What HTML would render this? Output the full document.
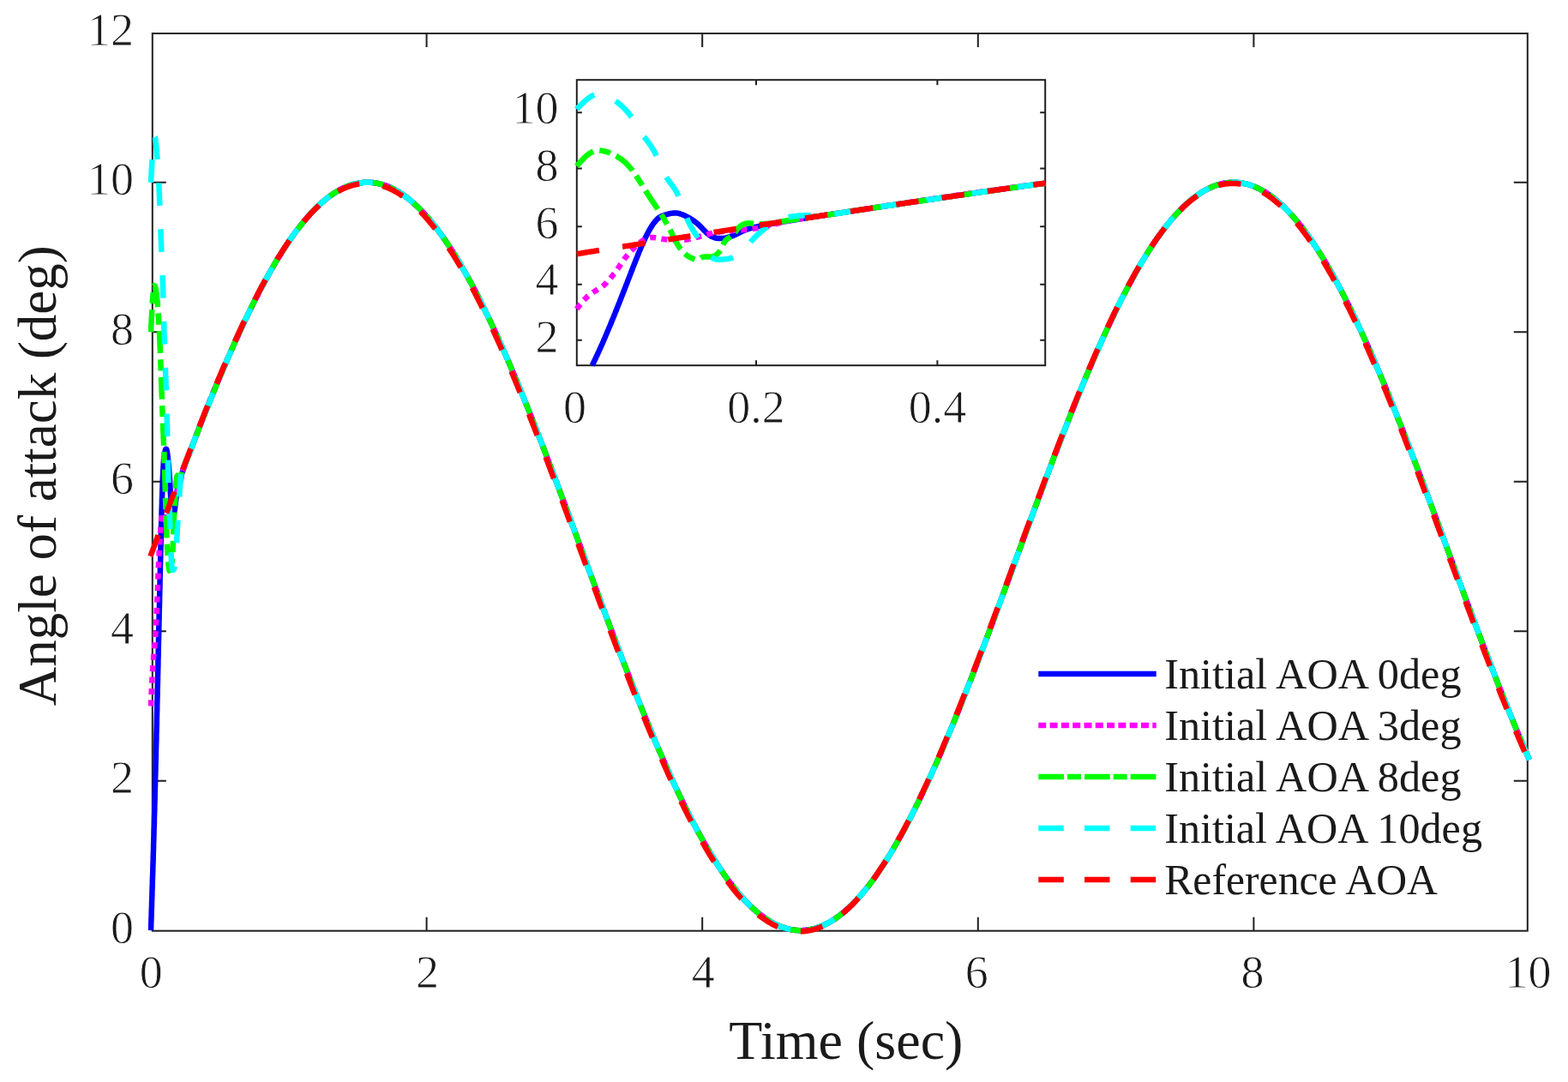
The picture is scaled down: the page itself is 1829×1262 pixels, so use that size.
<!DOCTYPE html><html><head><meta charset="utf-8"><title>Angle of attack</title><style>html,body{margin:0;padding:0;background:#fff;}svg{display:block;}text{font-family:'Liberation Serif', 'DejaVu Serif', serif;fill:#1a1a1a;}</style></head><body>
<svg width="1829" height="1262" viewBox="0 0 1829 1262">
<rect width="1829" height="1262" fill="#fff"/>
<g stroke="#1f1f1f" stroke-width="2" fill="none">
<rect x="177.8" y="39.0" width="1604.0" height="1046.7"/>
<path d="M497.6,1085.7V1069.7M497.6,39.0V55.0M819.2,1085.7V1069.7M819.2,39.0V55.0M1140.8,1085.7V1069.7M1140.8,39.0V55.0M1462.4,1085.7V1069.7M1462.4,39.0V55.0M177.8,910.7H193.8M1781.8,910.7H1765.8M177.8,736.2H193.8M1781.8,736.2H1765.8M177.8,561.7H193.8M1781.8,561.7H1765.8M177.8,387.2H193.8M1781.8,387.2H1765.8M177.8,212.7H193.8M1781.8,212.7H1765.8"/>
</g>
<g font-size="54" stroke="#fff" stroke-width="0.8">
<text x="156" y="1099.7" text-anchor="end">0</text>
<text x="156" y="925.2" text-anchor="end">2</text>
<text x="156" y="750.7" text-anchor="end">4</text>
<text x="156" y="576.2" text-anchor="end">6</text>
<text x="156" y="401.7" text-anchor="end">8</text>
<text x="156" y="227.2" text-anchor="end">10</text>
<text x="156" y="52.7" text-anchor="end">12</text>
<text x="176.3" y="1151.5" text-anchor="middle">0</text>
<text x="498.6" y="1151.5" text-anchor="middle">2</text>
<text x="820.2" y="1151.5" text-anchor="middle">4</text>
<text x="1139.3" y="1151.5" text-anchor="middle">6</text>
<text x="1460.9" y="1151.5" text-anchor="middle">8</text>
<text x="1782.5" y="1151.5" text-anchor="middle">10</text>
</g>
<text x="850.2" y="1235.2" font-size="64">Time (sec)</text>
<text transform="translate(65.3,823.2) rotate(-90)" font-size="63">Angle of attack (deg)</text>
<g fill="none" stroke-width="6.5" stroke-linejoin="round" stroke-linecap="butt">
<path d="M176.0,1085.2 176.1,1082.8 176.2,1080.3 176.2,1077.9 176.3,1075.4 176.4,1073.0 176.5,1070.5 176.6,1068.1 176.6,1065.6 176.7,1063.1 176.8,1060.7 176.9,1058.2 177.0,1055.7 177.0,1053.3 177.1,1050.8 177.2,1048.3 177.3,1045.8 177.4,1043.3 177.4,1040.7 177.5,1038.2 177.6,1035.7 177.7,1033.1 177.8,1030.6 177.8,1028.0 177.9,1025.5 178.0,1022.9 178.1,1020.3 178.2,1017.7 178.3,1015.0 178.3,1012.4 178.4,1009.8 178.5,1007.1 178.6,1004.4 178.7,1001.7 178.7,999.0 178.8,996.3 178.9,993.6 179.0,990.8 179.1,988.0 179.1,985.2 179.2,982.4 179.3,979.6 179.4,976.8 179.5,973.9 179.5,971.0 179.6,968.1 179.7,965.2 179.8,962.3 179.9,959.4 179.9,956.4 180.0,953.4 180.1,950.4 180.2,947.4 180.3,944.4 180.3,941.4 180.4,938.3 180.5,935.3 180.6,932.2 180.7,929.1 180.7,926.0 180.8,922.9 180.9,919.7 181.0,916.6 181.1,913.4 181.1,910.3 181.2,907.1 181.3,903.9 181.4,900.7 181.5,897.4 181.5,894.2 181.6,891.0 181.7,887.7 181.8,884.4 181.9,881.2 181.9,877.9 182.0,874.6 182.1,871.3 182.2,867.9 182.3,864.6 182.4,861.3 182.4,857.9 182.5,854.6 182.6,851.2 182.7,847.8 182.8,844.4 182.8,841.0 182.9,837.6 183.0,834.2 183.1,830.8 183.2,827.4 183.2,824.0 183.3,820.5 183.4,817.1 183.5,813.6 183.6,810.2 183.6,806.7 183.7,803.2 183.8,799.7 183.9,796.3 184.0,792.8 184.0,789.3 184.1,785.8 184.2,782.3 184.3,778.7 184.4,775.2 184.4,771.7 184.5,768.2 184.6,764.7 184.7,761.1 184.8,757.6 184.8,754.0 184.9,750.5 185.0,747.0 185.1,743.4 185.2,739.9 185.2,736.3 185.3,732.7 185.4,729.2 185.5,725.6 185.6,722.1 185.6,718.5 185.7,714.9 185.8,711.4 185.9,707.8 186.0,704.2 186.1,700.7 186.1,697.1 186.2,693.5 186.3,690.0 186.4,686.4 186.5,682.9 186.5,679.4 186.6,675.8 186.7,672.3 186.8,668.8 186.9,665.3 186.9,661.8 187.0,658.4 187.1,654.9 187.2,651.5 187.3,648.1 187.3,644.7 187.4,641.4 187.5,638.1 187.6,634.8 187.7,631.5 187.7,628.2 187.8,625.0 187.9,621.8 188.0,618.7 188.1,615.6 188.1,612.5 188.2,609.4 188.3,606.4 188.4,603.5 188.5,600.5 188.5,597.7 188.6,594.8 188.7,592.0 188.8,589.3 188.9,586.6 188.9,583.9 189.0,581.3 189.1,578.8 189.2,576.3 189.3,573.8 189.3,571.5 189.4,569.1 189.5,566.9 189.6,564.7 189.7,562.5 189.7,560.4 189.8,558.4 189.9,556.5 190.0,554.6 190.1,552.7 190.2,551.0 190.2,549.3 190.3,547.7 190.4,546.1 190.5,544.6 190.6,543.2 190.6,541.9 190.7,540.6 190.8,539.5 190.9,538.4 191.0,537.3 191.0,536.4 191.1,535.5 191.3,534.0 191.4,532.8 191.6,531.8 191.8,530.8 191.9,529.9 192.1,529.0 192.2,528.2 192.4,527.3 192.6,526.5 192.8,525.5 193.0,524.5 193.4,523.7 194.2,523.9 194.4,524.6 194.7,525.7 194.8,526.6 195.0,527.6 195.1,528.7 195.3,529.8 195.5,531.1 195.6,532.4 195.8,533.8 195.9,535.3 196.1,536.8 196.3,538.4 196.3,539.2 196.4,540.0 196.5,540.8 196.6,541.6 196.7,542.5 196.7,543.4 196.8,544.2 196.9,545.1 197.0,546.1 197.1,547.0 197.1,548.0 197.2,549.0 197.3,550.0 197.4,551.0 197.5,552.1 197.5,553.2 197.6,554.3 197.7,555.5 197.8,556.7 197.9,557.9 197.9,559.1 198.0,560.4 198.1,561.7 198.2,563.0 198.3,564.4 198.4,565.8 198.4,567.2 198.5,568.7 198.6,570.1 198.7,571.6 198.8,573.1 198.8,574.5 198.9,576.0 199.0,577.4 199.1,578.8 199.2,580.2 199.2,581.6 199.3,582.9 199.4,584.2 199.5,585.5 199.6,586.7 199.6,587.9 199.7,589.0 199.8,590.0 199.9,591.0 200.0,591.9 200.0,592.8 200.1,593.6 200.3,595.1 200.4,596.4 200.6,597.5 200.8,598.5 201.0,599.6 201.3,600.5 202.0,600.9 202.5,600.0 202.9,599.0 203.1,598.1 203.3,596.9 203.5,596.0 203.7,595.1 203.8,594.1 204.0,593.0 204.1,591.9 204.3,590.7 204.5,589.4 204.6,588.2 204.8,586.8 204.9,585.5 205.1,584.1 205.3,582.8 205.4,581.5 205.6,580.1 205.7,578.8 205.9,577.6 206.1,576.4 206.2,575.2 206.4,574.1 206.6,573.1 206.7,572.2 206.9,571.3 207.0,570.5 207.2,569.7 207.4,568.6 207.7,567.6 207.9,566.6 208.2,565.7 208.4,564.8 208.6,563.9 208.9,563.0 209.1,562.2 209.4,561.3 209.6,560.5 209.8,559.6 210.1,558.8 210.3,558.0 210.6,557.2 210.8,556.5 211.1,555.7 211.4,554.7 211.7,553.7 212.0,552.7 212.3,551.7 212.7,550.8 213.0,549.8 213.3,548.9 213.6,548.0 213.9,547.1 214.3,546.2 214.6,545.3 214.9,544.4 215.2,543.5 215.6,542.6 215.9,541.8 216.2,540.9 216.5,540.0 216.8,539.2 217.2,538.4 217.5,537.5 217.8,536.7 218.1,535.8 218.5,535.0 218.8,534.2 219.1,533.3 219.4,532.5 219.7,531.7 220.1,530.9 220.4,530.0 220.7,529.2 221.0,528.4 221.3,527.6 221.7,526.7 222.0,525.9 222.3,525.1 222.6,524.2 223.0,523.4 223.3,522.6 223.6,521.7 223.9,520.9 224.2,520.1 224.6,519.2 224.9,518.4 225.2,517.6 225.5,516.7 225.8,515.9 226.2,515.1 226.5,514.2 226.8,513.4 227.1,512.6 227.5,511.7 227.8,510.9 228.1,510.1 228.4,509.2 228.7,508.4 229.1,507.6 229.4,506.7 229.7,505.9 230.0,505.1 230.4,504.3 230.7,503.4 231.0,502.6 231.3,501.8 231.6,500.9 232.0,500.1 232.3,499.3 232.6,498.5 232.9,497.7 233.2,496.8 233.6,496.0 233.9,495.2 234.2,494.4 234.5,493.6 234.9,492.7 235.2,491.9 235.5,491.1 235.8,490.3 236.1,489.5 236.5,488.7 236.8,487.9 237.1,487.0 237.4,486.2 237.7,485.4 238.1,484.6 238.4,483.8 238.7,483.0 239.0,482.2 239.4,481.4 239.7,480.6 240.0,479.8 240.3,479.0 240.6,478.1 241.0,477.3 241.3,476.5 241.6,475.7 241.9,474.9 242.2,474.1 242.6,473.3 242.9,472.5 243.2,471.7 243.5,470.9 243.9,470.1 244.2,469.4 244.5,468.6 244.8,467.8 245.1,467.0 245.5,466.2 245.8,465.4 246.1,464.6 246.4,463.8 246.8,463.0 247.1,462.2 247.4,461.4 247.7,460.7 248.0,459.9 248.4,459.1 248.7,458.3 249.0,457.5 249.3,456.7 249.6,455.9 250.0,455.2 250.3,454.4 250.6,453.6 250.9,452.8 251.3,452.0 251.6,451.3 251.9,450.5 252.2,449.7 252.5,448.9 252.9,448.2 253.2,447.4 253.5,446.6 253.8,445.9 254.1,445.1 254.5,444.3 254.8,443.5 255.1,442.8 255.4,442.0 255.8,441.2 256.1,440.5 256.4,439.7 256.7,438.9 257.0,438.2 257.4,437.4 257.7,436.7 258.0,435.9 258.3,435.1 258.7,434.4 259.0,433.6 259.3,432.9 259.6,432.1 259.9,431.4 260.3,430.6 260.6,429.9 260.9,429.1 261.2,428.3 261.5,427.6 261.9,426.8 262.2,426.1 262.5,425.4 262.8,424.6 263.2,423.9 263.5,423.1 263.8,422.4 264.1,421.6 264.4,420.9 264.8,420.1 265.1,419.4 265.4,418.7 265.7,417.9 266.0,417.2 266.4,416.4 266.7,415.7 267.0,415.0 267.3,414.2 267.7,413.5 268.1,412.6 268.5,411.7 268.9,410.8 269.3,409.9 269.7,408.9 270.1,408.0 270.5,407.1 270.9,406.2 271.3,405.3 271.7,404.4 272.1,403.5 272.5,402.6 273.3,400.8 274.1,399.0 274.9,397.3 275.7,395.5 276.5,393.7 277.3,392.0 278.1,390.2 278.9,388.5 279.7,386.7 280.5,385.0 281.3,383.2 282.1,381.5 282.9,379.8 283.7,378.1 284.5,376.4 285.3,374.7 286.1,373.0 287.0,371.3 287.8,369.6 288.6,368.0 289.4,366.3 290.2,364.6 291.0,363.0 291.8,361.4 292.6,359.7 293.4,358.1 294.2,356.5 295.0,354.9 295.8,353.2 296.6,351.6 297.4,350.1 298.2,348.5 299.0,346.9 299.8,345.3 300.6,343.8 301.4,342.2 302.2,340.7 303.0,339.1 303.8,337.6 304.6,336.1 305.4,334.5 306.2,333.0 307.1,331.5 307.9,330.0 308.7,328.6 309.5,327.1 310.3,325.6 311.1,324.2 311.9,322.7 312.7,321.3 313.5,319.8 314.3,318.4 315.1,317.0 315.9,315.6 316.7,314.2 317.5,312.8 318.3,311.4 319.1,310.0 319.9,308.6 320.7,307.3 321.5,305.9 322.3,304.6 323.1,303.2 323.9,301.9 324.7,300.6 325.5,299.3 326.3,298.0 327.2,296.7 328.0,295.4 328.8,294.1 329.6,292.9 330.4,291.6 331.2,290.3 332.0,289.1 332.8,287.9 333.6,286.7 334.4,285.4 335.2,284.2 336.0,283.0 336.8,281.9 337.6,280.7 338.4,279.5 339.2,278.4 340.0,277.2 340.8,276.1 341.6,275.0 342.4,273.8 343.2,272.7 344.0,271.6 344.8,270.5 345.6,269.5 346.4,268.4 347.3,267.3 348.1,266.3 348.9,265.2 349.7,264.2 350.5,263.2 351.3,262.2 352.1,261.2 352.9,260.2 353.7,259.2 354.5,258.2 355.3,257.2 356.1,256.3 356.9,255.3 357.7,254.4 358.5,253.5 359.3,252.6 360.1,251.7 360.9,250.8 361.7,249.9 362.5,249.0 363.3,248.1 364.1,247.3 364.9,246.4 365.7,245.6 366.5,244.8 367.4,243.9 368.2,243.1 369.0,242.3 369.8,241.6 370.6,240.8 371.4,240.0 372.2,239.3 373.0,238.5 373.8,237.8 374.6,237.1 375.4,236.4 376.2,235.6 377.0,235.0 377.8,234.3 378.6,233.6 379.4,232.9 380.2,232.3 381.0,231.6 381.8,231.0 382.6,230.4 383.4,229.8 384.2,229.2 385.0,228.6 385.8,228.0 386.6,227.5 387.5,226.9 388.3,226.3 389.1,225.8 389.9,225.3 390.7,224.8 391.5,224.3 392.3,223.8 393.1,223.3 393.9,222.8 394.7,222.4 395.5,221.9 396.3,221.5 397.1,221.0 397.9,220.6 398.7,220.2 399.5,219.8 400.3,219.4 401.1,219.0 401.9,218.7 402.7,218.3 403.5,218.0 404.3,217.7 405.1,217.3 405.9,217.0 406.7,216.7 407.6,216.4 408.4,216.1 409.2,215.9 410.0,215.6 410.8,215.4 411.6,215.1 412.4,214.9 413.2,214.7 414.0,214.5 414.8,214.3 415.6,214.1 416.4,214.0 417.2,213.8 418.0,213.6 418.8,213.5 419.6,213.4 420.4,213.3 421.2,213.2 422.0,213.1 422.8,213.0 423.6,212.9 424.4,212.8 425.2,212.8 426.0,212.8 426.8,212.7 427.7,212.7 428.5,212.7 429.3,212.7 430.1,212.7 430.9,212.7 431.7,212.8 432.5,212.8 433.3,212.9 434.1,213.0 434.9,213.0 435.7,213.1 436.5,213.2 437.3,213.3 438.1,213.5 438.9,213.6 439.7,213.7 440.5,213.9 441.3,214.1 442.1,214.2 442.9,214.4 443.7,214.6 444.5,214.8 445.3,215.1 446.1,215.3 446.9,215.5 447.8,215.8 448.6,216.1 449.4,216.3 450.2,216.6 451.0,216.9 451.8,217.2 452.6,217.5 453.4,217.9 454.2,218.2 455.0,218.6 455.8,218.9 456.6,219.3 457.4,219.7 458.2,220.1 459.0,220.5 459.8,220.9 460.6,221.3 461.4,221.8 462.2,222.2 463.0,222.7 463.8,223.1 464.6,223.6 465.4,224.1 466.2,224.6 467.0,225.1 467.9,225.6 468.7,226.2 469.5,226.7 470.3,227.3 471.1,227.8 471.9,228.4 472.7,229.0 473.5,229.6 474.3,230.2 475.1,230.8 475.9,231.4 476.7,232.1 477.5,232.7 478.3,233.4 479.1,234.1 479.9,234.7 480.7,235.4 481.5,236.1 482.3,236.8 483.1,237.6 483.9,238.3 484.7,239.0 485.5,239.8 486.3,240.5 487.1,241.3 488.0,242.1 488.8,242.9 489.6,243.7 490.4,244.5 491.2,245.3 492.0,246.2 492.8,247.0 493.6,247.9 494.4,248.7 495.2,249.6 496.0,250.5 496.8,251.4 497.6,252.3 498.4,253.2 499.2,254.1 500.0,255.0 500.8,256.0 501.6,256.9 502.4,257.9 503.2,258.9 504.0,259.8 504.8,260.8 505.6,261.8 506.4,262.8 507.2,263.9 508.1,264.9 508.9,265.9 509.7,267.0 510.5,268.0 511.3,269.1 512.1,270.2 512.9,271.3 513.7,272.4 514.5,273.5 515.3,274.6 516.1,275.7 516.9,276.9 517.7,278.0 518.5,279.2 519.3,280.3 520.1,281.5 520.9,282.7 521.7,283.9 522.5,285.1 523.3,286.3 524.1,287.5 524.9,288.7 525.7,289.9 526.5,291.2 527.3,292.4 528.2,293.7 529.0,295.0 529.8,296.2 530.6,297.5 531.4,298.8 532.2,300.1 533.0,301.4 533.8,302.8 534.6,304.1 535.4,305.4 536.2,306.8 537.0,308.1 537.8,309.5 538.6,310.9 539.4,312.3 540.2,313.7 541.0,315.1 541.8,316.5 542.6,317.9 543.4,319.3 544.2,320.7 545.0,322.2 545.8,323.6 546.6,325.1 547.4,326.6 548.3,328.0 549.1,329.5 549.9,331.0 550.7,332.5 551.5,334.0 552.3,335.5 553.1,337.0 553.9,338.6 554.7,340.1 555.5,341.7 556.3,343.2 557.1,344.8 557.9,346.3 558.7,347.9 559.5,349.5 560.3,351.1 561.1,352.7 561.9,354.3 562.7,355.9 563.5,357.5 564.3,359.1 565.1,360.8 565.9,362.4 566.7,364.1 567.5,365.7 568.4,367.4 569.2,369.0 570.0,370.7 570.8,372.4 571.6,374.1 572.4,375.8 573.2,377.5 574.0,379.2 574.8,380.9 575.6,382.7 576.4,384.4 577.2,386.1 578.0,387.9 578.8,389.6 579.6,391.4 580.4,393.1 581.2,394.9 582.0,396.7 582.8,398.5 583.6,400.3 584.4,402.1 585.2,403.9 586.0,405.7 586.8,407.5 587.6,409.3 588.5,411.1 589.3,413.0 590.1,414.8 590.9,416.6 591.7,418.5 592.5,420.3 593.3,422.2 594.1,424.1 594.9,425.9 595.7,427.8 596.5,429.7 597.3,431.6 598.1,433.5 598.9,435.4 599.7,437.3 600.5,439.2 601.3,441.1 602.1,443.0 602.9,445.0 603.7,446.9 604.5,448.8 605.3,450.8 606.1,452.7 606.9,454.7 607.7,456.6 608.6,458.6 609.4,460.5 610.2,462.5 611.0,464.5 611.8,466.5 612.6,468.4 613.4,470.4 614.2,472.4 615.0,474.4 615.8,476.4 616.6,478.4 617.4,480.4 618.2,482.5 619.0,484.5 619.8,486.5 620.6,488.5 621.4,490.5 622.2,492.6 623.0,494.6 623.8,496.7 624.6,498.7 625.4,500.8 626.2,502.8 627.0,504.9 627.8,506.9 628.7,509.0 629.5,511.1 630.3,513.1 631.1,515.2 631.9,517.3 632.7,519.4 633.5,521.5 634.3,523.5 635.1,525.6 635.9,527.7 636.7,529.8 637.5,531.9 638.3,534.0 639.1,536.1 639.9,538.2 640.7,540.3 641.5,542.5 642.3,544.6 643.1,546.7 643.9,548.8 644.7,550.9 645.5,553.1 646.3,555.2 647.1,557.3 647.9,559.5 648.8,561.6 649.6,563.7 650.4,565.9 651.2,568.0 652.0,570.2 652.8,572.3 653.6,574.5 654.4,576.6 655.2,578.8 656.0,580.9 656.8,583.1 657.6,585.2 658.4,587.4 659.2,589.5 660.0,591.7 660.8,593.9 661.6,596.0 662.4,598.2 663.2,600.4 664.0,602.5 664.8,604.7 665.6,606.9 666.4,609.0 667.2,611.2 668.0,613.4 668.9,615.6 669.7,617.7 670.5,619.9 671.3,622.1 672.1,624.3 672.9,626.5 673.7,628.6 674.5,630.8 675.3,633.0 676.1,635.2 676.9,637.4 677.7,639.5 678.5,641.7 679.3,643.9 680.1,646.1 680.9,648.3 681.7,650.4 682.5,652.6 683.3,654.8 684.1,657.0 684.9,659.2 685.7,661.3 686.5,663.5 687.3,665.7 688.1,667.9 689.0,670.1 689.8,672.2 690.6,674.4 691.4,676.6 692.2,678.8 693.0,680.9 693.8,683.1 694.6,685.3 695.4,687.5 696.2,689.6 697.0,691.8 697.8,694.0 698.6,696.2 699.4,698.3 700.2,700.5 701.0,702.6 701.8,704.8 702.6,707.0 703.4,709.1 704.2,711.3 705.0,713.5 705.8,715.6 706.6,717.8 707.4,719.9 708.2,722.1 709.1,724.2 709.9,726.4 710.7,728.5 711.5,730.7 712.3,732.8 713.1,734.9 713.9,737.1 714.7,739.2 715.5,741.3 716.3,743.5 717.1,745.6 717.9,747.7 718.7,749.9 719.5,752.0 720.3,754.1 721.1,756.2 721.9,758.3 722.7,760.4 723.5,762.5 724.3,764.6 725.1,766.7 725.9,768.8 726.7,770.9 727.5,773.0 728.3,775.1 729.2,777.2 730.0,779.3 730.8,781.4 731.6,783.4 732.4,785.5 733.2,787.6 734.0,789.7 734.8,791.7 735.6,793.8 736.4,795.8 737.2,797.9 738.0,799.9 738.8,802.0 739.6,804.0 740.4,806.1 741.2,808.1 742.0,810.1 742.8,812.1 743.6,814.2 744.4,816.2 745.2,818.2 746.0,820.2 746.8,822.2 747.6,824.2 748.4,826.2 749.3,828.2 750.1,830.2 750.9,832.2 751.7,834.1 752.5,836.1 753.3,838.1 754.1,840.0 754.9,842.0 755.7,844.0 756.5,845.9 757.3,847.8 758.1,849.8 758.9,851.7 759.7,853.6 760.5,855.6 761.3,857.5 762.1,859.4 762.9,861.3 763.7,863.2 764.5,865.1 765.3,867.0 766.1,868.9 766.9,870.8 767.7,872.6 768.5,874.5 769.4,876.4 770.2,878.2 771.0,880.1 771.8,881.9 772.6,883.8 773.4,885.6 774.2,887.4 775.0,889.3 775.8,891.1 776.6,892.9 777.4,894.7 778.2,896.5 779.0,898.3 779.8,900.1 780.6,901.9 781.4,903.6 782.2,905.4 783.0,907.2 783.8,908.9 784.6,910.7 785.4,912.4 786.2,914.1 787.0,915.9 787.8,917.6 788.6,919.3 789.5,921.0 790.3,922.7 791.1,924.4 791.9,926.1 792.7,927.8 793.5,929.5 794.3,931.1 795.1,932.8 795.9,934.4 796.7,936.1 797.5,937.7 798.3,939.4 799.1,941.0 799.9,942.6 800.7,944.2 801.5,945.8 802.3,947.4 803.1,949.0 803.9,950.6 804.7,952.1 805.5,953.7 806.3,955.3 807.1,956.8 807.9,958.4 808.7,959.9 809.6,961.4 810.4,962.9 811.2,964.4 812.0,965.9 812.8,967.4 813.6,968.9 814.4,970.4 815.2,971.9 816.0,973.3 816.8,974.8 817.6,976.2 818.4,977.7 819.2,979.1 820.0,980.5 820.8,981.9 821.6,983.3 822.4,984.7 823.2,986.1 824.0,987.5 824.8,988.9 825.6,990.2 826.4,991.6 827.2,992.9 828.0,994.3 828.8,995.6 829.7,996.9 830.5,998.2 831.3,999.5 832.1,1000.8 832.9,1002.1 833.7,1003.4 834.5,1004.7 835.3,1005.9 836.1,1007.2 836.9,1008.4 837.7,1009.6 838.5,1010.9 839.3,1012.1 840.1,1013.3 840.9,1014.5 841.7,1015.7 842.5,1016.8 843.3,1018.0 844.1,1019.2 844.9,1020.3 845.7,1021.5 846.5,1022.6 847.3,1023.7 848.1,1024.8 848.9,1025.9 849.8,1027.0 850.6,1028.1 851.4,1029.2 852.2,1030.2 853.0,1031.3 853.8,1032.3 854.6,1033.4 855.4,1034.4 856.2,1035.4 857.0,1036.4 857.8,1037.4 858.6,1038.4 859.4,1039.4 860.2,1040.4 861.0,1041.3 861.8,1042.3 862.6,1043.2 863.4,1044.1 864.2,1045.1 865.0,1046.0 865.8,1046.9 866.6,1047.7 867.4,1048.6 868.2,1049.5 869.0,1050.4 869.9,1051.2 870.7,1052.0 871.5,1052.9 872.3,1053.7 873.1,1054.5 873.9,1055.3 874.7,1056.1 875.5,1056.9 876.3,1057.6 877.1,1058.4 877.9,1059.1 878.7,1059.9 879.5,1060.6 880.3,1061.3 881.1,1062.0 881.9,1062.7 882.7,1063.4 883.5,1064.1 884.3,1064.8 885.1,1065.4 885.9,1066.1 886.7,1066.7 887.5,1067.3 888.3,1067.9 889.1,1068.5 890.0,1069.1 890.8,1069.7 891.6,1070.3 892.4,1070.8 893.2,1071.4 894.0,1071.9 894.8,1072.4 895.6,1073.0 896.4,1073.5 897.2,1074.0 898.0,1074.5 898.8,1074.9 899.6,1075.4 900.4,1075.9 901.2,1076.3 902.0,1076.7 902.8,1077.2 903.6,1077.6 904.4,1078.0 905.2,1078.4 906.0,1078.7 906.8,1079.1 907.6,1079.5 908.4,1079.8 909.2,1080.1 910.1,1080.5 910.9,1080.8 911.7,1081.1 912.5,1081.4 913.3,1081.7 914.1,1081.9 914.9,1082.2 915.7,1082.4 916.5,1082.7 917.3,1082.9 918.1,1083.1 918.9,1083.3 919.7,1083.5 920.5,1083.7 921.3,1083.9 922.1,1084.1 922.9,1084.2 923.7,1084.4 924.5,1084.5 925.3,1084.6 926.1,1084.7 926.9,1084.8 927.7,1084.9 928.5,1085.0 929.3,1085.0 930.2,1085.1 931.0,1085.1 931.8,1085.2 932.6,1085.2 933.4,1085.2 934.2,1085.2 935.0,1085.2 935.8,1085.2 936.6,1085.1 937.4,1085.1 938.2,1085.0 939.0,1085.0 939.8,1084.9 940.6,1084.8 941.4,1084.7 942.2,1084.6 943.0,1084.5 943.8,1084.3 944.6,1084.2 945.4,1084.1 946.2,1083.9 947.0,1083.7 947.8,1083.5 948.6,1083.3 949.4,1083.1 950.3,1082.9 951.1,1082.7 951.9,1082.4 952.7,1082.2 953.5,1081.9 954.3,1081.7 955.1,1081.4 955.9,1081.1 956.7,1080.8 957.5,1080.5 958.3,1080.1 959.1,1079.8 959.9,1079.4 960.7,1079.1 961.5,1078.7 962.3,1078.3 963.1,1077.9 963.9,1077.5 964.7,1077.1 965.5,1076.7 966.3,1076.3 967.1,1075.8 967.9,1075.4 968.7,1074.9 969.5,1074.4 970.4,1073.9 971.2,1073.5 972.0,1072.9 972.8,1072.4 973.6,1071.9 974.4,1071.4 975.2,1070.8 976.0,1070.2 976.8,1069.7 977.6,1069.1 978.4,1068.5 979.2,1067.9 980.0,1067.3 980.8,1066.7 981.6,1066.0 982.4,1065.4 983.2,1064.7 984.0,1064.1 984.8,1063.4 985.6,1062.7 986.4,1062.0 987.2,1061.3 988.0,1060.6 988.8,1059.8 989.6,1059.1 990.5,1058.4 991.3,1057.6 992.1,1056.8 992.9,1056.1 993.7,1055.3 994.5,1054.5 995.3,1053.7 996.1,1052.8 996.9,1052.0 997.7,1051.2 998.5,1050.3 999.3,1049.5 1000.1,1048.6 1000.9,1047.7 1001.7,1046.8 1002.5,1045.9 1003.3,1045.0 1004.1,1044.1 1004.9,1043.2 1005.7,1042.2 1006.5,1041.3 1007.3,1040.3 1008.1,1039.3 1008.9,1038.4 1009.7,1037.4 1010.6,1036.4 1011.4,1035.4 1012.2,1034.4 1013.0,1033.3 1013.8,1032.3 1014.6,1031.2 1015.4,1030.2 1016.2,1029.1 1017.0,1028.1 1017.8,1027.0 1018.6,1025.9 1019.4,1024.8 1020.2,1023.7 1021.0,1022.5 1021.8,1021.4 1022.6,1020.3 1023.4,1019.1 1024.2,1018.0 1025.0,1016.8 1025.8,1015.6 1026.6,1014.4 1027.4,1013.2 1028.2,1012.0 1029.0,1010.8 1029.8,1009.6 1030.7,1008.4 1031.5,1007.1 1032.3,1005.9 1033.1,1004.6 1033.9,1003.3 1034.7,1002.1 1035.5,1000.8 1036.3,999.5 1037.1,998.2 1037.9,996.9 1038.7,995.6 1039.5,994.2 1040.3,992.9 1041.1,991.5 1041.9,990.2 1042.7,988.8 1043.5,987.4 1044.3,986.1 1045.1,984.7 1045.9,983.3 1046.7,981.9 1047.5,980.5 1048.3,979.0 1049.1,977.6 1049.9,976.2 1050.8,974.7 1051.6,973.3 1052.4,971.8 1053.2,970.3 1054.0,968.9 1054.8,967.4 1055.6,965.9 1056.4,964.4 1057.2,962.9 1058.0,961.3 1058.8,959.8 1059.6,958.3 1060.4,956.7 1061.2,955.2 1062.0,953.6 1062.8,952.1 1063.6,950.5 1064.4,948.9 1065.2,947.3 1066.0,945.7 1066.8,944.1 1067.6,942.5 1068.4,940.9 1069.2,939.3 1070.0,937.6 1070.9,936.0 1071.7,934.4 1072.5,932.7 1073.3,931.1 1074.1,929.4 1074.9,927.7 1075.7,926.0 1076.5,924.3 1077.3,922.6 1078.1,920.9 1078.9,919.2 1079.7,917.5 1080.5,915.8 1081.3,914.1 1082.1,912.3 1082.9,910.6 1083.7,908.8 1084.5,907.1 1085.3,905.3 1086.1,903.6 1086.9,901.8 1087.7,900.0 1088.5,898.2 1089.3,896.4 1090.1,894.6 1091.0,892.8 1091.8,891.0 1092.6,889.2 1093.4,887.4 1094.2,885.5 1095.0,883.7 1095.8,881.9 1096.6,880.0 1097.4,878.2 1098.2,876.3 1099.0,874.4 1099.8,872.6 1100.6,870.7 1101.4,868.8 1102.2,866.9 1103.0,865.0 1103.8,863.1 1104.6,861.2 1105.4,859.3 1106.2,857.4 1107.0,855.5 1107.8,853.6 1108.6,851.6 1109.4,849.7 1110.2,847.8 1111.1,845.8 1111.9,843.9 1112.7,841.9 1113.5,840.0 1114.3,838.0 1115.1,836.0 1115.9,834.0 1116.7,832.1 1117.5,830.1 1118.3,828.1 1119.1,826.1 1119.9,824.1 1120.7,822.1 1121.5,820.1 1122.3,818.1 1123.1,816.1 1123.9,814.1 1124.7,812.1 1125.5,810.0 1126.3,808.0 1127.1,806.0 1127.9,803.9 1128.7,801.9 1129.5,799.8 1130.3,797.8 1131.2,795.7 1132.0,793.7 1132.8,791.6 1133.6,789.6 1134.4,787.5 1135.2,785.4 1136.0,783.4 1136.8,781.3 1137.6,779.2 1138.4,777.1 1139.2,775.0 1140.0,772.9 1140.8,770.8 1141.6,768.7 1142.4,766.7 1143.2,764.5 1144.0,762.4 1144.8,760.3 1145.6,758.2 1146.4,756.1 1147.2,754.0 1148.0,751.9 1148.8,749.8 1149.6,747.6 1150.4,745.5 1151.3,743.4 1152.1,741.2 1152.9,739.1 1153.7,737.0 1154.5,734.8 1155.3,732.7 1156.1,730.6 1156.9,728.4 1157.7,726.3 1158.5,724.1 1159.3,722.0 1160.1,719.8 1160.9,717.7 1161.7,715.5 1162.5,713.4 1163.3,711.2 1164.1,709.0 1164.9,706.9 1165.7,704.7 1166.5,702.6 1167.3,700.4 1168.1,698.2 1168.9,696.1 1169.7,693.9 1170.5,691.7 1171.4,689.5 1172.2,687.4 1173.0,685.2 1173.8,683.0 1174.6,680.8 1175.4,678.7 1176.2,676.5 1177.0,674.3 1177.8,672.1 1178.6,670.0 1179.4,667.8 1180.2,665.6 1181.0,663.4 1181.8,661.2 1182.6,659.1 1183.4,656.9 1184.2,654.7 1185.0,652.5 1185.8,650.3 1186.6,648.2 1187.4,646.0 1188.2,643.8 1189.0,641.6 1189.8,639.4 1190.6,637.3 1191.5,635.1 1192.3,632.9 1193.1,630.7 1193.9,628.5 1194.7,626.4 1195.5,624.2 1196.3,622.0 1197.1,619.8 1197.9,617.6 1198.7,615.5 1199.5,613.3 1200.3,611.1 1201.1,609.0 1201.9,606.8 1202.7,604.6 1203.5,602.4 1204.3,600.3 1205.1,598.1 1205.9,595.9 1206.7,593.8 1207.5,591.6 1208.3,589.5 1209.1,587.3 1209.9,585.1 1210.7,583.0 1211.6,580.8 1212.4,578.7 1213.2,576.5 1214.0,574.4 1214.8,572.2 1215.6,570.1 1216.4,567.9 1217.2,565.8 1218.0,563.6 1218.8,561.5 1219.6,559.4 1220.4,557.2 1221.2,555.1 1222.0,553.0 1222.8,550.8 1223.6,548.7 1224.4,546.6 1225.2,544.5 1226.0,542.4 1226.8,540.3 1227.6,538.1 1228.4,536.0 1229.2,533.9 1230.0,531.8 1230.8,529.7 1231.7,527.6 1232.5,525.5 1233.3,523.4 1234.1,521.4 1234.9,519.3 1235.7,517.2 1236.5,515.1 1237.3,513.0 1238.1,511.0 1238.9,508.9 1239.7,506.8 1240.5,504.8 1241.3,502.7 1242.1,500.7 1242.9,498.6 1243.7,496.6 1244.5,494.5 1245.3,492.5 1246.1,490.5 1246.9,488.4 1247.7,486.4 1248.5,484.4 1249.3,482.4 1250.1,480.3 1250.9,478.3 1251.8,476.3 1252.6,474.3 1253.4,472.3 1254.2,470.3 1255.0,468.4 1255.8,466.4 1256.6,464.4 1257.4,462.4 1258.2,460.4 1259.0,458.5 1259.8,456.5 1260.6,454.6 1261.4,452.6 1262.2,450.7 1263.0,448.7 1263.8,446.8 1264.6,444.9 1265.4,442.9 1266.2,441.0 1267.0,439.1 1267.8,437.2 1268.6,435.3 1269.4,433.4 1270.2,431.5 1271.0,429.6 1271.9,427.7 1272.7,425.9 1273.5,424.0 1274.3,422.1 1275.1,420.3 1275.9,418.4 1276.7,416.5 1277.5,414.7 1278.3,412.9 1279.1,411.0 1279.9,409.2 1280.7,407.4 1281.5,405.6 1282.3,403.8 1283.1,402.0 1283.9,400.2 1284.7,398.4 1285.5,396.6 1286.3,394.8 1287.1,393.1 1287.9,391.3 1288.7,389.5 1289.5,387.8 1290.3,386.0 1291.1,384.3 1292.0,382.6 1292.8,380.9 1293.6,379.1 1294.4,377.4 1295.2,375.7 1296.0,374.0 1296.8,372.3 1297.6,370.7 1298.4,369.0 1299.2,367.3 1300.0,365.6 1300.8,364.0 1301.6,362.3 1302.4,360.7 1303.2,359.1 1304.0,357.4 1304.8,355.8 1305.6,354.2 1306.4,352.6 1307.2,351.0 1308.0,349.4 1308.8,347.8 1309.6,346.3 1310.4,344.7 1311.2,343.1 1312.1,341.6 1312.9,340.0 1313.7,338.5 1314.5,337.0 1315.3,335.5 1316.1,333.9 1316.9,332.4 1317.7,330.9 1318.5,329.4 1319.3,328.0 1320.1,326.5 1320.9,325.0 1321.7,323.6 1322.5,322.1 1323.3,320.7 1324.1,319.2 1324.9,317.8 1325.7,316.4 1326.5,315.0 1327.3,313.6 1328.1,312.2 1328.9,310.8 1329.7,309.5 1330.5,308.1 1331.3,306.7 1332.2,305.4 1333.0,304.0 1333.8,302.7 1334.6,301.4 1335.4,300.1 1336.2,298.8 1337.0,297.5 1337.8,296.2 1338.6,294.9 1339.4,293.6 1340.2,292.4 1341.0,291.1 1341.8,289.9 1342.6,288.6 1343.4,287.4 1344.2,286.2 1345.0,285.0 1345.8,283.8 1346.6,282.6 1347.4,281.4 1348.2,280.3 1349.0,279.1 1349.8,277.9 1350.6,276.8 1351.4,275.7 1352.3,274.5 1353.1,273.4 1353.9,272.3 1354.7,271.2 1355.5,270.1 1356.3,269.1 1357.1,268.0 1357.9,266.9 1358.7,265.9 1359.5,264.9 1360.3,263.8 1361.1,262.8 1361.9,261.8 1362.7,260.8 1363.5,259.8 1364.3,258.8 1365.1,257.9 1365.9,256.9 1366.7,255.9 1367.5,255.0 1368.3,254.1 1369.1,253.1 1369.9,252.2 1370.7,251.3 1371.5,250.4 1372.4,249.6 1373.2,248.7 1374.0,247.8 1374.8,247.0 1375.6,246.1 1376.4,245.3 1377.2,244.5 1378.0,243.7 1378.8,242.9 1379.6,242.1 1380.4,241.3 1381.2,240.5 1382.0,239.7 1382.8,239.0 1383.6,238.3 1384.4,237.5 1385.2,236.8 1386.0,236.1 1386.8,235.4 1387.6,234.7 1388.4,234.0 1389.2,233.4 1390.0,232.7 1390.8,232.1 1391.6,231.4 1392.5,230.8 1393.3,230.2 1394.1,229.6 1394.9,229.0 1395.7,228.4 1396.5,227.8 1397.3,227.2 1398.1,226.7 1398.9,226.2 1399.7,225.6 1400.5,225.1 1401.3,224.6 1402.1,224.1 1402.9,223.6 1403.7,223.1 1404.5,222.6 1405.3,222.2 1406.1,221.7 1406.9,221.3 1407.7,220.9 1408.5,220.5 1409.3,220.1 1410.1,219.7 1410.9,219.3 1411.7,218.9 1412.6,218.6 1413.4,218.2 1414.2,217.9 1415.0,217.5 1415.8,217.2 1416.6,216.9 1417.4,216.6 1418.2,216.3 1419.0,216.0 1419.8,215.8 1420.6,215.5 1421.4,215.3 1422.2,215.1 1423.0,214.8 1423.8,214.6 1424.6,214.4 1425.4,214.2 1426.2,214.1 1427.0,213.9 1427.8,213.7 1428.6,213.6 1429.4,213.5 1430.2,213.3 1431.0,213.2 1431.8,213.1 1432.7,213.0 1433.5,213.0 1434.3,212.9 1435.1,212.8 1435.9,212.8 1436.7,212.7 1437.5,212.7 1438.3,212.7 1439.1,212.7 1439.9,212.7 1440.7,212.7 1441.5,212.8 1442.3,212.8 1443.1,212.8 1443.9,212.9 1444.7,213.0 1445.5,213.1 1446.3,213.2 1447.1,213.3 1447.9,213.4 1448.7,213.5 1449.5,213.7 1450.3,213.8 1451.1,214.0 1451.9,214.1 1452.8,214.3 1453.6,214.5 1454.4,214.7 1455.2,214.9 1456.0,215.1 1456.8,215.4 1457.6,215.6 1458.4,215.9 1459.2,216.2 1460.0,216.4 1460.8,216.7 1461.6,217.0 1462.4,217.3 1463.2,217.7 1464.0,218.0 1464.8,218.3 1465.6,218.7 1466.4,219.1 1467.2,219.4 1468.0,219.8 1468.8,220.2 1469.6,220.6 1470.4,221.1 1471.2,221.5 1472.0,221.9 1472.9,222.4 1473.7,222.8 1474.5,223.3 1475.3,223.8 1476.1,224.3 1476.9,224.8 1477.7,225.3 1478.5,225.8 1479.3,226.4 1480.1,226.9 1480.9,227.5 1481.7,228.0 1482.5,228.6 1483.3,229.2 1484.1,229.8 1484.9,230.4 1485.7,231.0 1486.5,231.7 1487.3,232.3 1488.1,233.0 1488.9,233.6 1489.7,234.3 1490.5,235.0 1491.3,235.7 1492.1,236.4 1493.0,237.1 1493.8,237.8 1494.6,238.6 1495.4,239.3 1496.2,240.1 1497.0,240.8 1497.8,241.6 1498.6,242.4 1499.4,243.2 1500.2,244.0 1501.0,244.8 1501.8,245.6 1502.6,246.5 1503.4,247.3 1504.2,248.2 1505.0,249.0 1505.8,249.9 1506.6,250.8 1507.4,251.7 1508.2,252.6 1509.0,253.5 1509.8,254.4 1510.6,255.4 1511.4,256.3 1512.2,257.3 1513.1,258.2 1513.9,259.2 1514.7,260.2 1515.5,261.2 1516.3,262.2 1517.1,263.2 1517.9,264.2 1518.7,265.3 1519.5,266.3 1520.3,267.4 1521.1,268.4 1521.9,269.5 1522.7,270.6 1523.5,271.7 1524.3,272.8 1525.1,273.9 1525.9,275.0 1526.7,276.1 1527.5,277.3 1528.3,278.4 1529.1,279.6 1529.9,280.7 1530.7,281.9 1531.5,283.1 1532.3,284.3 1533.2,285.5 1534.0,286.7 1534.8,287.9 1535.6,289.1 1536.4,290.4 1537.2,291.6 1538.0,292.9 1538.8,294.2 1539.6,295.4 1540.4,296.7 1541.2,298.0 1542.0,299.3 1542.8,300.6 1543.6,301.9 1544.4,303.3 1545.2,304.6 1546.0,305.9 1546.8,307.3 1547.6,308.6 1548.4,310.0 1549.2,311.4 1550.0,312.8 1550.8,314.2 1551.6,315.6 1552.4,317.0 1553.3,318.4 1554.1,319.8 1554.9,321.3 1555.7,322.7 1556.5,324.2 1557.3,325.6 1558.1,327.1 1558.9,328.6 1559.7,330.1 1560.5,331.5 1561.3,333.0 1562.1,334.6 1562.9,336.1 1563.7,337.6 1564.5,339.1 1565.3,340.7 1566.1,342.2 1566.9,343.8 1567.7,345.3 1568.5,346.9 1569.3,348.5 1570.1,350.1 1570.9,351.7 1571.7,353.3 1572.5,354.9 1573.4,356.5 1574.2,358.1 1575.0,359.7 1575.8,361.4 1576.6,363.0 1577.4,364.7 1578.2,366.3 1579.0,368.0 1579.8,369.7 1580.6,371.3 1581.4,373.0 1582.2,374.7 1583.0,376.4 1583.8,378.1 1584.6,379.8 1585.4,381.6 1586.2,383.3 1587.0,385.0 1587.8,386.8 1588.6,388.5 1589.4,390.3 1590.2,392.0 1591.0,393.8 1591.8,395.6 1592.6,397.3 1593.5,399.1 1594.3,400.9 1595.1,402.7 1595.9,404.5 1596.7,406.3 1597.5,408.1 1598.3,410.0 1599.1,411.8 1599.9,413.6 1600.7,415.5 1601.5,417.3 1602.3,419.2 1603.1,421.0 1603.9,422.9 1604.7,424.7 1605.5,426.6 1606.3,428.5 1607.1,430.4 1607.9,432.3 1608.7,434.2 1609.5,436.1 1610.3,438.0 1611.1,439.9 1611.9,441.8 1612.7,443.7 1613.6,445.7 1614.4,447.6 1615.2,449.5 1616.0,451.5 1616.8,453.4 1617.6,455.4 1618.4,457.3 1619.2,459.3 1620.0,461.3 1620.8,463.2 1621.6,465.2 1622.4,467.2 1623.2,469.2 1624.0,471.2 1624.8,473.1 1625.6,475.1 1626.4,477.1 1627.2,479.2 1628.0,481.2 1628.8,483.2 1629.6,485.2 1630.4,487.2 1631.2,489.3 1632.0,491.3 1632.8,493.3 1633.7,495.4 1634.5,497.4 1635.3,499.5 1636.1,501.5 1636.9,503.6 1637.7,505.6 1638.5,507.7 1639.3,509.7 1640.1,511.8 1640.9,513.9 1641.7,516.0 1642.5,518.0 1643.3,520.1 1644.1,522.2 1644.9,524.3 1645.7,526.4 1646.5,528.5 1647.3,530.6 1648.1,532.7 1648.9,534.8 1649.7,536.9 1650.5,539.0 1651.3,541.1 1652.1,543.2 1652.9,545.3 1653.8,547.5 1654.6,549.6 1655.4,551.7 1656.2,553.8 1657.0,556.0 1657.8,558.1 1658.6,560.2 1659.4,562.4 1660.2,564.5 1661.0,566.7 1661.8,568.8 1662.6,570.9 1663.4,573.1 1664.2,575.2 1665.0,577.4 1665.8,579.5 1666.6,581.7 1667.4,583.9 1668.2,586.0 1669.0,588.2 1669.8,590.3 1670.6,592.5 1671.4,594.7 1672.2,596.8 1673.0,599.0 1673.9,601.2 1674.7,603.3 1675.5,605.5 1676.3,607.7 1677.1,609.8 1677.9,612.0 1678.7,614.2 1679.5,616.4 1680.3,618.5 1681.1,620.7 1681.9,622.9 1682.7,625.1 1683.5,627.2 1684.3,629.4 1685.1,631.6 1685.9,633.8 1686.7,636.0 1687.5,638.1 1688.3,640.3 1689.1,642.5 1689.9,644.7 1690.7,646.9 1691.5,649.0 1692.3,651.2 1693.1,653.4 1694.0,655.6 1694.8,657.8 1695.6,660.0 1696.4,662.1 1697.2,664.3 1698.0,666.5 1698.8,668.7 1699.6,670.9 1700.4,673.0 1701.2,675.2 1702.0,677.4 1702.8,679.6 1703.6,681.7 1704.4,683.9 1705.2,686.1 1706.0,688.3 1706.8,690.4 1707.6,692.6 1708.4,694.8 1709.2,696.9 1710.0,699.1 1710.8,701.3 1711.6,703.4 1712.4,705.6 1713.2,707.8 1714.1,709.9 1714.9,712.1 1715.7,714.2 1716.5,716.4 1717.3,718.5 1718.1,720.7 1718.9,722.9 1719.7,725.0 1720.5,727.1 1721.3,729.3 1722.1,731.4 1722.9,733.6 1723.7,735.7 1724.5,737.9 1725.3,740.0 1726.1,742.1 1726.9,744.2 1727.7,746.4 1728.5,748.5 1729.3,750.6 1730.1,752.7 1730.9,754.9 1731.7,757.0 1732.5,759.1 1733.3,761.2 1734.2,763.3 1735.0,765.4 1735.8,767.5 1736.6,769.6 1737.4,771.7 1738.2,773.8 1739.0,775.9 1739.8,778.0 1740.6,780.0 1741.4,782.1 1742.2,784.2 1743.0,786.3 1743.8,788.3 1744.6,790.4 1745.4,792.5 1746.2,794.5 1747.0,796.6 1747.8,798.6 1748.6,800.7 1749.4,802.7 1750.2,804.8 1751.0,806.8 1751.8,808.8 1752.6,810.9 1753.4,812.9 1754.3,814.9 1755.1,816.9 1755.9,818.9 1756.7,820.9 1757.5,822.9 1758.3,824.9 1759.1,826.9 1759.9,828.9 1760.7,830.9 1761.5,832.9 1762.3,834.9 1763.1,836.8 1763.9,838.8 1764.7,840.8 1765.5,842.7 1766.3,844.7 1767.1,846.6 1767.9,848.6 1768.7,850.5 1769.5,852.4 1770.3,854.3 1771.1,856.3 1771.9,858.2 1772.7,860.1 1773.5,862.0 1774.4,863.9 1775.2,865.8 1776.0,867.7 1776.8,869.6 1777.6,871.5 1778.4,873.3 1779.2,875.2 1780.0,877.1 1780.8,878.9 1781.6,880.8 1782.4,882.6 1783.2,884.4 1784.0,886.3" stroke="#0000ff"/>
<path d="M176.0,823.5 176.1,821.6 176.2,819.8 176.2,817.9 176.3,816.1 176.4,814.3 176.5,812.5 176.6,810.6 176.6,808.9 176.7,807.1 176.8,805.3 176.9,803.6 177.0,801.8 177.0,800.1 177.1,798.4 177.2,796.7 177.3,795.1 177.4,793.5 177.4,791.9 177.5,790.3 177.6,788.8 177.7,787.3 177.8,785.9 177.8,784.4 177.9,783.0 178.0,781.7 178.1,780.3 178.2,779.0 178.3,777.8 178.3,776.5 178.4,775.3 178.5,774.1 178.6,773.0 178.7,771.9 178.7,770.8 178.8,769.8 178.9,768.7 179.0,767.7 179.1,766.8 179.1,765.9 179.2,765.0 179.3,764.1 179.4,763.3 179.5,762.4 179.5,761.6 179.7,760.0 179.9,758.5 180.0,756.9 180.2,755.3 180.3,754.5 180.3,753.7 180.4,752.8 180.5,751.9 180.6,751.0 180.7,750.0 180.7,749.0 180.8,748.0 180.9,746.9 181.0,745.8 181.1,744.6 181.1,743.4 181.2,742.1 181.3,740.8 181.4,739.5 181.5,738.1 181.5,736.7 181.6,735.3 181.7,733.8 181.8,732.3 181.9,730.8 181.9,729.3 182.0,727.7 182.1,726.1 182.2,724.5 182.3,722.9 182.4,721.3 182.4,719.6 182.5,717.9 182.6,716.3 182.7,714.5 182.8,712.8 182.8,711.1 182.9,709.3 183.0,707.5 183.1,705.7 183.2,703.9 183.2,702.0 183.3,700.1 183.4,698.2 183.5,696.3 183.6,694.3 183.6,692.3 183.7,690.3 183.8,688.3 183.9,686.2 184.0,684.1 184.0,682.0 184.1,680.0 184.2,677.9 184.3,675.8 184.4,673.8 184.4,671.7 184.5,669.7 184.6,667.8 184.7,665.8 184.8,663.9 184.8,662.0 184.9,660.2 185.0,658.4 185.1,656.6 185.2,654.9 185.2,653.2 185.3,651.6 185.4,649.9 185.5,648.3 185.6,646.7 185.6,645.2 185.7,643.6 185.8,642.1 185.9,640.6 186.0,639.1 186.1,637.6 186.1,636.1 186.2,634.7 186.3,633.2 186.4,631.8 186.5,630.4 186.5,629.0 186.6,627.6 186.7,626.3 186.8,625.0 186.9,623.6 186.9,622.4 187.0,621.1 187.1,619.8 187.2,618.6 187.3,617.4 187.3,616.3 187.4,615.1 187.5,614.0 187.6,613.0 187.7,611.9 187.7,610.9 187.8,609.9 187.9,609.0 188.0,608.0 188.1,607.2 188.1,606.3 188.2,605.5 188.4,604.0 188.5,602.6 188.7,601.5 188.9,600.5 189.0,599.6 189.3,598.7 189.7,598.1 190.3,598.8 190.6,599.6 191.0,600.6 191.2,601.4 191.5,602.4 191.8,603.3 192.2,604.1 192.6,604.9 193.0,605.6 193.7,606.1 194.5,606.1 195.1,605.5 195.6,604.6 196.0,603.7 196.3,602.8 196.6,602.0 196.8,601.2 197.1,600.2 197.3,599.2 197.5,598.1 197.8,596.9 197.9,596.1 198.1,595.3 198.3,594.5 198.4,593.6 198.6,592.8 198.8,591.9 198.9,591.1 199.1,590.3 199.2,589.5 199.5,588.4 199.7,587.3 200.0,586.3 200.2,585.4 200.4,584.5 200.7,583.7 201.0,582.7 201.3,581.8 201.6,581.0 202.0,580.3 202.4,579.5 202.8,578.7 203.3,578.0 203.7,577.3 204.3,576.5 204.9,575.8 205.4,575.1 206.0,574.4 206.5,573.7 207.0,572.9 207.4,572.1 207.7,571.3 208.0,570.5 208.3,569.6 208.6,568.6 208.9,567.8 209.1,567.0 209.4,566.1 209.6,565.2 209.8,564.2 210.1,563.3 210.3,562.3 210.6,561.3 210.8,560.3 211.1,559.3 211.3,558.2 211.5,557.2 211.8,556.1 212.0,555.1 212.3,554.0 212.5,553.0 212.7,552.0 213.0,551.0 213.2,550.0 213.5,549.0 213.7,548.1 213.9,547.1 214.2,546.2 214.4,545.4 214.7,544.6 214.9,543.8 215.2,543.0 215.5,542.0 215.8,541.0 216.1,540.1 216.4,539.2 216.8,538.4 217.1,537.6 217.4,536.8 217.7,536.0 218.0,535.3 218.4,534.5 218.8,533.6 219.2,532.7 219.6,531.8 220.0,530.9 220.4,530.0 220.7,529.3 221.0,528.5 221.3,527.7 221.7,527.0 222.0,526.2 222.3,525.4 222.6,524.5 223.0,523.7 223.3,522.9 223.6,522.0 223.9,521.2 224.2,520.3" stroke="#ff00ff" stroke-dasharray="7.00 6.47" stroke-dashoffset="0.00"/>
<path d="M224.2,520.3 224.6,519.5 224.9,518.6 225.2,517.8 225.5,516.9 225.8,516.0 226.2,515.1 226.5,514.3 226.8,513.4 227.1,512.5 227.5,511.7 227.8,510.8 228.1,509.9 228.4,509.1 228.7,508.2 229.1,507.3 229.4,506.5 229.7,505.6 230.0,504.8 230.4,503.9 230.7,503.0 231.0,502.2 231.3,501.3 231.6,500.5 232.0,499.6 232.3,498.8 232.6,498.0 232.9,497.1 233.2,496.3 233.6,495.4 233.9,494.6 234.2,493.7 234.5,492.9 234.9,492.1 235.2,491.2 235.5,490.4 235.8,489.6 236.1,488.7 236.5,487.9 236.8,487.1 237.1,486.3 237.4,485.4 237.7,484.6 238.1,483.8 238.4,483.0 238.7,482.2 239.0,481.3 239.4,480.5 239.7,479.7 240.0,478.9 240.3,478.1 240.6,477.3 241.0,476.5 241.3,475.7 241.6,474.8 241.9,474.0 242.2,473.2 242.6,472.4 242.9,471.6 243.2,470.8 243.5,470.0 243.9,469.2 244.2,468.4 244.5,467.6 244.8,466.8 245.1,466.1 245.5,465.3 245.8,464.5 246.1,463.7 246.4,462.9 246.8,462.1 247.1,461.3 247.4,460.5 247.7,459.8 248.0,459.0 248.4,458.2 248.7,457.4 249.0,456.6 249.3,455.9 249.6,455.1 250.0,454.3 250.3,453.5 250.6,452.8 250.9,452.0 251.3,451.2 251.6,450.4 251.9,449.7 252.2,448.9 252.5,448.1 252.9,447.4 253.2,446.6 253.5,445.9 253.8,445.1 254.1,444.3 254.5,443.6 254.8,442.8 255.1,442.1 255.4,441.3 255.8,440.5 256.1,439.8 256.4,439.0 256.7,438.3 257.0,437.5 257.4,436.8 257.7,436.0 258.0,435.3 258.3,434.5 258.7,433.8 259.0,433.1 259.3,432.3 259.6,431.6 259.9,430.8 260.3,430.1 260.6,429.3 260.9,428.6 261.2,427.9 261.5,427.1 261.9,426.4 262.2,425.7 262.5,424.9 262.8,424.2 263.2,423.3 263.6,422.4 264.0,421.5 264.4,420.5 264.8,419.6 265.2,418.7 265.6,417.8 266.0,416.9 266.5,416.0 266.9,415.1 267.3,414.2 267.7,413.3 268.1,412.4 268.5,411.5 268.9,410.6 269.3,409.7 269.7,408.8 270.1,407.9 270.5,407.1 270.9,406.2 271.3,405.3 271.7,404.4 272.1,403.5 272.5,402.6 273.3,400.9 274.1,399.1 274.9,397.3 275.7,395.6 276.5,393.9 277.3,392.1 278.1,390.4 278.9,388.7 279.7,386.9 280.5,385.2 281.3,383.5 282.1,381.8 282.9,380.1 283.7,378.4 284.5,376.7 285.3,375.0 286.1,373.4 287.0,371.7 287.8,370.0 288.6,368.4 289.4,366.7 290.2,365.1 291.0,363.4 291.8,361.8 292.6,360.2 293.4,358.5 294.2,356.9 295.0,355.3 295.8,353.7 296.6,352.1 297.4,350.5 298.2,348.9 299.0,347.4 299.8,345.8 300.6,344.2 301.4,342.7 302.2,341.1 303.0,339.6 303.8,338.0 304.6,336.5 305.4,335.0 306.2,333.5 307.1,332.0 307.9,330.5 308.7,329.0 309.5,327.5 310.3,326.0 311.1,324.6 311.9,323.1 312.7,321.6 313.5,320.2 314.3,318.8 315.1,317.3 315.9,315.9 316.7,314.5 317.5,313.1 318.3,311.7 319.1,310.3 319.9,308.9 320.7,307.5 321.5,306.2 322.3,304.8 323.1,303.5 323.9,302.1 324.7,300.8 325.5,299.5 326.3,298.2 327.2,296.9 328.0,295.6 328.8,294.3 329.6,293.0 330.4,291.7 331.2,290.4 332.0,289.2 332.8,288.0 333.6,286.7 334.4,285.5 335.2,284.3 336.0,283.1 336.8,281.9 337.6,280.7 338.4,279.5 339.2,278.4 340.0,277.2 340.8,276.1 341.6,275.0 342.4,273.8 343.2,272.7 344.0,271.6 344.8,270.5 345.6,269.5 346.4,268.4 347.3,267.3 348.1,266.3 348.9,265.2 349.7,264.2 350.5,263.2 351.3,262.2 352.1,261.2 352.9,260.2 353.7,259.2 354.5,258.2 355.3,257.2 356.1,256.3 356.9,255.3 357.7,254.4 358.5,253.5 359.3,252.6 360.1,251.7 360.9,250.8 361.7,249.9 362.5,249.0 363.3,248.1 364.1,247.3 364.9,246.4 365.7,245.6 366.5,244.8 367.4,243.9 368.2,243.1 369.0,242.3 369.8,241.6 370.6,240.8 371.4,240.0 372.2,239.3 373.0,238.5 373.8,237.8 374.6,237.1 375.4,236.4 376.2,235.6 377.0,235.0 377.8,234.3 378.6,233.6 379.4,232.9 380.2,232.3 381.0,231.6 381.8,231.0 382.6,230.4 383.4,229.8 384.2,229.2 385.0,228.6 385.8,228.0 386.6,227.5 387.5,226.9 388.3,226.3 389.1,225.8 389.9,225.3 390.7,224.8 391.5,224.3 392.3,223.8 393.1,223.3 393.9,222.8 394.7,222.4 395.5,221.9 396.3,221.5 397.1,221.0 397.9,220.6 398.7,220.2 399.5,219.8 400.3,219.4 401.1,219.0 401.9,218.7 402.7,218.3 403.5,218.0 404.3,217.7 405.1,217.3 405.9,217.0 406.7,216.7 407.6,216.4 408.4,216.1 409.2,215.9 410.0,215.6 410.8,215.4 411.6,215.1 412.4,214.9 413.2,214.7 414.0,214.5 414.8,214.3 415.6,214.1 416.4,214.0 417.2,213.8 418.0,213.6 418.8,213.5 419.6,213.4 420.4,213.3 421.2,213.2 422.0,213.1 422.8,213.0 423.6,212.9 424.4,212.8 425.2,212.8 426.0,212.8 426.8,212.7 427.7,212.7 428.5,212.7 429.3,212.7 430.1,212.7 430.9,212.7 431.7,212.8 432.5,212.8 433.3,212.9 434.1,213.0 434.9,213.0 435.7,213.1 436.5,213.2 437.3,213.3 438.1,213.5 438.9,213.6 439.7,213.7 440.5,213.9 441.3,214.1 442.1,214.2 442.9,214.4 443.7,214.6 444.5,214.8 445.3,215.1 446.1,215.3 446.9,215.5 447.8,215.8 448.6,216.1 449.4,216.3 450.2,216.6 451.0,216.9 451.8,217.2 452.6,217.5 453.4,217.9 454.2,218.2 455.0,218.6 455.8,218.9 456.6,219.3 457.4,219.7 458.2,220.1 459.0,220.5 459.8,220.9 460.6,221.3 461.4,221.8 462.2,222.2 463.0,222.7 463.8,223.1 464.6,223.6 465.4,224.1 466.2,224.6 467.0,225.1 467.9,225.6 468.7,226.2 469.5,226.7 470.3,227.3 471.1,227.8 471.9,228.4 472.7,229.0 473.5,229.6 474.3,230.2 475.1,230.8 475.9,231.4 476.7,232.1 477.5,232.7 478.3,233.4 479.1,234.1 479.9,234.7 480.7,235.4 481.5,236.1 482.3,236.8 483.1,237.6 483.9,238.3 484.7,239.0 485.5,239.8 486.3,240.5 487.1,241.3 488.0,242.1 488.8,242.9 489.6,243.7 490.4,244.5 491.2,245.3 492.0,246.2 492.8,247.0 493.6,247.9 494.4,248.7 495.2,249.6 496.0,250.5 496.8,251.4 497.6,252.3 498.4,253.2 499.2,254.1 500.0,255.0 500.8,256.0 501.6,256.9 502.4,257.9 503.2,258.9 504.0,259.8 504.8,260.8 505.6,261.8 506.4,262.8 507.2,263.9 508.1,264.9 508.9,265.9 509.7,267.0 510.5,268.0 511.3,269.1 512.1,270.2 512.9,271.3 513.7,272.4 514.5,273.5 515.3,274.6 516.1,275.7 516.9,276.9 517.7,278.0 518.5,279.2 519.3,280.3 520.1,281.5 520.9,282.7 521.7,283.9 522.5,285.1 523.3,286.3 524.1,287.5 524.9,288.7 525.7,289.9 526.5,291.2 527.3,292.4 528.2,293.7 529.0,295.0 529.8,296.2 530.6,297.5 531.4,298.8 532.2,300.1 533.0,301.4 533.8,302.8 534.6,304.1 535.4,305.4 536.2,306.8 537.0,308.1 537.8,309.5 538.6,310.9 539.4,312.3 540.2,313.7 541.0,315.1 541.8,316.5 542.6,317.9 543.4,319.3 544.2,320.7 545.0,322.2 545.8,323.6 546.6,325.1 547.4,326.6 548.3,328.0 549.1,329.5 549.9,331.0 550.7,332.5 551.5,334.0 552.3,335.5 553.1,337.0 553.9,338.6 554.7,340.1 555.5,341.7 556.3,343.2 557.1,344.8 557.9,346.3 558.7,347.9 559.5,349.5 560.3,351.1 561.1,352.7 561.9,354.3 562.7,355.9 563.5,357.5 564.3,359.1 565.1,360.8 565.9,362.4 566.7,364.1 567.5,365.7 568.4,367.4 569.2,369.0 570.0,370.7 570.8,372.4 571.6,374.1 572.4,375.8 573.2,377.5 574.0,379.2 574.8,380.9 575.6,382.7 576.4,384.4 577.2,386.1 578.0,387.9 578.8,389.6 579.6,391.4 580.4,393.1 581.2,394.9 582.0,396.7 582.8,398.5 583.6,400.3 584.4,402.1 585.2,403.9 586.0,405.7 586.8,407.5 587.6,409.3 588.5,411.1 589.3,413.0 590.1,414.8 590.9,416.6 591.7,418.5 592.5,420.3 593.3,422.2 594.1,424.1 594.9,425.9 595.7,427.8 596.5,429.7 597.3,431.6 598.1,433.5 598.9,435.4 599.7,437.3 600.5,439.2 601.3,441.1 602.1,443.0 602.9,445.0 603.7,446.9 604.5,448.8 605.3,450.8 606.1,452.7 606.9,454.7 607.7,456.6 608.6,458.6 609.4,460.5 610.2,462.5 611.0,464.5 611.8,466.5 612.6,468.4 613.4,470.4 614.2,472.4 615.0,474.4 615.8,476.4 616.6,478.4 617.4,480.4 618.2,482.5 619.0,484.5 619.8,486.5 620.6,488.5 621.4,490.5 622.2,492.6 623.0,494.6 623.8,496.7 624.6,498.7 625.4,500.8 626.2,502.8 627.0,504.9 627.8,506.9 628.7,509.0 629.5,511.1 630.3,513.1 631.1,515.2 631.9,517.3 632.7,519.4 633.5,521.5 634.3,523.5 635.1,525.6 635.9,527.7 636.7,529.8 637.5,531.9 638.3,534.0 639.1,536.1 639.9,538.2 640.7,540.3 641.5,542.5 642.3,544.6 643.1,546.7 643.9,548.8 644.7,550.9 645.5,553.1 646.3,555.2 647.1,557.3 647.9,559.5 648.8,561.6 649.6,563.7 650.4,565.9 651.2,568.0 652.0,570.2 652.8,572.3 653.6,574.5 654.4,576.6 655.2,578.8 656.0,580.9 656.8,583.1 657.6,585.2 658.4,587.4 659.2,589.5 660.0,591.7 660.8,593.9 661.6,596.0 662.4,598.2 663.2,600.4 664.0,602.5 664.8,604.7 665.6,606.9 666.4,609.0 667.2,611.2 668.0,613.4 668.9,615.6 669.7,617.7 670.5,619.9 671.3,622.1 672.1,624.3 672.9,626.5 673.7,628.6 674.5,630.8 675.3,633.0 676.1,635.2 676.9,637.4 677.7,639.5 678.5,641.7 679.3,643.9 680.1,646.1 680.9,648.3 681.7,650.4 682.5,652.6 683.3,654.8 684.1,657.0 684.9,659.2 685.7,661.3 686.5,663.5 687.3,665.7 688.1,667.9 689.0,670.1 689.8,672.2 690.6,674.4 691.4,676.6 692.2,678.8 693.0,680.9 693.8,683.1 694.6,685.3 695.4,687.5 696.2,689.6 697.0,691.8 697.8,694.0 698.6,696.2 699.4,698.3 700.2,700.5 701.0,702.6 701.8,704.8 702.6,707.0 703.4,709.1 704.2,711.3 705.0,713.5 705.8,715.6 706.6,717.8 707.4,719.9 708.2,722.1 709.1,724.2 709.9,726.4 710.7,728.5 711.5,730.7 712.3,732.8 713.1,734.9 713.9,737.1 714.7,739.2 715.5,741.3 716.3,743.5 717.1,745.6 717.9,747.7 718.7,749.9 719.5,752.0 720.3,754.1 721.1,756.2 721.9,758.3 722.7,760.4 723.5,762.5 724.3,764.6 725.1,766.7 725.9,768.8 726.7,770.9 727.5,773.0 728.3,775.1 729.2,777.2 730.0,779.3 730.8,781.4 731.6,783.4 732.4,785.5 733.2,787.6 734.0,789.7 734.8,791.7 735.6,793.8 736.4,795.8 737.2,797.9 738.0,799.9 738.8,802.0 739.6,804.0 740.4,806.1 741.2,808.1 742.0,810.1 742.8,812.1 743.6,814.2 744.4,816.2 745.2,818.2 746.0,820.2 746.8,822.2 747.6,824.2 748.4,826.2 749.3,828.2 750.1,830.2 750.9,832.2 751.7,834.1 752.5,836.1 753.3,838.1 754.1,840.0 754.9,842.0 755.7,844.0 756.5,845.9 757.3,847.8 758.1,849.8 758.9,851.7 759.7,853.6 760.5,855.6 761.3,857.5 762.1,859.4 762.9,861.3 763.7,863.2 764.5,865.1 765.3,867.0 766.1,868.9 766.9,870.8 767.7,872.6 768.5,874.5 769.4,876.4 770.2,878.2 771.0,880.1 771.8,881.9 772.6,883.8 773.4,885.6 774.2,887.4 775.0,889.3 775.8,891.1 776.6,892.9 777.4,894.7 778.2,896.5 779.0,898.3 779.8,900.1 780.6,901.9 781.4,903.6 782.2,905.4 783.0,907.2 783.8,908.9 784.6,910.7 785.4,912.4 786.2,914.1 787.0,915.9 787.8,917.6 788.6,919.3 789.5,921.0 790.3,922.7 791.1,924.4 791.9,926.1 792.7,927.8 793.5,929.5 794.3,931.1 795.1,932.8 795.9,934.4 796.7,936.1 797.5,937.7 798.3,939.4 799.1,941.0 799.9,942.6 800.7,944.2 801.5,945.8 802.3,947.4 803.1,949.0 803.9,950.6 804.7,952.1 805.5,953.7 806.3,955.3 807.1,956.8 807.9,958.4 808.7,959.9 809.6,961.4 810.4,962.9 811.2,964.4 812.0,965.9 812.8,967.4 813.6,968.9 814.4,970.4 815.2,971.9 816.0,973.3 816.8,974.8 817.6,976.2 818.4,977.7 819.2,979.1 820.0,980.5 820.8,981.9 821.6,983.3 822.4,984.7 823.2,986.1 824.0,987.5 824.8,988.9 825.6,990.2 826.4,991.6 827.2,992.9 828.0,994.3 828.8,995.6 829.7,996.9 830.5,998.2 831.3,999.5 832.1,1000.8 832.9,1002.1 833.7,1003.4 834.5,1004.7 835.3,1005.9 836.1,1007.2 836.9,1008.4 837.7,1009.6 838.5,1010.9 839.3,1012.1 840.1,1013.3 840.9,1014.5 841.7,1015.7 842.5,1016.8 843.3,1018.0 844.1,1019.2 844.9,1020.3 845.7,1021.5 846.5,1022.6 847.3,1023.7 848.1,1024.8 848.9,1025.9 849.8,1027.0 850.6,1028.1 851.4,1029.2 852.2,1030.2 853.0,1031.3 853.8,1032.3 854.6,1033.4 855.4,1034.4 856.2,1035.4 857.0,1036.4 857.8,1037.4 858.6,1038.4 859.4,1039.4 860.2,1040.4 861.0,1041.3 861.8,1042.3 862.6,1043.2 863.4,1044.1 864.2,1045.1 865.0,1046.0 865.8,1046.9 866.6,1047.7 867.4,1048.6 868.2,1049.5 869.0,1050.4 869.9,1051.2 870.7,1052.0 871.5,1052.9 872.3,1053.7 873.1,1054.5 873.9,1055.3 874.7,1056.1 875.5,1056.9 876.3,1057.6 877.1,1058.4 877.9,1059.1 878.7,1059.9 879.5,1060.6 880.3,1061.3 881.1,1062.0 881.9,1062.7 882.7,1063.4 883.5,1064.1 884.3,1064.8 885.1,1065.4 885.9,1066.1 886.7,1066.7 887.5,1067.3 888.3,1067.9 889.1,1068.5 890.0,1069.1 890.8,1069.7 891.6,1070.3 892.4,1070.8 893.2,1071.4 894.0,1071.9 894.8,1072.4 895.6,1073.0 896.4,1073.5 897.2,1074.0 898.0,1074.5 898.8,1074.9 899.6,1075.4 900.4,1075.9 901.2,1076.3 902.0,1076.7 902.8,1077.2 903.6,1077.6 904.4,1078.0 905.2,1078.4 906.0,1078.7 906.8,1079.1 907.6,1079.5 908.4,1079.8 909.2,1080.1 910.1,1080.5 910.9,1080.8 911.7,1081.1 912.5,1081.4 913.3,1081.7 914.1,1081.9 914.9,1082.2 915.7,1082.4 916.5,1082.7 917.3,1082.9 918.1,1083.1 918.9,1083.3 919.7,1083.5 920.5,1083.7 921.3,1083.9 922.1,1084.1 922.9,1084.2 923.7,1084.4 924.5,1084.5 925.3,1084.6 926.1,1084.7 926.9,1084.8 927.7,1084.9 928.5,1085.0 929.3,1085.0 930.2,1085.1 931.0,1085.1 931.8,1085.2 932.6,1085.2 933.4,1085.2 934.2,1085.2 935.0,1085.2 935.8,1085.2 936.6,1085.1 937.4,1085.1 938.2,1085.0 939.0,1085.0 939.8,1084.9 940.6,1084.8 941.4,1084.7 942.2,1084.6 943.0,1084.5 943.8,1084.3 944.6,1084.2 945.4,1084.1 946.2,1083.9 947.0,1083.7 947.8,1083.5 948.6,1083.3 949.4,1083.1 950.3,1082.9 951.1,1082.7 951.9,1082.4 952.7,1082.2 953.5,1081.9 954.3,1081.7 955.1,1081.4 955.9,1081.1 956.7,1080.8 957.5,1080.5 958.3,1080.1 959.1,1079.8 959.9,1079.4 960.7,1079.1 961.5,1078.7 962.3,1078.3 963.1,1077.9 963.9,1077.5 964.7,1077.1 965.5,1076.7 966.3,1076.3 967.1,1075.8 967.9,1075.4 968.7,1074.9 969.5,1074.4 970.4,1073.9 971.2,1073.5 972.0,1072.9 972.8,1072.4 973.6,1071.9 974.4,1071.4 975.2,1070.8 976.0,1070.2 976.8,1069.7 977.6,1069.1 978.4,1068.5 979.2,1067.9 980.0,1067.3 980.8,1066.7 981.6,1066.0 982.4,1065.4 983.2,1064.7 984.0,1064.1 984.8,1063.4 985.6,1062.7 986.4,1062.0 987.2,1061.3 988.0,1060.6 988.8,1059.8 989.6,1059.1 990.5,1058.4 991.3,1057.6 992.1,1056.8 992.9,1056.1 993.7,1055.3 994.5,1054.5 995.3,1053.7 996.1,1052.8 996.9,1052.0 997.7,1051.2 998.5,1050.3 999.3,1049.5 1000.1,1048.6 1000.9,1047.7 1001.7,1046.8 1002.5,1045.9 1003.3,1045.0 1004.1,1044.1 1004.9,1043.2 1005.7,1042.2 1006.5,1041.3 1007.3,1040.3 1008.1,1039.3 1008.9,1038.4 1009.7,1037.4 1010.6,1036.4 1011.4,1035.4 1012.2,1034.4 1013.0,1033.3 1013.8,1032.3 1014.6,1031.2 1015.4,1030.2 1016.2,1029.1 1017.0,1028.1 1017.8,1027.0 1018.6,1025.9 1019.4,1024.8 1020.2,1023.7 1021.0,1022.5 1021.8,1021.4 1022.6,1020.3 1023.4,1019.1 1024.2,1018.0 1025.0,1016.8 1025.8,1015.6 1026.6,1014.4 1027.4,1013.2 1028.2,1012.0 1029.0,1010.8 1029.8,1009.6 1030.7,1008.4 1031.5,1007.1 1032.3,1005.9 1033.1,1004.6 1033.9,1003.3 1034.7,1002.1 1035.5,1000.8 1036.3,999.5 1037.1,998.2 1037.9,996.9 1038.7,995.6 1039.5,994.2 1040.3,992.9 1041.1,991.5 1041.9,990.2 1042.7,988.8 1043.5,987.4 1044.3,986.1 1045.1,984.7 1045.9,983.3 1046.7,981.9 1047.5,980.5 1048.3,979.0 1049.1,977.6 1049.9,976.2 1050.8,974.7 1051.6,973.3 1052.4,971.8 1053.2,970.3 1054.0,968.9 1054.8,967.4 1055.6,965.9 1056.4,964.4 1057.2,962.9 1058.0,961.3 1058.8,959.8 1059.6,958.3 1060.4,956.7 1061.2,955.2 1062.0,953.6 1062.8,952.1 1063.6,950.5 1064.4,948.9 1065.2,947.3 1066.0,945.7 1066.8,944.1 1067.6,942.5 1068.4,940.9 1069.2,939.3 1070.0,937.6 1070.9,936.0 1071.7,934.4 1072.5,932.7 1073.3,931.1 1074.1,929.4 1074.9,927.7 1075.7,926.0 1076.5,924.3 1077.3,922.6 1078.1,920.9 1078.9,919.2 1079.7,917.5 1080.5,915.8 1081.3,914.1 1082.1,912.3 1082.9,910.6 1083.7,908.8 1084.5,907.1 1085.3,905.3 1086.1,903.6 1086.9,901.8 1087.7,900.0 1088.5,898.2 1089.3,896.4 1090.1,894.6 1091.0,892.8 1091.8,891.0 1092.6,889.2 1093.4,887.4 1094.2,885.5 1095.0,883.7 1095.8,881.9 1096.6,880.0 1097.4,878.2 1098.2,876.3 1099.0,874.4 1099.8,872.6 1100.6,870.7 1101.4,868.8 1102.2,866.9 1103.0,865.0 1103.8,863.1 1104.6,861.2 1105.4,859.3 1106.2,857.4 1107.0,855.5 1107.8,853.6 1108.6,851.6 1109.4,849.7 1110.2,847.8 1111.1,845.8 1111.9,843.9 1112.7,841.9 1113.5,840.0 1114.3,838.0 1115.1,836.0 1115.9,834.0 1116.7,832.1 1117.5,830.1 1118.3,828.1 1119.1,826.1 1119.9,824.1 1120.7,822.1 1121.5,820.1 1122.3,818.1 1123.1,816.1 1123.9,814.1 1124.7,812.1 1125.5,810.0 1126.3,808.0 1127.1,806.0 1127.9,803.9 1128.7,801.9 1129.5,799.8 1130.3,797.8 1131.2,795.7 1132.0,793.7 1132.8,791.6 1133.6,789.6 1134.4,787.5 1135.2,785.4 1136.0,783.4 1136.8,781.3 1137.6,779.2 1138.4,777.1 1139.2,775.0 1140.0,772.9 1140.8,770.8 1141.6,768.7 1142.4,766.7 1143.2,764.5 1144.0,762.4 1144.8,760.3 1145.6,758.2 1146.4,756.1 1147.2,754.0 1148.0,751.9 1148.8,749.8 1149.6,747.6 1150.4,745.5 1151.3,743.4 1152.1,741.2 1152.9,739.1 1153.7,737.0 1154.5,734.8 1155.3,732.7 1156.1,730.6 1156.9,728.4 1157.7,726.3 1158.5,724.1 1159.3,722.0 1160.1,719.8 1160.9,717.7 1161.7,715.5 1162.5,713.4 1163.3,711.2 1164.1,709.0 1164.9,706.9 1165.7,704.7 1166.5,702.6 1167.3,700.4 1168.1,698.2 1168.9,696.1 1169.7,693.9 1170.5,691.7 1171.4,689.5 1172.2,687.4 1173.0,685.2 1173.8,683.0 1174.6,680.8 1175.4,678.7 1176.2,676.5 1177.0,674.3 1177.8,672.1 1178.6,670.0 1179.4,667.8 1180.2,665.6 1181.0,663.4 1181.8,661.2 1182.6,659.1 1183.4,656.9 1184.2,654.7 1185.0,652.5 1185.8,650.3 1186.6,648.2 1187.4,646.0 1188.2,643.8 1189.0,641.6 1189.8,639.4 1190.6,637.3 1191.5,635.1 1192.3,632.9 1193.1,630.7 1193.9,628.5 1194.7,626.4 1195.5,624.2 1196.3,622.0 1197.1,619.8 1197.9,617.6 1198.7,615.5 1199.5,613.3 1200.3,611.1 1201.1,609.0 1201.9,606.8 1202.7,604.6 1203.5,602.4 1204.3,600.3 1205.1,598.1 1205.9,595.9 1206.7,593.8 1207.5,591.6 1208.3,589.5 1209.1,587.3 1209.9,585.1 1210.7,583.0 1211.6,580.8 1212.4,578.7 1213.2,576.5 1214.0,574.4 1214.8,572.2 1215.6,570.1 1216.4,567.9 1217.2,565.8 1218.0,563.6 1218.8,561.5 1219.6,559.4 1220.4,557.2 1221.2,555.1 1222.0,553.0 1222.8,550.8 1223.6,548.7 1224.4,546.6 1225.2,544.5 1226.0,542.4 1226.8,540.3 1227.6,538.1 1228.4,536.0 1229.2,533.9 1230.0,531.8 1230.8,529.7 1231.7,527.6 1232.5,525.5 1233.3,523.4 1234.1,521.4 1234.9,519.3 1235.7,517.2 1236.5,515.1 1237.3,513.0 1238.1,511.0 1238.9,508.9 1239.7,506.8 1240.5,504.8 1241.3,502.7 1242.1,500.7 1242.9,498.6 1243.7,496.6 1244.5,494.5 1245.3,492.5 1246.1,490.5 1246.9,488.4 1247.7,486.4 1248.5,484.4 1249.3,482.4 1250.1,480.3 1250.9,478.3 1251.8,476.3 1252.6,474.3 1253.4,472.3 1254.2,470.3 1255.0,468.4 1255.8,466.4 1256.6,464.4 1257.4,462.4 1258.2,460.4 1259.0,458.5 1259.8,456.5 1260.6,454.6 1261.4,452.6 1262.2,450.7 1263.0,448.7 1263.8,446.8 1264.6,444.9 1265.4,442.9 1266.2,441.0 1267.0,439.1 1267.8,437.2 1268.6,435.3 1269.4,433.4 1270.2,431.5 1271.0,429.6 1271.9,427.7 1272.7,425.9 1273.5,424.0 1274.3,422.1 1275.1,420.3 1275.9,418.4 1276.7,416.5 1277.5,414.7 1278.3,412.9 1279.1,411.0 1279.9,409.2 1280.7,407.4 1281.5,405.6 1282.3,403.8 1283.1,402.0 1283.9,400.2 1284.7,398.4 1285.5,396.6 1286.3,394.8 1287.1,393.1 1287.9,391.3 1288.7,389.5 1289.5,387.8 1290.3,386.0 1291.1,384.3 1292.0,382.6 1292.8,380.9 1293.6,379.1 1294.4,377.4 1295.2,375.7 1296.0,374.0 1296.8,372.3 1297.6,370.7 1298.4,369.0 1299.2,367.3 1300.0,365.6 1300.8,364.0 1301.6,362.3 1302.4,360.7 1303.2,359.1 1304.0,357.4 1304.8,355.8 1305.6,354.2 1306.4,352.6 1307.2,351.0 1308.0,349.4 1308.8,347.8 1309.6,346.3 1310.4,344.7 1311.2,343.1 1312.1,341.6 1312.9,340.0 1313.7,338.5 1314.5,337.0 1315.3,335.5 1316.1,333.9 1316.9,332.4 1317.7,330.9 1318.5,329.4 1319.3,328.0 1320.1,326.5 1320.9,325.0 1321.7,323.6 1322.5,322.1 1323.3,320.7 1324.1,319.2 1324.9,317.8 1325.7,316.4 1326.5,315.0 1327.3,313.6 1328.1,312.2 1328.9,310.8 1329.7,309.5 1330.5,308.1 1331.3,306.7 1332.2,305.4 1333.0,304.0 1333.8,302.7 1334.6,301.4 1335.4,300.1 1336.2,298.8 1337.0,297.5 1337.8,296.2 1338.6,294.9 1339.4,293.6 1340.2,292.4 1341.0,291.1 1341.8,289.9 1342.6,288.6 1343.4,287.4 1344.2,286.2 1345.0,285.0 1345.8,283.8 1346.6,282.6 1347.4,281.4 1348.2,280.3 1349.0,279.1 1349.8,277.9 1350.6,276.8 1351.4,275.7 1352.3,274.5 1353.1,273.4 1353.9,272.3 1354.7,271.2 1355.5,270.1 1356.3,269.1 1357.1,268.0 1357.9,266.9 1358.7,265.9 1359.5,264.9 1360.3,263.8 1361.1,262.8 1361.9,261.8 1362.7,260.8 1363.5,259.8 1364.3,258.8 1365.1,257.9 1365.9,256.9 1366.7,255.9 1367.5,255.0 1368.3,254.1 1369.1,253.1 1369.9,252.2 1370.7,251.3 1371.5,250.4 1372.4,249.6 1373.2,248.7 1374.0,247.8 1374.8,247.0 1375.6,246.1 1376.4,245.3 1377.2,244.5 1378.0,243.7 1378.8,242.9 1379.6,242.1 1380.4,241.3 1381.2,240.5 1382.0,239.7 1382.8,239.0 1383.6,238.3 1384.4,237.5 1385.2,236.8 1386.0,236.1 1386.8,235.4 1387.6,234.7 1388.4,234.0 1389.2,233.4 1390.0,232.7 1390.8,232.1 1391.6,231.4 1392.5,230.8 1393.3,230.2 1394.1,229.6 1394.9,229.0 1395.7,228.4 1396.5,227.8 1397.3,227.2 1398.1,226.7 1398.9,226.2 1399.7,225.6 1400.5,225.1 1401.3,224.6 1402.1,224.1 1402.9,223.6 1403.7,223.1 1404.5,222.6 1405.3,222.2 1406.1,221.7 1406.9,221.3 1407.7,220.9 1408.5,220.5 1409.3,220.1 1410.1,219.7 1410.9,219.3 1411.7,218.9 1412.6,218.6 1413.4,218.2 1414.2,217.9 1415.0,217.5 1415.8,217.2 1416.6,216.9 1417.4,216.6 1418.2,216.3 1419.0,216.0 1419.8,215.8 1420.6,215.5 1421.4,215.3 1422.2,215.1 1423.0,214.8 1423.8,214.6 1424.6,214.4 1425.4,214.2 1426.2,214.1 1427.0,213.9 1427.8,213.7 1428.6,213.6 1429.4,213.5 1430.2,213.3 1431.0,213.2 1431.8,213.1 1432.7,213.0 1433.5,213.0 1434.3,212.9 1435.1,212.8 1435.9,212.8 1436.7,212.7 1437.5,212.7 1438.3,212.7 1439.1,212.7 1439.9,212.7 1440.7,212.7 1441.5,212.8 1442.3,212.8 1443.1,212.8 1443.9,212.9 1444.7,213.0 1445.5,213.1 1446.3,213.2 1447.1,213.3 1447.9,213.4 1448.7,213.5 1449.5,213.7 1450.3,213.8 1451.1,214.0 1451.9,214.1 1452.8,214.3 1453.6,214.5 1454.4,214.7 1455.2,214.9 1456.0,215.1 1456.8,215.4 1457.6,215.6 1458.4,215.9 1459.2,216.2 1460.0,216.4 1460.8,216.7 1461.6,217.0 1462.4,217.3 1463.2,217.7 1464.0,218.0 1464.8,218.3 1465.6,218.7 1466.4,219.1 1467.2,219.4 1468.0,219.8 1468.8,220.2 1469.6,220.6 1470.4,221.1 1471.2,221.5 1472.0,221.9 1472.9,222.4 1473.7,222.8 1474.5,223.3 1475.3,223.8 1476.1,224.3 1476.9,224.8 1477.7,225.3 1478.5,225.8 1479.3,226.4 1480.1,226.9 1480.9,227.5 1481.7,228.0 1482.5,228.6 1483.3,229.2 1484.1,229.8 1484.9,230.4 1485.7,231.0 1486.5,231.7 1487.3,232.3 1488.1,233.0 1488.9,233.6 1489.7,234.3 1490.5,235.0 1491.3,235.7 1492.1,236.4 1493.0,237.1 1493.8,237.8 1494.6,238.6 1495.4,239.3 1496.2,240.1 1497.0,240.8 1497.8,241.6 1498.6,242.4 1499.4,243.2 1500.2,244.0 1501.0,244.8 1501.8,245.6 1502.6,246.5 1503.4,247.3 1504.2,248.2 1505.0,249.0 1505.8,249.9 1506.6,250.8 1507.4,251.7 1508.2,252.6 1509.0,253.5 1509.8,254.4 1510.6,255.4 1511.4,256.3 1512.2,257.3 1513.1,258.2 1513.9,259.2 1514.7,260.2 1515.5,261.2 1516.3,262.2 1517.1,263.2 1517.9,264.2 1518.7,265.3 1519.5,266.3 1520.3,267.4 1521.1,268.4 1521.9,269.5 1522.7,270.6 1523.5,271.7 1524.3,272.8 1525.1,273.9 1525.9,275.0 1526.7,276.1 1527.5,277.3 1528.3,278.4 1529.1,279.6 1529.9,280.7 1530.7,281.9 1531.5,283.1 1532.3,284.3 1533.2,285.5 1534.0,286.7 1534.8,287.9 1535.6,289.1 1536.4,290.4 1537.2,291.6 1538.0,292.9 1538.8,294.2 1539.6,295.4 1540.4,296.7 1541.2,298.0 1542.0,299.3 1542.8,300.6 1543.6,301.9 1544.4,303.3 1545.2,304.6 1546.0,305.9 1546.8,307.3 1547.6,308.6 1548.4,310.0 1549.2,311.4 1550.0,312.8 1550.8,314.2 1551.6,315.6 1552.4,317.0 1553.3,318.4 1554.1,319.8 1554.9,321.3 1555.7,322.7 1556.5,324.2 1557.3,325.6 1558.1,327.1 1558.9,328.6 1559.7,330.1 1560.5,331.5 1561.3,333.0 1562.1,334.6 1562.9,336.1 1563.7,337.6 1564.5,339.1 1565.3,340.7 1566.1,342.2 1566.9,343.8 1567.7,345.3 1568.5,346.9 1569.3,348.5 1570.1,350.1 1570.9,351.7 1571.7,353.3 1572.5,354.9 1573.4,356.5 1574.2,358.1 1575.0,359.7 1575.8,361.4 1576.6,363.0 1577.4,364.7 1578.2,366.3 1579.0,368.0 1579.8,369.7 1580.6,371.3 1581.4,373.0 1582.2,374.7 1583.0,376.4 1583.8,378.1 1584.6,379.8 1585.4,381.6 1586.2,383.3 1587.0,385.0 1587.8,386.8 1588.6,388.5 1589.4,390.3 1590.2,392.0 1591.0,393.8 1591.8,395.6 1592.6,397.3 1593.5,399.1 1594.3,400.9 1595.1,402.7 1595.9,404.5 1596.7,406.3 1597.5,408.1 1598.3,410.0 1599.1,411.8 1599.9,413.6 1600.7,415.5 1601.5,417.3 1602.3,419.2 1603.1,421.0 1603.9,422.9 1604.7,424.7 1605.5,426.6 1606.3,428.5 1607.1,430.4 1607.9,432.3 1608.7,434.2 1609.5,436.1 1610.3,438.0 1611.1,439.9 1611.9,441.8 1612.7,443.7 1613.6,445.7 1614.4,447.6 1615.2,449.5 1616.0,451.5 1616.8,453.4 1617.6,455.4 1618.4,457.3 1619.2,459.3 1620.0,461.3 1620.8,463.2 1621.6,465.2 1622.4,467.2 1623.2,469.2 1624.0,471.2 1624.8,473.1 1625.6,475.1 1626.4,477.1 1627.2,479.2 1628.0,481.2 1628.8,483.2 1629.6,485.2 1630.4,487.2 1631.2,489.3 1632.0,491.3 1632.8,493.3 1633.7,495.4 1634.5,497.4 1635.3,499.5 1636.1,501.5 1636.9,503.6 1637.7,505.6 1638.5,507.7 1639.3,509.7 1640.1,511.8 1640.9,513.9 1641.7,516.0 1642.5,518.0 1643.3,520.1 1644.1,522.2 1644.9,524.3 1645.7,526.4 1646.5,528.5 1647.3,530.6 1648.1,532.7 1648.9,534.8 1649.7,536.9 1650.5,539.0 1651.3,541.1 1652.1,543.2 1652.9,545.3 1653.8,547.5 1654.6,549.6 1655.4,551.7 1656.2,553.8 1657.0,556.0 1657.8,558.1 1658.6,560.2 1659.4,562.4 1660.2,564.5 1661.0,566.7 1661.8,568.8 1662.6,570.9 1663.4,573.1 1664.2,575.2 1665.0,577.4 1665.8,579.5 1666.6,581.7 1667.4,583.9 1668.2,586.0 1669.0,588.2 1669.8,590.3 1670.6,592.5 1671.4,594.7 1672.2,596.8 1673.0,599.0 1673.9,601.2 1674.7,603.3 1675.5,605.5 1676.3,607.7 1677.1,609.8 1677.9,612.0 1678.7,614.2 1679.5,616.4 1680.3,618.5 1681.1,620.7 1681.9,622.9 1682.7,625.1 1683.5,627.2 1684.3,629.4 1685.1,631.6 1685.9,633.8 1686.7,636.0 1687.5,638.1 1688.3,640.3 1689.1,642.5 1689.9,644.7 1690.7,646.9 1691.5,649.0 1692.3,651.2 1693.1,653.4 1694.0,655.6 1694.8,657.8 1695.6,660.0 1696.4,662.1 1697.2,664.3 1698.0,666.5 1698.8,668.7 1699.6,670.9 1700.4,673.0 1701.2,675.2 1702.0,677.4 1702.8,679.6 1703.6,681.7 1704.4,683.9 1705.2,686.1 1706.0,688.3 1706.8,690.4 1707.6,692.6 1708.4,694.8 1709.2,696.9 1710.0,699.1 1710.8,701.3 1711.6,703.4 1712.4,705.6 1713.2,707.8 1714.1,709.9 1714.9,712.1 1715.7,714.2 1716.5,716.4 1717.3,718.5 1718.1,720.7 1718.9,722.9 1719.7,725.0 1720.5,727.1 1721.3,729.3 1722.1,731.4 1722.9,733.6 1723.7,735.7 1724.5,737.9 1725.3,740.0 1726.1,742.1 1726.9,744.2 1727.7,746.4 1728.5,748.5 1729.3,750.6 1730.1,752.7 1730.9,754.9 1731.7,757.0 1732.5,759.1 1733.3,761.2 1734.2,763.3 1735.0,765.4 1735.8,767.5 1736.6,769.6 1737.4,771.7 1738.2,773.8 1739.0,775.9 1739.8,778.0 1740.6,780.0 1741.4,782.1 1742.2,784.2 1743.0,786.3 1743.8,788.3 1744.6,790.4 1745.4,792.5 1746.2,794.5 1747.0,796.6 1747.8,798.6 1748.6,800.7 1749.4,802.7 1750.2,804.8 1751.0,806.8 1751.8,808.8 1752.6,810.9 1753.4,812.9 1754.3,814.9 1755.1,816.9 1755.9,818.9 1756.7,820.9 1757.5,822.9 1758.3,824.9 1759.1,826.9 1759.9,828.9 1760.7,830.9 1761.5,832.9 1762.3,834.9 1763.1,836.8 1763.9,838.8 1764.7,840.8 1765.5,842.7 1766.3,844.7 1767.1,846.6 1767.9,848.6 1768.7,850.5 1769.5,852.4 1770.3,854.3 1771.1,856.3 1771.9,858.2 1772.7,860.1 1773.5,862.0 1774.4,863.9 1775.2,865.8 1776.0,867.7 1776.8,869.6 1777.6,871.5 1778.4,873.3 1779.2,875.2 1780.0,877.1 1780.8,878.9 1781.6,880.8 1782.4,882.6 1783.2,884.4 1784.0,886.3" stroke="#ff00ff" stroke-dasharray="7.00 6.47" stroke-dashoffset="1.24"/>
<path d="M176.0,387.2 176.1,385.6 176.2,383.9 176.2,382.3 176.3,380.6 176.4,379.0 176.5,377.4 176.6,375.8 176.6,374.2 176.7,372.6 176.8,371.0 176.9,369.4 177.0,367.9 177.0,366.4 177.1,364.8 177.2,363.4 177.3,361.9 177.4,360.4 177.4,359.0 177.5,357.6 177.6,356.2 177.7,354.9 177.8,353.5 177.8,352.3 177.9,351.0 178.0,349.8 178.1,348.6 178.2,347.4 178.3,346.3 178.3,345.2 178.4,344.2 178.5,343.2 178.6,342.3 178.7,341.4 178.7,340.5 178.8,339.7 179.0,338.2 179.1,336.9 179.3,335.8 179.5,335.0 179.7,333.9 180.0,333.2 180.8,333.7 181.1,334.7 181.4,335.7 181.6,336.9 181.8,337.8 181.9,338.7 182.1,339.8 182.3,340.9 182.4,342.1 182.6,343.3 182.8,344.6 182.9,346.0 183.1,347.4 183.2,348.9 183.4,350.5 183.5,351.3 183.6,352.1 183.6,352.9 183.7,353.8 183.8,354.7 183.9,355.6 184.0,356.5 184.0,357.4 184.1,358.4 184.2,359.4 184.3,360.4 184.4,361.5 184.4,362.5 184.5,363.6 184.6,364.8 184.7,365.9 184.8,367.1 184.8,368.3 184.9,369.5 185.0,370.8 185.1,372.1 185.2,373.5 185.2,374.8 185.3,376.2 185.4,377.7 185.5,379.2 185.6,380.7 185.6,382.2 185.7,383.8 185.8,385.4 185.9,387.1 186.0,388.8 186.1,390.5 186.1,392.3 186.2,394.1 186.3,396.0 186.4,397.9 186.5,399.8 186.5,401.7 186.6,403.7 186.7,405.7 186.8,407.7 186.9,409.8 186.9,411.8 187.0,413.9 187.1,416.0 187.2,418.2 187.3,420.3 187.3,422.4 187.4,424.6 187.5,426.8 187.6,429.0 187.7,431.1 187.7,433.3 187.8,435.5 187.9,437.7 188.0,439.9 188.1,442.2 188.1,444.4 188.2,446.6 188.3,448.8 188.4,451.0 188.5,453.2 188.5,455.4 188.6,457.6 188.7,459.8 188.8,462.0 188.9,464.2 188.9,466.4 189.0,468.6 189.1,470.7 189.2,472.9 189.3,475.0 189.3,477.1 189.4,479.2 189.5,481.3 189.6,483.4 189.7,485.5 189.7,487.5 189.8,489.6 189.9,491.6 190.0,493.6 190.1,495.7 190.2,497.7 190.2,499.7 190.3,501.8 190.4,503.8 190.5,505.8 190.6,507.8 190.6,509.9 190.7,511.9 190.8,514.0 190.9,516.1 191.0,518.1 191.0,520.2 191.1,522.3 191.2,524.5 191.3,526.6 191.4,528.8 191.4,531.0 191.5,533.2 191.6,535.4 191.7,537.6 191.8,539.9 191.8,542.2 191.9,544.6 192.0,546.9 192.1,549.3 192.2,551.8 192.2,554.2 192.3,556.7 192.4,559.2 192.5,561.7 192.6,564.3 192.6,566.8 192.7,569.4 192.8,572.1 192.9,574.7 193.0,577.4 193.0,580.1 193.1,582.9 193.2,585.6 193.3,588.4 193.4,591.2 193.4,593.9 193.5,596.7 193.6,599.5 193.7,602.2 193.8,604.9 193.8,607.6 193.9,610.2 194.0,612.8 194.1,615.3 194.2,617.7 194.3,620.1 194.3,622.4 194.4,624.5 194.5,626.7 194.6,628.7 194.7,630.6 194.7,632.5 194.8,634.3 194.9,636.0 195.0,637.7 195.1,639.3 195.1,640.8 195.2,642.3 195.3,643.7 195.4,645.1 195.5,646.4 195.5,647.6 195.6,648.8 195.7,650.0 195.8,651.1 195.9,652.2 195.9,653.2 196.0,654.1 196.1,655.1 196.2,655.9 196.3,656.8 196.3,657.6 196.5,659.1 196.7,660.4 196.8,661.7 197.0,662.8 197.1,663.8 197.3,664.7 197.5,665.6 197.9,664.8 198.0,663.3 198.1,662.4 198.2,661.5 198.3,660.6 198.4,659.2 198.6,658.1 198.8,657.1 199.6,656.6 200.4,656.3 200.6,655.4 200.8,654.3 200.9,652.9 201.0,652.1 201.1,651.1 201.2,650.0 201.2,648.8 201.3,647.4 201.4,645.9 201.5,644.3 201.6,642.5 201.6,640.6 201.7,638.5 201.8,636.2 201.9,633.8 202.0,631.1 202.0,628.4 202.1,625.5 202.2,622.7 202.3,619.9 202.4,617.1 202.5,614.6 202.5,612.3 202.6,610.2 202.7,608.4 202.8,606.7 202.9,605.3 202.9,604.0 203.0,602.8 203.1,601.8 203.2,600.8 203.3,599.9 203.3,599.0 203.4,598.2 203.5,597.3 203.6,596.5 203.7,595.6 203.7,594.6 203.8,593.5 203.9,592.2 204.0,590.9 204.1,589.4 204.1,587.8 204.2,586.1 204.3,584.4 204.4,582.6 204.5,580.8 204.5,579.0 204.6,577.1 204.7,575.4 204.8,573.6 204.9,571.9 204.9,570.4 205.0,568.9 205.1,567.5 205.2,566.2 205.3,564.9 205.3,563.8 205.4,562.7 205.5,561.7 205.6,560.8 205.7,560.0 205.8,558.5 206.0,557.4 206.2,556.4 206.4,555.4 206.8,554.6 207.5,555.0 207.9,555.8 208.3,556.5 209.0,557.0 209.8,556.6 210.3,555.9 210.7,555.1 211.0,554.4 211.3,553.6 211.6,552.7 211.9,551.7 212.3,550.8 212.6,549.8 212.9,548.9 213.2,547.9 213.5,547.0 213.9,546.1 214.2,545.2 214.5,544.4 214.8,543.5 215.2,542.7 215.5,541.9 215.8,541.1 216.1,540.4 216.4,539.6 216.8,538.8 217.1,538.1 217.4,537.3 217.7,536.6 218.0,535.8 218.4,535.1 218.7,534.3 219.0,533.6 219.3,532.8 219.7,532.0 220.0,531.2 220.3,530.4 220.6,529.6 220.9,528.8 221.3,528.0 221.6,527.1 221.9,526.3 222.2,525.5 222.6,524.6 222.9,523.8 223.2,522.9 223.5,522.1 223.8,521.2 224.2,520.4 224.2,520.1" stroke="#00ff00" stroke-dasharray="26.00 7.30 13.30 7.30" stroke-dashoffset="0.00"/>
<path d="M224.2,520.1 224.6,519.3 224.9,518.4 225.2,517.6 225.5,516.7 225.8,515.9 226.2,515.0 226.5,514.2 226.8,513.3 227.1,512.5 227.5,511.7 227.8,510.8 228.1,510.0 228.4,509.2 228.7,508.3 229.1,507.5 229.4,506.7 229.7,505.9 230.0,505.1 230.4,504.2 230.7,503.4 231.0,502.6 231.3,501.8 231.6,501.0 232.0,500.2 232.3,499.4 232.6,498.5 232.9,497.7 233.2,496.9 233.6,496.1 233.9,495.3 234.2,494.5 234.5,493.7 234.9,492.9 235.2,492.1 235.5,491.3 235.8,490.5 236.1,489.6 236.5,488.8 236.8,488.0 237.1,487.2 237.4,486.4 237.7,485.6 238.1,484.8 238.4,484.0 238.7,483.2 239.0,482.4 239.4,481.6 239.7,480.8 240.0,480.0 240.3,479.2 240.6,478.4 241.0,477.6 241.3,476.8 241.6,476.0 241.9,475.2 242.2,474.4 242.6,473.6 242.9,472.8 243.2,472.0 243.5,471.2 243.9,470.4 244.2,469.6 244.5,468.8 244.8,468.0 245.1,467.3 245.5,466.5 245.8,465.7 246.1,464.9 246.4,464.1 246.8,463.3 247.1,462.5 247.4,461.7 247.7,460.9 248.0,460.2 248.4,459.4 248.7,458.6 249.0,457.8 249.3,457.0 249.6,456.2 250.0,455.4 250.3,454.7 250.6,453.9 250.9,453.1 251.3,452.3 251.6,451.5 251.9,450.8 252.2,450.0 252.5,449.2 252.9,448.4 253.2,447.7 253.5,446.9 253.8,446.1 254.1,445.3 254.5,444.6 254.8,443.8 255.1,443.0 255.4,442.2 255.8,441.5 256.1,440.7 256.4,439.9 256.7,439.2 257.0,438.4 257.4,437.6 257.7,436.9 258.0,436.1 258.3,435.3 258.7,434.6 259.0,433.8 259.3,433.1 259.6,432.3 259.9,431.5 260.3,430.8 260.6,430.0 260.9,429.3 261.2,428.5 261.5,427.8 261.9,427.0 262.2,426.3 262.5,425.5 262.8,424.7 263.2,424.0 263.5,423.2 263.8,422.5 264.1,421.7 264.4,421.0 264.8,420.3 265.1,419.5 265.4,418.8 265.7,418.0 266.0,417.3 266.4,416.5 266.7,415.8 267.0,415.1 267.3,414.3 267.7,413.6 268.0,412.8 268.3,412.1 268.6,411.4 268.9,410.6 269.3,409.9 269.7,409.0 270.1,408.1 270.5,407.2 270.9,406.3 271.3,405.3 271.7,404.4 272.1,403.5 272.5,402.6 273.3,400.8 274.1,399.0 274.9,397.2 275.7,395.4 276.5,393.7 277.3,391.9 278.1,390.1 278.9,388.4 279.7,386.6 280.5,384.9 281.3,383.1 282.1,381.4 282.9,379.7 283.7,378.0 284.5,376.3 285.3,374.6 286.1,372.9 287.0,371.2 287.8,369.5 288.6,367.8 289.4,366.2 290.2,364.5 291.0,362.8 291.8,361.2 292.6,359.6 293.4,357.9 294.2,356.3 295.0,354.7 295.8,353.1 296.6,351.5 297.4,349.9 298.2,348.3 299.0,346.7 299.8,345.2 300.6,343.6 301.4,342.0 302.2,340.5 303.0,339.0 303.8,337.4 304.6,335.9 305.4,334.4 306.2,332.9 307.1,331.4 307.9,329.9 308.7,328.4 309.5,326.9 310.3,325.5 311.1,324.0 311.9,322.6 312.7,321.1 313.5,319.7 314.3,318.3 315.1,316.8 315.9,315.4 316.7,314.0 317.5,312.6 318.3,311.3 319.1,309.9 319.9,308.5 320.7,307.2 321.5,305.8 322.3,304.5 323.1,303.1 323.9,301.8 324.7,300.5 325.5,299.2 326.3,297.9 327.2,296.6 328.0,295.3 328.8,294.1 329.6,292.8 330.4,291.6 331.2,290.3 332.0,289.1 332.8,287.8 333.6,286.6 334.4,285.4 335.2,284.2 336.0,283.0 336.8,281.9 337.6,280.7 338.4,279.5 339.2,278.4 340.0,277.2 340.8,276.1 341.6,275.0 342.4,273.8 343.2,272.7 344.0,271.6 344.8,270.5 345.6,269.5 346.4,268.4 347.3,267.3 348.1,266.3 348.9,265.2 349.7,264.2 350.5,263.2 351.3,262.2 352.1,261.2 352.9,260.2 353.7,259.2 354.5,258.2 355.3,257.2 356.1,256.3 356.9,255.3 357.7,254.4 358.5,253.5 359.3,252.6 360.1,251.7 360.9,250.8 361.7,249.9 362.5,249.0 363.3,248.1 364.1,247.3 364.9,246.4 365.7,245.6 366.5,244.8 367.4,243.9 368.2,243.1 369.0,242.3 369.8,241.6 370.6,240.8 371.4,240.0 372.2,239.3 373.0,238.5 373.8,237.8 374.6,237.1 375.4,236.4 376.2,235.6 377.0,235.0 377.8,234.3 378.6,233.6 379.4,232.9 380.2,232.3 381.0,231.6 381.8,231.0 382.6,230.4 383.4,229.8 384.2,229.2 385.0,228.6 385.8,228.0 386.6,227.5 387.5,226.9 388.3,226.3 389.1,225.8 389.9,225.3 390.7,224.8 391.5,224.3 392.3,223.8 393.1,223.3 393.9,222.8 394.7,222.4 395.5,221.9 396.3,221.5 397.1,221.0 397.9,220.6 398.7,220.2 399.5,219.8 400.3,219.4 401.1,219.0 401.9,218.7 402.7,218.3 403.5,218.0 404.3,217.7 405.1,217.3 405.9,217.0 406.7,216.7 407.6,216.4 408.4,216.1 409.2,215.9 410.0,215.6 410.8,215.4 411.6,215.1 412.4,214.9 413.2,214.7 414.0,214.5 414.8,214.3 415.6,214.1 416.4,214.0 417.2,213.8 418.0,213.6 418.8,213.5 419.6,213.4 420.4,213.3 421.2,213.2 422.0,213.1 422.8,213.0 423.6,212.9 424.4,212.8 425.2,212.8 426.0,212.8 426.8,212.7 427.7,212.7 428.5,212.7 429.3,212.7 430.1,212.7 430.9,212.7 431.7,212.8 432.5,212.8 433.3,212.9 434.1,213.0 434.9,213.0 435.7,213.1 436.5,213.2 437.3,213.3 438.1,213.5 438.9,213.6 439.7,213.7 440.5,213.9 441.3,214.1 442.1,214.2 442.9,214.4 443.7,214.6 444.5,214.8 445.3,215.1 446.1,215.3 446.9,215.5 447.8,215.8 448.6,216.1 449.4,216.3 450.2,216.6 451.0,216.9 451.8,217.2 452.6,217.5 453.4,217.9 454.2,218.2 455.0,218.6 455.8,218.9 456.6,219.3 457.4,219.7 458.2,220.1 459.0,220.5 459.8,220.9 460.6,221.3 461.4,221.8 462.2,222.2 463.0,222.7 463.8,223.1 464.6,223.6 465.4,224.1 466.2,224.6 467.0,225.1 467.9,225.6 468.7,226.2 469.5,226.7 470.3,227.3 471.1,227.8 471.9,228.4 472.7,229.0 473.5,229.6 474.3,230.2 475.1,230.8 475.9,231.4 476.7,232.1 477.5,232.7 478.3,233.4 479.1,234.1 479.9,234.7 480.7,235.4 481.5,236.1 482.3,236.8 483.1,237.6 483.9,238.3 484.7,239.0 485.5,239.8 486.3,240.5 487.1,241.3 488.0,242.1 488.8,242.9 489.6,243.7 490.4,244.5 491.2,245.3 492.0,246.2 492.8,247.0 493.6,247.9 494.4,248.7 495.2,249.6 496.0,250.5 496.8,251.4 497.6,252.3 498.4,253.2 499.2,254.1 500.0,255.0 500.8,256.0 501.6,256.9 502.4,257.9 503.2,258.9 504.0,259.8 504.8,260.8 505.6,261.8 506.4,262.8 507.2,263.9 508.1,264.9 508.9,265.9 509.7,267.0 510.5,268.0 511.3,269.1 512.1,270.2 512.9,271.3 513.7,272.4 514.5,273.5 515.3,274.6 516.1,275.7 516.9,276.9 517.7,278.0 518.5,279.2 519.3,280.3 520.1,281.5 520.9,282.7 521.7,283.9 522.5,285.1 523.3,286.3 524.1,287.5 524.9,288.7 525.7,289.9 526.5,291.2 527.3,292.4 528.2,293.7 529.0,295.0 529.8,296.2 530.6,297.5 531.4,298.8 532.2,300.1 533.0,301.4 533.8,302.8 534.6,304.1 535.4,305.4 536.2,306.8 537.0,308.1 537.8,309.5 538.6,310.9 539.4,312.3 540.2,313.7 541.0,315.1 541.8,316.5 542.6,317.9 543.4,319.3 544.2,320.7 545.0,322.2 545.8,323.6 546.6,325.1 547.4,326.6 548.3,328.0 549.1,329.5 549.9,331.0 550.7,332.5 551.5,334.0 552.3,335.5 553.1,337.0 553.9,338.6 554.7,340.1 555.5,341.7 556.3,343.2 557.1,344.8 557.9,346.3 558.7,347.9 559.5,349.5 560.3,351.1 561.1,352.7 561.9,354.3 562.7,355.9 563.5,357.5 564.3,359.1 565.1,360.8 565.9,362.4 566.7,364.1 567.5,365.7 568.4,367.4 569.2,369.0 570.0,370.7 570.8,372.4 571.6,374.1 572.4,375.8 573.2,377.5 574.0,379.2 574.8,380.9 575.6,382.7 576.4,384.4 577.2,386.1 578.0,387.9 578.8,389.6 579.6,391.4 580.4,393.1 581.2,394.9 582.0,396.7 582.8,398.5 583.6,400.3 584.4,402.1 585.2,403.9 586.0,405.7 586.8,407.5 587.6,409.3 588.5,411.1 589.3,413.0 590.1,414.8 590.9,416.6 591.7,418.5 592.5,420.3 593.3,422.2 594.1,424.1 594.9,425.9 595.7,427.8 596.5,429.7 597.3,431.6 598.1,433.5 598.9,435.4 599.7,437.3 600.5,439.2 601.3,441.1 602.1,443.0 602.9,445.0 603.7,446.9 604.5,448.8 605.3,450.8 606.1,452.7 606.9,454.7 607.7,456.6 608.6,458.6 609.4,460.5 610.2,462.5 611.0,464.5 611.8,466.5 612.6,468.4 613.4,470.4 614.2,472.4 615.0,474.4 615.8,476.4 616.6,478.4 617.4,480.4 618.2,482.5 619.0,484.5 619.8,486.5 620.6,488.5 621.4,490.5 622.2,492.6 623.0,494.6 623.8,496.7 624.6,498.7 625.4,500.8 626.2,502.8 627.0,504.9 627.8,506.9 628.7,509.0 629.5,511.1 630.3,513.1 631.1,515.2 631.9,517.3 632.7,519.4 633.5,521.5 634.3,523.5 635.1,525.6 635.9,527.7 636.7,529.8 637.5,531.9 638.3,534.0 639.1,536.1 639.9,538.2 640.7,540.3 641.5,542.5 642.3,544.6 643.1,546.7 643.9,548.8 644.7,550.9 645.5,553.1 646.3,555.2 647.1,557.3 647.9,559.5 648.8,561.6 649.6,563.7 650.4,565.9 651.2,568.0 652.0,570.2 652.8,572.3 653.6,574.5 654.4,576.6 655.2,578.8 656.0,580.9 656.8,583.1 657.6,585.2 658.4,587.4 659.2,589.5 660.0,591.7 660.8,593.9 661.6,596.0 662.4,598.2 663.2,600.4 664.0,602.5 664.8,604.7 665.6,606.9 666.4,609.0 667.2,611.2 668.0,613.4 668.9,615.6 669.7,617.7 670.5,619.9 671.3,622.1 672.1,624.3 672.9,626.5 673.7,628.6 674.5,630.8 675.3,633.0 676.1,635.2 676.9,637.4 677.7,639.5 678.5,641.7 679.3,643.9 680.1,646.1 680.9,648.3 681.7,650.4 682.5,652.6 683.3,654.8 684.1,657.0 684.9,659.2 685.7,661.3 686.5,663.5 687.3,665.7 688.1,667.9 689.0,670.1 689.8,672.2 690.6,674.4 691.4,676.6 692.2,678.8 693.0,680.9 693.8,683.1 694.6,685.3 695.4,687.5 696.2,689.6 697.0,691.8 697.8,694.0 698.6,696.2 699.4,698.3 700.2,700.5 701.0,702.6 701.8,704.8 702.6,707.0 703.4,709.1 704.2,711.3 705.0,713.5 705.8,715.6 706.6,717.8 707.4,719.9 708.2,722.1 709.1,724.2 709.9,726.4 710.7,728.5 711.5,730.7 712.3,732.8 713.1,734.9 713.9,737.1 714.7,739.2 715.5,741.3 716.3,743.5 717.1,745.6 717.9,747.7 718.7,749.9 719.5,752.0 720.3,754.1 721.1,756.2 721.9,758.3 722.7,760.4 723.5,762.5 724.3,764.6 725.1,766.7 725.9,768.8 726.7,770.9 727.5,773.0 728.3,775.1 729.2,777.2 730.0,779.3 730.8,781.4 731.6,783.4 732.4,785.5 733.2,787.6 734.0,789.7 734.8,791.7 735.6,793.8 736.4,795.8 737.2,797.9 738.0,799.9 738.8,802.0 739.6,804.0 740.4,806.1 741.2,808.1 742.0,810.1 742.8,812.1 743.6,814.2 744.4,816.2 745.2,818.2 746.0,820.2 746.8,822.2 747.6,824.2 748.4,826.2 749.3,828.2 750.1,830.2 750.9,832.2 751.7,834.1 752.5,836.1 753.3,838.1 754.1,840.0 754.9,842.0 755.7,844.0 756.5,845.9 757.3,847.8 758.1,849.8 758.9,851.7 759.7,853.6 760.5,855.6 761.3,857.5 762.1,859.4 762.9,861.3 763.7,863.2 764.5,865.1 765.3,867.0 766.1,868.9 766.9,870.8 767.7,872.6 768.5,874.5 769.4,876.4 770.2,878.2 771.0,880.1 771.8,881.9 772.6,883.8 773.4,885.6 774.2,887.4 775.0,889.3 775.8,891.1 776.6,892.9 777.4,894.7 778.2,896.5 779.0,898.3 779.8,900.1 780.6,901.9 781.4,903.6 782.2,905.4 783.0,907.2 783.8,908.9 784.6,910.7 785.4,912.4 786.2,914.1 787.0,915.9 787.8,917.6 788.6,919.3 789.5,921.0 790.3,922.7 791.1,924.4 791.9,926.1 792.7,927.8 793.5,929.5 794.3,931.1 795.1,932.8 795.9,934.4 796.7,936.1 797.5,937.7 798.3,939.4 799.1,941.0 799.9,942.6 800.7,944.2 801.5,945.8 802.3,947.4 803.1,949.0 803.9,950.6 804.7,952.1 805.5,953.7 806.3,955.3 807.1,956.8 807.9,958.4 808.7,959.9 809.6,961.4 810.4,962.9 811.2,964.4 812.0,965.9 812.8,967.4 813.6,968.9 814.4,970.4 815.2,971.9 816.0,973.3 816.8,974.8 817.6,976.2 818.4,977.7 819.2,979.1 820.0,980.5 820.8,981.9 821.6,983.3 822.4,984.7 823.2,986.1 824.0,987.5 824.8,988.9 825.6,990.2 826.4,991.6 827.2,992.9 828.0,994.3 828.8,995.6 829.7,996.9 830.5,998.2 831.3,999.5 832.1,1000.8 832.9,1002.1 833.7,1003.4 834.5,1004.7 835.3,1005.9 836.1,1007.2 836.9,1008.4 837.7,1009.6 838.5,1010.9 839.3,1012.1 840.1,1013.3 840.9,1014.5 841.7,1015.7 842.5,1016.8 843.3,1018.0 844.1,1019.2 844.9,1020.3 845.7,1021.5 846.5,1022.6 847.3,1023.7 848.1,1024.8 848.9,1025.9 849.8,1027.0 850.6,1028.1 851.4,1029.2 852.2,1030.2 853.0,1031.3 853.8,1032.3 854.6,1033.4 855.4,1034.4 856.2,1035.4 857.0,1036.4 857.8,1037.4 858.6,1038.4 859.4,1039.4 860.2,1040.4 861.0,1041.3 861.8,1042.3 862.6,1043.2 863.4,1044.1 864.2,1045.1 865.0,1046.0 865.8,1046.9 866.6,1047.7 867.4,1048.6 868.2,1049.5 869.0,1050.4 869.9,1051.2 870.7,1052.0 871.5,1052.9 872.3,1053.7 873.1,1054.5 873.9,1055.3 874.7,1056.1 875.5,1056.9 876.3,1057.6 877.1,1058.4 877.9,1059.1 878.7,1059.9 879.5,1060.6 880.3,1061.3 881.1,1062.0 881.9,1062.7 882.7,1063.4 883.5,1064.1 884.3,1064.8 885.1,1065.4 885.9,1066.1 886.7,1066.7 887.5,1067.3 888.3,1067.9 889.1,1068.5 890.0,1069.1 890.8,1069.7 891.6,1070.3 892.4,1070.8 893.2,1071.4 894.0,1071.9 894.8,1072.4 895.6,1073.0 896.4,1073.5 897.2,1074.0 898.0,1074.5 898.8,1074.9 899.6,1075.4 900.4,1075.9 901.2,1076.3 902.0,1076.7 902.8,1077.2 903.6,1077.6 904.4,1078.0 905.2,1078.4 906.0,1078.7 906.8,1079.1 907.6,1079.5 908.4,1079.8 909.2,1080.1 910.1,1080.5 910.9,1080.8 911.7,1081.1 912.5,1081.4 913.3,1081.7 914.1,1081.9 914.9,1082.2 915.7,1082.4 916.5,1082.7 917.3,1082.9 918.1,1083.1 918.9,1083.3 919.7,1083.5 920.5,1083.7 921.3,1083.9 922.1,1084.1 922.9,1084.2 923.7,1084.4 924.5,1084.5 925.3,1084.6 926.1,1084.7 926.9,1084.8 927.7,1084.9 928.5,1085.0 929.3,1085.0 930.2,1085.1 931.0,1085.1 931.8,1085.2 932.6,1085.2 933.4,1085.2 934.2,1085.2 935.0,1085.2 935.8,1085.2 936.6,1085.1 937.4,1085.1 938.2,1085.0 939.0,1085.0 939.8,1084.9 940.6,1084.8 941.4,1084.7 942.2,1084.6 943.0,1084.5 943.8,1084.3 944.6,1084.2 945.4,1084.1 946.2,1083.9 947.0,1083.7 947.8,1083.5 948.6,1083.3 949.4,1083.1 950.3,1082.9 951.1,1082.7 951.9,1082.4 952.7,1082.2 953.5,1081.9 954.3,1081.7 955.1,1081.4 955.9,1081.1 956.7,1080.8 957.5,1080.5 958.3,1080.1 959.1,1079.8 959.9,1079.4 960.7,1079.1 961.5,1078.7 962.3,1078.3 963.1,1077.9 963.9,1077.5 964.7,1077.1 965.5,1076.7 966.3,1076.3 967.1,1075.8 967.9,1075.4 968.7,1074.9 969.5,1074.4 970.4,1073.9 971.2,1073.5 972.0,1072.9 972.8,1072.4 973.6,1071.9 974.4,1071.4 975.2,1070.8 976.0,1070.2 976.8,1069.7 977.6,1069.1 978.4,1068.5 979.2,1067.9 980.0,1067.3 980.8,1066.7 981.6,1066.0 982.4,1065.4 983.2,1064.7 984.0,1064.1 984.8,1063.4 985.6,1062.7 986.4,1062.0 987.2,1061.3 988.0,1060.6 988.8,1059.8 989.6,1059.1 990.5,1058.4 991.3,1057.6 992.1,1056.8 992.9,1056.1 993.7,1055.3 994.5,1054.5 995.3,1053.7 996.1,1052.8 996.9,1052.0 997.7,1051.2 998.5,1050.3 999.3,1049.5 1000.1,1048.6 1000.9,1047.7 1001.7,1046.8 1002.5,1045.9 1003.3,1045.0 1004.1,1044.1 1004.9,1043.2 1005.7,1042.2 1006.5,1041.3 1007.3,1040.3 1008.1,1039.3 1008.9,1038.4 1009.7,1037.4 1010.6,1036.4 1011.4,1035.4 1012.2,1034.4 1013.0,1033.3 1013.8,1032.3 1014.6,1031.2 1015.4,1030.2 1016.2,1029.1 1017.0,1028.1 1017.8,1027.0 1018.6,1025.9 1019.4,1024.8 1020.2,1023.7 1021.0,1022.5 1021.8,1021.4 1022.6,1020.3 1023.4,1019.1 1024.2,1018.0 1025.0,1016.8 1025.8,1015.6 1026.6,1014.4 1027.4,1013.2 1028.2,1012.0 1029.0,1010.8 1029.8,1009.6 1030.7,1008.4 1031.5,1007.1 1032.3,1005.9 1033.1,1004.6 1033.9,1003.3 1034.7,1002.1 1035.5,1000.8 1036.3,999.5 1037.1,998.2 1037.9,996.9 1038.7,995.6 1039.5,994.2 1040.3,992.9 1041.1,991.5 1041.9,990.2 1042.7,988.8 1043.5,987.4 1044.3,986.1 1045.1,984.7 1045.9,983.3 1046.7,981.9 1047.5,980.5 1048.3,979.0 1049.1,977.6 1049.9,976.2 1050.8,974.7 1051.6,973.3 1052.4,971.8 1053.2,970.3 1054.0,968.9 1054.8,967.4 1055.6,965.9 1056.4,964.4 1057.2,962.9 1058.0,961.3 1058.8,959.8 1059.6,958.3 1060.4,956.7 1061.2,955.2 1062.0,953.6 1062.8,952.1 1063.6,950.5 1064.4,948.9 1065.2,947.3 1066.0,945.7 1066.8,944.1 1067.6,942.5 1068.4,940.9 1069.2,939.3 1070.0,937.6 1070.9,936.0 1071.7,934.4 1072.5,932.7 1073.3,931.1 1074.1,929.4 1074.9,927.7 1075.7,926.0 1076.5,924.3 1077.3,922.6 1078.1,920.9 1078.9,919.2 1079.7,917.5 1080.5,915.8 1081.3,914.1 1082.1,912.3 1082.9,910.6 1083.7,908.8 1084.5,907.1 1085.3,905.3 1086.1,903.6 1086.9,901.8 1087.7,900.0 1088.5,898.2 1089.3,896.4 1090.1,894.6 1091.0,892.8 1091.8,891.0 1092.6,889.2 1093.4,887.4 1094.2,885.5 1095.0,883.7 1095.8,881.9 1096.6,880.0 1097.4,878.2 1098.2,876.3 1099.0,874.4 1099.8,872.6 1100.6,870.7 1101.4,868.8 1102.2,866.9 1103.0,865.0 1103.8,863.1 1104.6,861.2 1105.4,859.3 1106.2,857.4 1107.0,855.5 1107.8,853.6 1108.6,851.6 1109.4,849.7 1110.2,847.8 1111.1,845.8 1111.9,843.9 1112.7,841.9 1113.5,840.0 1114.3,838.0 1115.1,836.0 1115.9,834.0 1116.7,832.1 1117.5,830.1 1118.3,828.1 1119.1,826.1 1119.9,824.1 1120.7,822.1 1121.5,820.1 1122.3,818.1 1123.1,816.1 1123.9,814.1 1124.7,812.1 1125.5,810.0 1126.3,808.0 1127.1,806.0 1127.9,803.9 1128.7,801.9 1129.5,799.8 1130.3,797.8 1131.2,795.7 1132.0,793.7 1132.8,791.6 1133.6,789.6 1134.4,787.5 1135.2,785.4 1136.0,783.4 1136.8,781.3 1137.6,779.2 1138.4,777.1 1139.2,775.0 1140.0,772.9 1140.8,770.8 1141.6,768.7 1142.4,766.7 1143.2,764.5 1144.0,762.4 1144.8,760.3 1145.6,758.2 1146.4,756.1 1147.2,754.0 1148.0,751.9 1148.8,749.8 1149.6,747.6 1150.4,745.5 1151.3,743.4 1152.1,741.2 1152.9,739.1 1153.7,737.0 1154.5,734.8 1155.3,732.7 1156.1,730.6 1156.9,728.4 1157.7,726.3 1158.5,724.1 1159.3,722.0 1160.1,719.8 1160.9,717.7 1161.7,715.5 1162.5,713.4 1163.3,711.2 1164.1,709.0 1164.9,706.9 1165.7,704.7 1166.5,702.6 1167.3,700.4 1168.1,698.2 1168.9,696.1 1169.7,693.9 1170.5,691.7 1171.4,689.5 1172.2,687.4 1173.0,685.2 1173.8,683.0 1174.6,680.8 1175.4,678.7 1176.2,676.5 1177.0,674.3 1177.8,672.1 1178.6,670.0 1179.4,667.8 1180.2,665.6 1181.0,663.4 1181.8,661.2 1182.6,659.1 1183.4,656.9 1184.2,654.7 1185.0,652.5 1185.8,650.3 1186.6,648.2 1187.4,646.0 1188.2,643.8 1189.0,641.6 1189.8,639.4 1190.6,637.3 1191.5,635.1 1192.3,632.9 1193.1,630.7 1193.9,628.5 1194.7,626.4 1195.5,624.2 1196.3,622.0 1197.1,619.8 1197.9,617.6 1198.7,615.5 1199.5,613.3 1200.3,611.1 1201.1,609.0 1201.9,606.8 1202.7,604.6 1203.5,602.4 1204.3,600.3 1205.1,598.1 1205.9,595.9 1206.7,593.8 1207.5,591.6 1208.3,589.5 1209.1,587.3 1209.9,585.1 1210.7,583.0 1211.6,580.8 1212.4,578.7 1213.2,576.5 1214.0,574.4 1214.8,572.2 1215.6,570.1 1216.4,567.9 1217.2,565.8 1218.0,563.6 1218.8,561.5 1219.6,559.4 1220.4,557.2 1221.2,555.1 1222.0,553.0 1222.8,550.8 1223.6,548.7 1224.4,546.6 1225.2,544.5 1226.0,542.4 1226.8,540.3 1227.6,538.1 1228.4,536.0 1229.2,533.9 1230.0,531.8 1230.8,529.7 1231.7,527.6 1232.5,525.5 1233.3,523.4 1234.1,521.4 1234.9,519.3 1235.7,517.2 1236.5,515.1 1237.3,513.0 1238.1,511.0 1238.9,508.9 1239.7,506.8 1240.5,504.8 1241.3,502.7 1242.1,500.7 1242.9,498.6 1243.7,496.6 1244.5,494.5 1245.3,492.5 1246.1,490.5 1246.9,488.4 1247.7,486.4 1248.5,484.4 1249.3,482.4 1250.1,480.3 1250.9,478.3 1251.8,476.3 1252.6,474.3 1253.4,472.3 1254.2,470.3 1255.0,468.4 1255.8,466.4 1256.6,464.4 1257.4,462.4 1258.2,460.4 1259.0,458.5 1259.8,456.5 1260.6,454.6 1261.4,452.6 1262.2,450.7 1263.0,448.7 1263.8,446.8 1264.6,444.9 1265.4,442.9 1266.2,441.0 1267.0,439.1 1267.8,437.2 1268.6,435.3 1269.4,433.4 1270.2,431.5 1271.0,429.6 1271.9,427.7 1272.7,425.9 1273.5,424.0 1274.3,422.1 1275.1,420.3 1275.9,418.4 1276.7,416.5 1277.5,414.7 1278.3,412.9 1279.1,411.0 1279.9,409.2 1280.7,407.4 1281.5,405.6 1282.3,403.8 1283.1,402.0 1283.9,400.2 1284.7,398.4 1285.5,396.6 1286.3,394.8 1287.1,393.1 1287.9,391.3 1288.7,389.5 1289.5,387.8 1290.3,386.0 1291.1,384.3 1292.0,382.6 1292.8,380.9 1293.6,379.1 1294.4,377.4 1295.2,375.7 1296.0,374.0 1296.8,372.3 1297.6,370.7 1298.4,369.0 1299.2,367.3 1300.0,365.6 1300.8,364.0 1301.6,362.3 1302.4,360.7 1303.2,359.1 1304.0,357.4 1304.8,355.8 1305.6,354.2 1306.4,352.6 1307.2,351.0 1308.0,349.4 1308.8,347.8 1309.6,346.3 1310.4,344.7 1311.2,343.1 1312.1,341.6 1312.9,340.0 1313.7,338.5 1314.5,337.0 1315.3,335.5 1316.1,333.9 1316.9,332.4 1317.7,330.9 1318.5,329.4 1319.3,328.0 1320.1,326.5 1320.9,325.0 1321.7,323.6 1322.5,322.1 1323.3,320.7 1324.1,319.2 1324.9,317.8 1325.7,316.4 1326.5,315.0 1327.3,313.6 1328.1,312.2 1328.9,310.8 1329.7,309.5 1330.5,308.1 1331.3,306.7 1332.2,305.4 1333.0,304.0 1333.8,302.7 1334.6,301.4 1335.4,300.1 1336.2,298.8 1337.0,297.5 1337.8,296.2 1338.6,294.9 1339.4,293.6 1340.2,292.4 1341.0,291.1 1341.8,289.9 1342.6,288.6 1343.4,287.4 1344.2,286.2 1345.0,285.0 1345.8,283.8 1346.6,282.6 1347.4,281.4 1348.2,280.3 1349.0,279.1 1349.8,277.9 1350.6,276.8 1351.4,275.7 1352.3,274.5 1353.1,273.4 1353.9,272.3 1354.7,271.2 1355.5,270.1 1356.3,269.1 1357.1,268.0 1357.9,266.9 1358.7,265.9 1359.5,264.9 1360.3,263.8 1361.1,262.8 1361.9,261.8 1362.7,260.8 1363.5,259.8 1364.3,258.8 1365.1,257.9 1365.9,256.9 1366.7,255.9 1367.5,255.0 1368.3,254.1 1369.1,253.1 1369.9,252.2 1370.7,251.3 1371.5,250.4 1372.4,249.6 1373.2,248.7 1374.0,247.8 1374.8,247.0 1375.6,246.1 1376.4,245.3 1377.2,244.5 1378.0,243.7 1378.8,242.9 1379.6,242.1 1380.4,241.3 1381.2,240.5 1382.0,239.7 1382.8,239.0 1383.6,238.3 1384.4,237.5 1385.2,236.8 1386.0,236.1 1386.8,235.4 1387.6,234.7 1388.4,234.0 1389.2,233.4 1390.0,232.7 1390.8,232.1 1391.6,231.4 1392.5,230.8 1393.3,230.2 1394.1,229.6 1394.9,229.0 1395.7,228.4 1396.5,227.8 1397.3,227.2 1398.1,226.7 1398.9,226.2 1399.7,225.6 1400.5,225.1 1401.3,224.6 1402.1,224.1 1402.9,223.6 1403.7,223.1 1404.5,222.6 1405.3,222.2 1406.1,221.7 1406.9,221.3 1407.7,220.9 1408.5,220.5 1409.3,220.1 1410.1,219.7 1410.9,219.3 1411.7,218.9 1412.6,218.6 1413.4,218.2 1414.2,217.9 1415.0,217.5 1415.8,217.2 1416.6,216.9 1417.4,216.6 1418.2,216.3 1419.0,216.0 1419.8,215.8 1420.6,215.5 1421.4,215.3 1422.2,215.1 1423.0,214.8 1423.8,214.6 1424.6,214.4 1425.4,214.2 1426.2,214.1 1427.0,213.9 1427.8,213.7 1428.6,213.6 1429.4,213.5 1430.2,213.3 1431.0,213.2 1431.8,213.1 1432.7,213.0 1433.5,213.0 1434.3,212.9 1435.1,212.8 1435.9,212.8 1436.7,212.7 1437.5,212.7 1438.3,212.7 1439.1,212.7 1439.9,212.7 1440.7,212.7 1441.5,212.8 1442.3,212.8 1443.1,212.8 1443.9,212.9 1444.7,213.0 1445.5,213.1 1446.3,213.2 1447.1,213.3 1447.9,213.4 1448.7,213.5 1449.5,213.7 1450.3,213.8 1451.1,214.0 1451.9,214.1 1452.8,214.3 1453.6,214.5 1454.4,214.7 1455.2,214.9 1456.0,215.1 1456.8,215.4 1457.6,215.6 1458.4,215.9 1459.2,216.2 1460.0,216.4 1460.8,216.7 1461.6,217.0 1462.4,217.3 1463.2,217.7 1464.0,218.0 1464.8,218.3 1465.6,218.7 1466.4,219.1 1467.2,219.4 1468.0,219.8 1468.8,220.2 1469.6,220.6 1470.4,221.1 1471.2,221.5 1472.0,221.9 1472.9,222.4 1473.7,222.8 1474.5,223.3 1475.3,223.8 1476.1,224.3 1476.9,224.8 1477.7,225.3 1478.5,225.8 1479.3,226.4 1480.1,226.9 1480.9,227.5 1481.7,228.0 1482.5,228.6 1483.3,229.2 1484.1,229.8 1484.9,230.4 1485.7,231.0 1486.5,231.7 1487.3,232.3 1488.1,233.0 1488.9,233.6 1489.7,234.3 1490.5,235.0 1491.3,235.7 1492.1,236.4 1493.0,237.1 1493.8,237.8 1494.6,238.6 1495.4,239.3 1496.2,240.1 1497.0,240.8 1497.8,241.6 1498.6,242.4 1499.4,243.2 1500.2,244.0 1501.0,244.8 1501.8,245.6 1502.6,246.5 1503.4,247.3 1504.2,248.2 1505.0,249.0 1505.8,249.9 1506.6,250.8 1507.4,251.7 1508.2,252.6 1509.0,253.5 1509.8,254.4 1510.6,255.4 1511.4,256.3 1512.2,257.3 1513.1,258.2 1513.9,259.2 1514.7,260.2 1515.5,261.2 1516.3,262.2 1517.1,263.2 1517.9,264.2 1518.7,265.3 1519.5,266.3 1520.3,267.4 1521.1,268.4 1521.9,269.5 1522.7,270.6 1523.5,271.7 1524.3,272.8 1525.1,273.9 1525.9,275.0 1526.7,276.1 1527.5,277.3 1528.3,278.4 1529.1,279.6 1529.9,280.7 1530.7,281.9 1531.5,283.1 1532.3,284.3 1533.2,285.5 1534.0,286.7 1534.8,287.9 1535.6,289.1 1536.4,290.4 1537.2,291.6 1538.0,292.9 1538.8,294.2 1539.6,295.4 1540.4,296.7 1541.2,298.0 1542.0,299.3 1542.8,300.6 1543.6,301.9 1544.4,303.3 1545.2,304.6 1546.0,305.9 1546.8,307.3 1547.6,308.6 1548.4,310.0 1549.2,311.4 1550.0,312.8 1550.8,314.2 1551.6,315.6 1552.4,317.0 1553.3,318.4 1554.1,319.8 1554.9,321.3 1555.7,322.7 1556.5,324.2 1557.3,325.6 1558.1,327.1 1558.9,328.6 1559.7,330.1 1560.5,331.5 1561.3,333.0 1562.1,334.6 1562.9,336.1 1563.7,337.6 1564.5,339.1 1565.3,340.7 1566.1,342.2 1566.9,343.8 1567.7,345.3 1568.5,346.9 1569.3,348.5 1570.1,350.1 1570.9,351.7 1571.7,353.3 1572.5,354.9 1573.4,356.5 1574.2,358.1 1575.0,359.7 1575.8,361.4 1576.6,363.0 1577.4,364.7 1578.2,366.3 1579.0,368.0 1579.8,369.7 1580.6,371.3 1581.4,373.0 1582.2,374.7 1583.0,376.4 1583.8,378.1 1584.6,379.8 1585.4,381.6 1586.2,383.3 1587.0,385.0 1587.8,386.8 1588.6,388.5 1589.4,390.3 1590.2,392.0 1591.0,393.8 1591.8,395.6 1592.6,397.3 1593.5,399.1 1594.3,400.9 1595.1,402.7 1595.9,404.5 1596.7,406.3 1597.5,408.1 1598.3,410.0 1599.1,411.8 1599.9,413.6 1600.7,415.5 1601.5,417.3 1602.3,419.2 1603.1,421.0 1603.9,422.9 1604.7,424.7 1605.5,426.6 1606.3,428.5 1607.1,430.4 1607.9,432.3 1608.7,434.2 1609.5,436.1 1610.3,438.0 1611.1,439.9 1611.9,441.8 1612.7,443.7 1613.6,445.7 1614.4,447.6 1615.2,449.5 1616.0,451.5 1616.8,453.4 1617.6,455.4 1618.4,457.3 1619.2,459.3 1620.0,461.3 1620.8,463.2 1621.6,465.2 1622.4,467.2 1623.2,469.2 1624.0,471.2 1624.8,473.1 1625.6,475.1 1626.4,477.1 1627.2,479.2 1628.0,481.2 1628.8,483.2 1629.6,485.2 1630.4,487.2 1631.2,489.3 1632.0,491.3 1632.8,493.3 1633.7,495.4 1634.5,497.4 1635.3,499.5 1636.1,501.5 1636.9,503.6 1637.7,505.6 1638.5,507.7 1639.3,509.7 1640.1,511.8 1640.9,513.9 1641.7,516.0 1642.5,518.0 1643.3,520.1 1644.1,522.2 1644.9,524.3 1645.7,526.4 1646.5,528.5 1647.3,530.6 1648.1,532.7 1648.9,534.8 1649.7,536.9 1650.5,539.0 1651.3,541.1 1652.1,543.2 1652.9,545.3 1653.8,547.5 1654.6,549.6 1655.4,551.7 1656.2,553.8 1657.0,556.0 1657.8,558.1 1658.6,560.2 1659.4,562.4 1660.2,564.5 1661.0,566.7 1661.8,568.8 1662.6,570.9 1663.4,573.1 1664.2,575.2 1665.0,577.4 1665.8,579.5 1666.6,581.7 1667.4,583.9 1668.2,586.0 1669.0,588.2 1669.8,590.3 1670.6,592.5 1671.4,594.7 1672.2,596.8 1673.0,599.0 1673.9,601.2 1674.7,603.3 1675.5,605.5 1676.3,607.7 1677.1,609.8 1677.9,612.0 1678.7,614.2 1679.5,616.4 1680.3,618.5 1681.1,620.7 1681.9,622.9 1682.7,625.1 1683.5,627.2 1684.3,629.4 1685.1,631.6 1685.9,633.8 1686.7,636.0 1687.5,638.1 1688.3,640.3 1689.1,642.5 1689.9,644.7 1690.7,646.9 1691.5,649.0 1692.3,651.2 1693.1,653.4 1694.0,655.6 1694.8,657.8 1695.6,660.0 1696.4,662.1 1697.2,664.3 1698.0,666.5 1698.8,668.7 1699.6,670.9 1700.4,673.0 1701.2,675.2 1702.0,677.4 1702.8,679.6 1703.6,681.7 1704.4,683.9 1705.2,686.1 1706.0,688.3 1706.8,690.4 1707.6,692.6 1708.4,694.8 1709.2,696.9 1710.0,699.1 1710.8,701.3 1711.6,703.4 1712.4,705.6 1713.2,707.8 1714.1,709.9 1714.9,712.1 1715.7,714.2 1716.5,716.4 1717.3,718.5 1718.1,720.7 1718.9,722.9 1719.7,725.0 1720.5,727.1 1721.3,729.3 1722.1,731.4 1722.9,733.6 1723.7,735.7 1724.5,737.9 1725.3,740.0 1726.1,742.1 1726.9,744.2 1727.7,746.4 1728.5,748.5 1729.3,750.6 1730.1,752.7 1730.9,754.9 1731.7,757.0 1732.5,759.1 1733.3,761.2 1734.2,763.3 1735.0,765.4 1735.8,767.5 1736.6,769.6 1737.4,771.7 1738.2,773.8 1739.0,775.9 1739.8,778.0 1740.6,780.0 1741.4,782.1 1742.2,784.2 1743.0,786.3 1743.8,788.3 1744.6,790.4 1745.4,792.5 1746.2,794.5 1747.0,796.6 1747.8,798.6 1748.6,800.7 1749.4,802.7 1750.2,804.8 1751.0,806.8 1751.8,808.8 1752.6,810.9 1753.4,812.9 1754.3,814.9 1755.1,816.9 1755.9,818.9 1756.7,820.9 1757.5,822.9 1758.3,824.9 1759.1,826.9 1759.9,828.9 1760.7,830.9 1761.5,832.9 1762.3,834.9 1763.1,836.8 1763.9,838.8 1764.7,840.8 1765.5,842.7 1766.3,844.7 1767.1,846.6 1767.9,848.6 1768.7,850.5 1769.5,852.4 1770.3,854.3 1771.1,856.3 1771.9,858.2 1772.7,860.1 1773.5,862.0 1774.4,863.9 1775.2,865.8 1776.0,867.7 1776.8,869.6 1777.6,871.5 1778.4,873.3 1779.2,875.2 1780.0,877.1 1780.8,878.9 1781.6,880.8 1782.4,882.6 1783.2,884.4 1784.0,886.3" stroke="#00ff00" stroke-dasharray="26.00 7.30 13.30 7.30" stroke-dashoffset="21.07"/>
<path d="M176.0,212.7 176.1,211.2 176.2,209.8 176.2,208.3 176.3,206.9 176.4,205.5 176.5,204.0 176.6,202.6 176.6,201.2 176.7,199.7 176.8,198.3 176.9,196.9 177.0,195.5 177.0,194.2 177.1,192.8 177.2,191.4 177.3,190.1 177.4,188.8 177.4,187.5 177.5,186.2 177.6,184.9 177.7,183.7 177.8,182.5 177.8,181.3 177.9,180.1 178.0,178.9 178.1,177.8 178.2,176.7 178.3,175.6 178.3,174.5 178.4,173.5 178.5,172.5 178.6,171.5 178.7,170.6 178.7,169.7 178.8,168.8 178.9,168.0 179.0,167.2 179.1,165.7 179.3,164.3 179.5,163.1 179.6,162.1 179.8,161.2 180.0,160.3 180.4,159.5 180.9,160.2 181.1,161.3 181.3,162.2 181.5,163.3 181.6,164.6 181.8,166.0 181.9,167.5 182.0,168.3 182.1,169.1 182.2,170.0 182.3,170.9 182.4,171.8 182.4,172.7 182.5,173.6 182.6,174.6 182.7,175.5 182.8,176.5 182.8,177.5 182.9,178.5 183.0,179.5 183.1,180.5 183.2,181.5 183.2,182.5 183.3,183.5 183.4,184.5 183.5,185.6 183.6,186.7 183.6,187.7 183.7,188.8 183.8,189.9 183.9,191.0 184.0,192.2 184.0,193.3 184.1,194.5 184.2,195.7 184.3,196.9 184.4,198.2 184.4,199.4 184.5,200.7 184.6,202.1 184.7,203.4 184.8,204.8 184.8,206.2 184.9,207.6 185.0,209.1 185.1,210.6 185.2,212.2 185.2,213.7 185.3,215.4 185.4,217.0 185.5,218.7 185.6,220.4 185.6,222.2 185.7,224.0 185.8,225.9 185.9,227.8 186.0,229.8 186.1,231.7 186.1,233.7 186.2,235.8 186.3,237.9 186.4,240.0 186.5,242.1 186.5,244.2 186.6,246.4 186.7,248.6 186.8,250.7 186.9,252.9 186.9,255.1 187.0,257.3 187.1,259.6 187.2,261.8 187.3,264.0 187.3,266.2 187.4,268.4 187.5,270.5 187.6,272.7 187.7,274.9 187.7,277.0 187.8,279.1 187.9,281.2 188.0,283.2 188.1,285.3 188.1,287.3 188.2,289.2 188.3,291.2 188.4,293.1 188.5,295.0 188.5,296.8 188.6,298.7 188.7,300.6 188.8,302.4 188.9,304.3 188.9,306.1 189.0,308.0 189.1,309.9 189.2,311.8 189.3,313.8 189.3,315.8 189.4,317.8 189.5,319.8 189.6,321.9 189.7,324.1 189.7,326.3 189.8,328.5 189.9,330.9 190.0,333.2 190.1,335.7 190.2,338.2 190.2,340.9 190.3,343.6 190.4,346.4 190.5,349.2 190.6,352.2 190.6,355.2 190.7,358.3 190.8,361.4 190.9,364.5 191.0,367.7 191.0,370.9 191.1,374.1 191.2,377.3 191.3,380.5 191.4,383.6 191.4,386.8 191.5,389.9 191.6,392.9 191.7,395.9 191.8,398.9 191.8,401.7 191.9,404.5 192.0,407.2 192.1,409.8 192.2,412.2 192.2,414.6 192.3,416.8 192.4,419.0 192.5,421.1 192.6,423.1 192.6,425.1 192.7,427.0 192.8,428.9 192.9,430.7 193.0,432.5 193.0,434.3 193.1,436.2 193.2,438.0 193.3,439.8 193.4,441.7 193.4,443.6 193.5,445.5 193.6,447.5 193.7,449.6 193.8,451.8 193.8,454.0 193.9,456.3 194.0,458.8 194.1,461.3 194.2,464.0 194.3,466.9 194.3,469.8 194.4,472.9 194.5,476.2 194.6,479.6 194.7,483.1 194.7,486.6 194.8,490.3 194.9,494.0 195.0,497.8 195.1,501.6 195.1,505.5 195.2,509.3 195.3,513.2 195.4,517.0 195.5,520.8 195.5,524.5 195.6,528.2 195.7,531.8 195.8,535.4 195.9,538.8 195.9,542.1 196.0,545.2 196.1,548.3 196.2,551.2 196.3,554.1 196.3,556.8 196.4,559.5 196.5,562.1 196.6,564.6 196.7,567.0 196.7,569.4 196.8,571.7 196.9,574.0 197.0,576.2 197.1,578.4 197.1,580.6 197.2,582.8 197.3,584.9 197.4,587.1 197.5,589.2 197.5,591.4 197.6,593.5 197.7,595.7 197.8,597.9 197.9,600.2 197.9,602.5 198.0,604.8 198.1,607.1 198.2,609.4 198.3,611.7 198.4,614.0 198.4,616.3 198.5,618.6 198.6,620.9 198.7,623.2 198.8,625.4 198.8,627.7 198.9,629.9 199.0,632.0 199.1,634.2 199.2,636.3 199.2,638.3 199.3,640.3 199.4,642.2 199.5,644.1 199.6,645.9 199.6,647.7 199.7,649.4 199.8,651.0 199.9,652.5 200.0,653.9 200.0,655.3 200.1,656.5 200.2,657.7 200.3,658.7 200.4,659.7 200.4,660.6 200.6,662.0 200.8,663.2 200.9,664.1 201.2,664.9 202.0,665.0 202.5,664.4 202.9,663.6 203.3,662.8 203.5,662.0 203.7,660.8 203.9,659.9 204.1,658.8 204.2,657.5 204.4,656.1 204.5,655.2 204.5,654.4 204.6,653.5 204.7,652.5 204.8,651.6 204.9,650.5 204.9,649.5 205.0,648.4 205.1,647.2 205.2,646.1 205.3,644.9 205.3,643.7 205.4,642.4 205.5,641.1 205.6,639.8 205.7,638.5 205.7,637.1 205.8,635.8 205.9,634.4 206.0,633.0 206.1,631.5 206.2,630.1 206.2,628.7 206.3,627.2 206.4,625.7 206.5,624.3 206.6,622.8 206.6,621.3 206.7,619.8 206.8,618.3 206.9,616.8 207.0,615.3 207.0,613.8 207.1,612.3 207.2,610.9 207.3,609.4 207.4,607.9 207.4,606.5 207.5,605.0 207.6,603.6 207.7,602.2 207.8,600.8 207.8,599.4 207.9,598.0 208.0,596.6 208.1,595.3 208.2,593.9 208.2,592.6 208.3,591.2 208.4,589.9 208.5,588.6 208.6,587.3 208.6,586.1 208.7,584.8 208.8,583.6 208.9,582.3 209.0,581.1 209.0,579.9 209.1,578.7 209.2,577.6 209.3,576.4 209.4,575.3 209.4,574.1 209.5,573.0 209.6,572.0 209.7,570.9 209.8,569.8 209.8,568.8 209.9,567.8 210.0,566.8 210.1,565.8 210.2,564.8 210.3,563.9 210.3,562.9 210.4,562.0 210.5,561.1 210.6,560.2 210.7,559.3 210.7,558.5 210.8,557.6 210.9,556.8 211.0,556.0 211.1,554.4 211.3,552.9 211.5,551.5 211.6,550.1 211.8,548.7 211.9,547.4 212.1,546.2 212.3,545.0 212.4,543.9 212.6,542.9 212.7,541.9 212.9,540.9 213.1,540.0 213.2,539.2 213.4,538.4 213.6,537.2 213.9,536.2 214.1,535.3 214.4,534.6 214.7,533.6 215.0,532.9 215.4,532.2 216.0,531.5 216.7,531.0 217.5,530.8 218.3,530.7 219.1,530.5 219.8,529.9 220.4,529.3 220.9,528.5 221.3,527.8 221.7,527.0 222.1,526.1 222.4,525.4 222.7,524.6 223.0,523.7 223.4,522.9 223.7,522.0 224.0,521.1 224.2,520.4" stroke="#00ffff" stroke-dasharray="26.50 27.40" stroke-dashoffset="0.00"/>
<path d="M224.2,520.4 224.6,519.5 224.9,518.6 225.2,517.7 225.5,516.8 225.8,515.9 226.2,515.0 226.5,514.1 226.8,513.2 227.1,512.4 227.5,511.5 227.8,510.7 228.1,509.8 228.4,509.0 228.7,508.2 229.1,507.4 229.4,506.5 229.7,505.7 230.0,504.9 230.4,504.1 230.7,503.3 231.0,502.5 231.3,501.8 231.6,501.0 232.0,500.2 232.3,499.4 232.6,498.6 232.9,497.8 233.2,497.0 233.6,496.1 233.9,495.3 234.2,494.5 234.5,493.7 234.9,492.9 235.2,492.1 235.5,491.3 235.8,490.5 236.1,489.6 236.5,488.8 236.8,488.0 237.1,487.2 237.4,486.4 237.7,485.5 238.1,484.7 238.4,483.9 238.7,483.1 239.0,482.3 239.4,481.5 239.7,480.6 240.0,479.8 240.3,479.0 240.6,478.2 241.0,477.4 241.3,476.6 241.6,475.8 241.9,475.0 242.2,474.2 242.6,473.4 242.9,472.6 243.2,471.8 243.5,471.0 243.9,470.2 244.2,469.4 244.5,468.6 244.8,467.8 245.1,467.0 245.5,466.2 245.8,465.4 246.1,464.6 246.4,463.8 246.8,463.0 247.1,462.2 247.4,461.4 247.7,460.6 248.0,459.8 248.4,459.0 248.7,458.3 249.0,457.5 249.3,456.7 249.6,455.9 250.0,455.1 250.3,454.3 250.6,453.6 250.9,452.8 251.3,452.0 251.6,451.2 251.9,450.4 252.2,449.7 252.5,448.9 252.9,448.1 253.2,447.3 253.5,446.6 253.8,445.8 254.1,445.0 254.5,444.2 254.8,443.5 255.1,442.7 255.4,441.9 255.8,441.2 256.1,440.4 256.4,439.6 256.7,438.9 257.0,438.1 257.4,437.4 257.7,436.6 258.0,435.8 258.3,435.1 258.7,434.3 259.0,433.6 259.3,432.8 259.6,432.1 259.9,431.3 260.3,430.5 260.6,429.8 260.9,429.0 261.2,428.3 261.5,427.5 261.9,426.8 262.2,426.0 262.5,425.3 262.8,424.6 263.2,423.8 263.5,423.1 263.8,422.3 264.1,421.6 264.4,420.8 264.8,420.1 265.1,419.4 265.4,418.6 265.7,417.9 266.0,417.2 266.4,416.4 266.7,415.7 267.0,414.9 267.4,414.0 267.8,413.1 268.2,412.2 268.6,411.3 269.0,410.4 269.4,409.5 269.8,408.6 270.2,407.7 270.6,406.8 271.0,405.9 271.4,405.0 271.8,404.1 272.2,403.2 273.3,400.8 274.1,399.1 274.9,397.3 275.7,395.5 276.5,393.7 277.3,392.0 278.1,390.2 278.9,388.5 279.7,386.7 280.5,385.0 281.3,383.3 282.1,381.6 282.9,379.8 283.7,378.1 284.5,376.4 285.3,374.7 286.1,373.0 287.0,371.4 287.8,369.7 288.6,368.0 289.4,366.4 290.2,364.7 291.0,363.0 291.8,361.4 292.6,359.8 293.4,358.1 294.2,356.5 295.0,354.9 295.8,353.3 296.6,351.7 297.4,350.1 298.2,348.5 299.0,347.0 299.8,345.4 300.6,343.8 301.4,342.3 302.2,340.7 303.0,339.2 303.8,337.6 304.6,336.1 305.4,334.6 306.2,333.1 307.1,331.6 307.9,330.1 308.7,328.6 309.5,327.1 310.3,325.7 311.1,324.2 311.9,322.8 312.7,321.3 313.5,319.9 314.3,318.4 315.1,317.0 315.9,315.6 316.7,314.2 317.5,312.8 318.3,311.4 319.1,310.0 319.9,308.7 320.7,307.3 321.5,305.9 322.3,304.6 323.1,303.3 323.9,301.9 324.7,300.6 325.5,299.3 326.3,298.0 327.2,296.7 328.0,295.4 328.8,294.1 329.6,292.9 330.4,291.6 331.2,290.4 332.0,289.1 332.8,287.9 333.6,286.7 334.4,285.4 335.2,284.2 336.0,283.0 336.8,281.9 337.6,280.7 338.4,279.5 339.2,278.4 340.0,277.2 340.8,276.1 341.6,275.0 342.4,273.8 343.2,272.7 344.0,271.6 344.8,270.5 345.6,269.5 346.4,268.4 347.3,267.3 348.1,266.3 348.9,265.2 349.7,264.2 350.5,263.2 351.3,262.2 352.1,261.2 352.9,260.2 353.7,259.2 354.5,258.2 355.3,257.2 356.1,256.3 356.9,255.3 357.7,254.4 358.5,253.5 359.3,252.6 360.1,251.7 360.9,250.8 361.7,249.9 362.5,249.0 363.3,248.1 364.1,247.3 364.9,246.4 365.7,245.6 366.5,244.8 367.4,243.9 368.2,243.1 369.0,242.3 369.8,241.6 370.6,240.8 371.4,240.0 372.2,239.3 373.0,238.5 373.8,237.8 374.6,237.1 375.4,236.4 376.2,235.6 377.0,235.0 377.8,234.3 378.6,233.6 379.4,232.9 380.2,232.3 381.0,231.6 381.8,231.0 382.6,230.4 383.4,229.8 384.2,229.2 385.0,228.6 385.8,228.0 386.6,227.5 387.5,226.9 388.3,226.3 389.1,225.8 389.9,225.3 390.7,224.8 391.5,224.3 392.3,223.8 393.1,223.3 393.9,222.8 394.7,222.4 395.5,221.9 396.3,221.5 397.1,221.0 397.9,220.6 398.7,220.2 399.5,219.8 400.3,219.4 401.1,219.0 401.9,218.7 402.7,218.3 403.5,218.0 404.3,217.7 405.1,217.3 405.9,217.0 406.7,216.7 407.6,216.4 408.4,216.1 409.2,215.9 410.0,215.6 410.8,215.4 411.6,215.1 412.4,214.9 413.2,214.7 414.0,214.5 414.8,214.3 415.6,214.1 416.4,214.0 417.2,213.8 418.0,213.6 418.8,213.5 419.6,213.4 420.4,213.3 421.2,213.2 422.0,213.1 422.8,213.0 423.6,212.9 424.4,212.8 425.2,212.8 426.0,212.8 426.8,212.7 427.7,212.7 428.5,212.7 429.3,212.7 430.1,212.7 430.9,212.7 431.7,212.8 432.5,212.8 433.3,212.9 434.1,213.0 434.9,213.0 435.7,213.1 436.5,213.2 437.3,213.3 438.1,213.5 438.9,213.6 439.7,213.7 440.5,213.9 441.3,214.1 442.1,214.2 442.9,214.4 443.7,214.6 444.5,214.8 445.3,215.1 446.1,215.3 446.9,215.5 447.8,215.8 448.6,216.1 449.4,216.3 450.2,216.6 451.0,216.9 451.8,217.2 452.6,217.5 453.4,217.9 454.2,218.2 455.0,218.6 455.8,218.9 456.6,219.3 457.4,219.7 458.2,220.1 459.0,220.5 459.8,220.9 460.6,221.3 461.4,221.8 462.2,222.2 463.0,222.7 463.8,223.1 464.6,223.6 465.4,224.1 466.2,224.6 467.0,225.1 467.9,225.6 468.7,226.2 469.5,226.7 470.3,227.3 471.1,227.8 471.9,228.4 472.7,229.0 473.5,229.6 474.3,230.2 475.1,230.8 475.9,231.4 476.7,232.1 477.5,232.7 478.3,233.4 479.1,234.1 479.9,234.7 480.7,235.4 481.5,236.1 482.3,236.8 483.1,237.6 483.9,238.3 484.7,239.0 485.5,239.8 486.3,240.5 487.1,241.3 488.0,242.1 488.8,242.9 489.6,243.7 490.4,244.5 491.2,245.3 492.0,246.2 492.8,247.0 493.6,247.9 494.4,248.7 495.2,249.6 496.0,250.5 496.8,251.4 497.6,252.3 498.4,253.2 499.2,254.1 500.0,255.0 500.8,256.0 501.6,256.9 502.4,257.9 503.2,258.9 504.0,259.8 504.8,260.8 505.6,261.8 506.4,262.8 507.2,263.9 508.1,264.9 508.9,265.9 509.7,267.0 510.5,268.0 511.3,269.1 512.1,270.2 512.9,271.3 513.7,272.4 514.5,273.5 515.3,274.6 516.1,275.7 516.9,276.9 517.7,278.0 518.5,279.2 519.3,280.3 520.1,281.5 520.9,282.7 521.7,283.9 522.5,285.1 523.3,286.3 524.1,287.5 524.9,288.7 525.7,289.9 526.5,291.2 527.3,292.4 528.2,293.7 529.0,295.0 529.8,296.2 530.6,297.5 531.4,298.8 532.2,300.1 533.0,301.4 533.8,302.8 534.6,304.1 535.4,305.4 536.2,306.8 537.0,308.1 537.8,309.5 538.6,310.9 539.4,312.3 540.2,313.7 541.0,315.1 541.8,316.5 542.6,317.9 543.4,319.3 544.2,320.7 545.0,322.2 545.8,323.6 546.6,325.1 547.4,326.6 548.3,328.0 549.1,329.5 549.9,331.0 550.7,332.5 551.5,334.0 552.3,335.5 553.1,337.0 553.9,338.6 554.7,340.1 555.5,341.7 556.3,343.2 557.1,344.8 557.9,346.3 558.7,347.9 559.5,349.5 560.3,351.1 561.1,352.7 561.9,354.3 562.7,355.9 563.5,357.5 564.3,359.1 565.1,360.8 565.9,362.4 566.7,364.1 567.5,365.7 568.4,367.4 569.2,369.0 570.0,370.7 570.8,372.4 571.6,374.1 572.4,375.8 573.2,377.5 574.0,379.2 574.8,380.9 575.6,382.7 576.4,384.4 577.2,386.1 578.0,387.9 578.8,389.6 579.6,391.4 580.4,393.1 581.2,394.9 582.0,396.7 582.8,398.5 583.6,400.3 584.4,402.1 585.2,403.9 586.0,405.7 586.8,407.5 587.6,409.3 588.5,411.1 589.3,413.0 590.1,414.8 590.9,416.6 591.7,418.5 592.5,420.3 593.3,422.2 594.1,424.1 594.9,425.9 595.7,427.8 596.5,429.7 597.3,431.6 598.1,433.5 598.9,435.4 599.7,437.3 600.5,439.2 601.3,441.1 602.1,443.0 602.9,445.0 603.7,446.9 604.5,448.8 605.3,450.8 606.1,452.7 606.9,454.7 607.7,456.6 608.6,458.6 609.4,460.5 610.2,462.5 611.0,464.5 611.8,466.5 612.6,468.4 613.4,470.4 614.2,472.4 615.0,474.4 615.8,476.4 616.6,478.4 617.4,480.4 618.2,482.5 619.0,484.5 619.8,486.5 620.6,488.5 621.4,490.5 622.2,492.6 623.0,494.6 623.8,496.7 624.6,498.7 625.4,500.8 626.2,502.8 627.0,504.9 627.8,506.9 628.7,509.0 629.5,511.1 630.3,513.1 631.1,515.2 631.9,517.3 632.7,519.4 633.5,521.5 634.3,523.5 635.1,525.6 635.9,527.7 636.7,529.8 637.5,531.9 638.3,534.0 639.1,536.1 639.9,538.2 640.7,540.3 641.5,542.5 642.3,544.6 643.1,546.7 643.9,548.8 644.7,550.9 645.5,553.1 646.3,555.2 647.1,557.3 647.9,559.5 648.8,561.6 649.6,563.7 650.4,565.9 651.2,568.0 652.0,570.2 652.8,572.3 653.6,574.5 654.4,576.6 655.2,578.8 656.0,580.9 656.8,583.1 657.6,585.2 658.4,587.4 659.2,589.5 660.0,591.7 660.8,593.9 661.6,596.0 662.4,598.2 663.2,600.4 664.0,602.5 664.8,604.7 665.6,606.9 666.4,609.0 667.2,611.2 668.0,613.4 668.9,615.6 669.7,617.7 670.5,619.9 671.3,622.1 672.1,624.3 672.9,626.5 673.7,628.6 674.5,630.8 675.3,633.0 676.1,635.2 676.9,637.4 677.7,639.5 678.5,641.7 679.3,643.9 680.1,646.1 680.9,648.3 681.7,650.4 682.5,652.6 683.3,654.8 684.1,657.0 684.9,659.2 685.7,661.3 686.5,663.5 687.3,665.7 688.1,667.9 689.0,670.1 689.8,672.2 690.6,674.4 691.4,676.6 692.2,678.8 693.0,680.9 693.8,683.1 694.6,685.3 695.4,687.5 696.2,689.6 697.0,691.8 697.8,694.0 698.6,696.2 699.4,698.3 700.2,700.5 701.0,702.6 701.8,704.8 702.6,707.0 703.4,709.1 704.2,711.3 705.0,713.5 705.8,715.6 706.6,717.8 707.4,719.9 708.2,722.1 709.1,724.2 709.9,726.4 710.7,728.5 711.5,730.7 712.3,732.8 713.1,734.9 713.9,737.1 714.7,739.2 715.5,741.3 716.3,743.5 717.1,745.6 717.9,747.7 718.7,749.9 719.5,752.0 720.3,754.1 721.1,756.2 721.9,758.3 722.7,760.4 723.5,762.5 724.3,764.6 725.1,766.7 725.9,768.8 726.7,770.9 727.5,773.0 728.3,775.1 729.2,777.2 730.0,779.3 730.8,781.4 731.6,783.4 732.4,785.5 733.2,787.6 734.0,789.7 734.8,791.7 735.6,793.8 736.4,795.8 737.2,797.9 738.0,799.9 738.8,802.0 739.6,804.0 740.4,806.1 741.2,808.1 742.0,810.1 742.8,812.1 743.6,814.2 744.4,816.2 745.2,818.2 746.0,820.2 746.8,822.2 747.6,824.2 748.4,826.2 749.3,828.2 750.1,830.2 750.9,832.2 751.7,834.1 752.5,836.1 753.3,838.1 754.1,840.0 754.9,842.0 755.7,844.0 756.5,845.9 757.3,847.8 758.1,849.8 758.9,851.7 759.7,853.6 760.5,855.6 761.3,857.5 762.1,859.4 762.9,861.3 763.7,863.2 764.5,865.1 765.3,867.0 766.1,868.9 766.9,870.8 767.7,872.6 768.5,874.5 769.4,876.4 770.2,878.2 771.0,880.1 771.8,881.9 772.6,883.8 773.4,885.6 774.2,887.4 775.0,889.3 775.8,891.1 776.6,892.9 777.4,894.7 778.2,896.5 779.0,898.3 779.8,900.1 780.6,901.9 781.4,903.6 782.2,905.4 783.0,907.2 783.8,908.9 784.6,910.7 785.4,912.4 786.2,914.1 787.0,915.9 787.8,917.6 788.6,919.3 789.5,921.0 790.3,922.7 791.1,924.4 791.9,926.1 792.7,927.8 793.5,929.5 794.3,931.1 795.1,932.8 795.9,934.4 796.7,936.1 797.5,937.7 798.3,939.4 799.1,941.0 799.9,942.6 800.7,944.2 801.5,945.8 802.3,947.4 803.1,949.0 803.9,950.6 804.7,952.1 805.5,953.7 806.3,955.3 807.1,956.8 807.9,958.4 808.7,959.9 809.6,961.4 810.4,962.9 811.2,964.4 812.0,965.9 812.8,967.4 813.6,968.9 814.4,970.4 815.2,971.9 816.0,973.3 816.8,974.8 817.6,976.2 818.4,977.7 819.2,979.1 820.0,980.5 820.8,981.9 821.6,983.3 822.4,984.7 823.2,986.1 824.0,987.5 824.8,988.9 825.6,990.2 826.4,991.6 827.2,992.9 828.0,994.3 828.8,995.6 829.7,996.9 830.5,998.2 831.3,999.5 832.1,1000.8 832.9,1002.1 833.7,1003.4 834.5,1004.7 835.3,1005.9 836.1,1007.2 836.9,1008.4 837.7,1009.6 838.5,1010.9 839.3,1012.1 840.1,1013.3 840.9,1014.5 841.7,1015.7 842.5,1016.8 843.3,1018.0 844.1,1019.2 844.9,1020.3 845.7,1021.5 846.5,1022.6 847.3,1023.7 848.1,1024.8 848.9,1025.9 849.8,1027.0 850.6,1028.1 851.4,1029.2 852.2,1030.2 853.0,1031.3 853.8,1032.3 854.6,1033.4 855.4,1034.4 856.2,1035.4 857.0,1036.4 857.8,1037.4 858.6,1038.4 859.4,1039.4 860.2,1040.4 861.0,1041.3 861.8,1042.3 862.6,1043.2 863.4,1044.1 864.2,1045.1 865.0,1046.0 865.8,1046.9 866.6,1047.7 867.4,1048.6 868.2,1049.5 869.0,1050.4 869.9,1051.2 870.7,1052.0 871.5,1052.9 872.3,1053.7 873.1,1054.5 873.9,1055.3 874.7,1056.1 875.5,1056.9 876.3,1057.6 877.1,1058.4 877.9,1059.1 878.7,1059.9 879.5,1060.6 880.3,1061.3 881.1,1062.0 881.9,1062.7 882.7,1063.4 883.5,1064.1 884.3,1064.8 885.1,1065.4 885.9,1066.1 886.7,1066.7 887.5,1067.3 888.3,1067.9 889.1,1068.5 890.0,1069.1 890.8,1069.7 891.6,1070.3 892.4,1070.8 893.2,1071.4 894.0,1071.9 894.8,1072.4 895.6,1073.0 896.4,1073.5 897.2,1074.0 898.0,1074.5 898.8,1074.9 899.6,1075.4 900.4,1075.9 901.2,1076.3 902.0,1076.7 902.8,1077.2 903.6,1077.6 904.4,1078.0 905.2,1078.4 906.0,1078.7 906.8,1079.1 907.6,1079.5 908.4,1079.8 909.2,1080.1 910.1,1080.5 910.9,1080.8 911.7,1081.1 912.5,1081.4 913.3,1081.7 914.1,1081.9 914.9,1082.2 915.7,1082.4 916.5,1082.7 917.3,1082.9 918.1,1083.1 918.9,1083.3 919.7,1083.5 920.5,1083.7 921.3,1083.9 922.1,1084.1 922.9,1084.2 923.7,1084.4 924.5,1084.5 925.3,1084.6 926.1,1084.7 926.9,1084.8 927.7,1084.9 928.5,1085.0 929.3,1085.0 930.2,1085.1 931.0,1085.1 931.8,1085.2 932.6,1085.2 933.4,1085.2 934.2,1085.2 935.0,1085.2 935.8,1085.2 936.6,1085.1 937.4,1085.1 938.2,1085.0 939.0,1085.0 939.8,1084.9 940.6,1084.8 941.4,1084.7 942.2,1084.6 943.0,1084.5 943.8,1084.3 944.6,1084.2 945.4,1084.1 946.2,1083.9 947.0,1083.7 947.8,1083.5 948.6,1083.3 949.4,1083.1 950.3,1082.9 951.1,1082.7 951.9,1082.4 952.7,1082.2 953.5,1081.9 954.3,1081.7 955.1,1081.4 955.9,1081.1 956.7,1080.8 957.5,1080.5 958.3,1080.1 959.1,1079.8 959.9,1079.4 960.7,1079.1 961.5,1078.7 962.3,1078.3 963.1,1077.9 963.9,1077.5 964.7,1077.1 965.5,1076.7 966.3,1076.3 967.1,1075.8 967.9,1075.4 968.7,1074.9 969.5,1074.4 970.4,1073.9 971.2,1073.5 972.0,1072.9 972.8,1072.4 973.6,1071.9 974.4,1071.4 975.2,1070.8 976.0,1070.2 976.8,1069.7 977.6,1069.1 978.4,1068.5 979.2,1067.9 980.0,1067.3 980.8,1066.7 981.6,1066.0 982.4,1065.4 983.2,1064.7 984.0,1064.1 984.8,1063.4 985.6,1062.7 986.4,1062.0 987.2,1061.3 988.0,1060.6 988.8,1059.8 989.6,1059.1 990.5,1058.4 991.3,1057.6 992.1,1056.8 992.9,1056.1 993.7,1055.3 994.5,1054.5 995.3,1053.7 996.1,1052.8 996.9,1052.0 997.7,1051.2 998.5,1050.3 999.3,1049.5 1000.1,1048.6 1000.9,1047.7 1001.7,1046.8 1002.5,1045.9 1003.3,1045.0 1004.1,1044.1 1004.9,1043.2 1005.7,1042.2 1006.5,1041.3 1007.3,1040.3 1008.1,1039.3 1008.9,1038.4 1009.7,1037.4 1010.6,1036.4 1011.4,1035.4 1012.2,1034.4 1013.0,1033.3 1013.8,1032.3 1014.6,1031.2 1015.4,1030.2 1016.2,1029.1 1017.0,1028.1 1017.8,1027.0 1018.6,1025.9 1019.4,1024.8 1020.2,1023.7 1021.0,1022.5 1021.8,1021.4 1022.6,1020.3 1023.4,1019.1 1024.2,1018.0 1025.0,1016.8 1025.8,1015.6 1026.6,1014.4 1027.4,1013.2 1028.2,1012.0 1029.0,1010.8 1029.8,1009.6 1030.7,1008.4 1031.5,1007.1 1032.3,1005.9 1033.1,1004.6 1033.9,1003.3 1034.7,1002.1 1035.5,1000.8 1036.3,999.5 1037.1,998.2 1037.9,996.9 1038.7,995.6 1039.5,994.2 1040.3,992.9 1041.1,991.5 1041.9,990.2 1042.7,988.8 1043.5,987.4 1044.3,986.1 1045.1,984.7 1045.9,983.3 1046.7,981.9 1047.5,980.5 1048.3,979.0 1049.1,977.6 1049.9,976.2 1050.8,974.7 1051.6,973.3 1052.4,971.8 1053.2,970.3 1054.0,968.9 1054.8,967.4 1055.6,965.9 1056.4,964.4 1057.2,962.9 1058.0,961.3 1058.8,959.8 1059.6,958.3 1060.4,956.7 1061.2,955.2 1062.0,953.6 1062.8,952.1 1063.6,950.5 1064.4,948.9 1065.2,947.3 1066.0,945.7 1066.8,944.1 1067.6,942.5 1068.4,940.9 1069.2,939.3 1070.0,937.6 1070.9,936.0 1071.7,934.4 1072.5,932.7 1073.3,931.1 1074.1,929.4 1074.9,927.7 1075.7,926.0 1076.5,924.3 1077.3,922.6 1078.1,920.9 1078.9,919.2 1079.7,917.5 1080.5,915.8 1081.3,914.1 1082.1,912.3 1082.9,910.6 1083.7,908.8 1084.5,907.1 1085.3,905.3 1086.1,903.6 1086.9,901.8 1087.7,900.0 1088.5,898.2 1089.3,896.4 1090.1,894.6 1091.0,892.8 1091.8,891.0 1092.6,889.2 1093.4,887.4 1094.2,885.5 1095.0,883.7 1095.8,881.9 1096.6,880.0 1097.4,878.2 1098.2,876.3 1099.0,874.4 1099.8,872.6 1100.6,870.7 1101.4,868.8 1102.2,866.9 1103.0,865.0 1103.8,863.1 1104.6,861.2 1105.4,859.3 1106.2,857.4 1107.0,855.5 1107.8,853.6 1108.6,851.6 1109.4,849.7 1110.2,847.8 1111.1,845.8 1111.9,843.9 1112.7,841.9 1113.5,840.0 1114.3,838.0 1115.1,836.0 1115.9,834.0 1116.7,832.1 1117.5,830.1 1118.3,828.1 1119.1,826.1 1119.9,824.1 1120.7,822.1 1121.5,820.1 1122.3,818.1 1123.1,816.1 1123.9,814.1 1124.7,812.1 1125.5,810.0 1126.3,808.0 1127.1,806.0 1127.9,803.9 1128.7,801.9 1129.5,799.8 1130.3,797.8 1131.2,795.7 1132.0,793.7 1132.8,791.6 1133.6,789.6 1134.4,787.5 1135.2,785.4 1136.0,783.4 1136.8,781.3 1137.6,779.2 1138.4,777.1 1139.2,775.0 1140.0,772.9 1140.8,770.8 1141.6,768.7 1142.4,766.7 1143.2,764.5 1144.0,762.4 1144.8,760.3 1145.6,758.2 1146.4,756.1 1147.2,754.0 1148.0,751.9 1148.8,749.8 1149.6,747.6 1150.4,745.5 1151.3,743.4 1152.1,741.2 1152.9,739.1 1153.7,737.0 1154.5,734.8 1155.3,732.7 1156.1,730.6 1156.9,728.4 1157.7,726.3 1158.5,724.1 1159.3,722.0 1160.1,719.8 1160.9,717.7 1161.7,715.5 1162.5,713.4 1163.3,711.2 1164.1,709.0 1164.9,706.9 1165.7,704.7 1166.5,702.6 1167.3,700.4 1168.1,698.2 1168.9,696.1 1169.7,693.9 1170.5,691.7 1171.4,689.5 1172.2,687.4 1173.0,685.2 1173.8,683.0 1174.6,680.8 1175.4,678.7 1176.2,676.5 1177.0,674.3 1177.8,672.1 1178.6,670.0 1179.4,667.8 1180.2,665.6 1181.0,663.4 1181.8,661.2 1182.6,659.1 1183.4,656.9 1184.2,654.7 1185.0,652.5 1185.8,650.3 1186.6,648.2 1187.4,646.0 1188.2,643.8 1189.0,641.6 1189.8,639.4 1190.6,637.3 1191.5,635.1 1192.3,632.9 1193.1,630.7 1193.9,628.5 1194.7,626.4 1195.5,624.2 1196.3,622.0 1197.1,619.8 1197.9,617.6 1198.7,615.5 1199.5,613.3 1200.3,611.1 1201.1,609.0 1201.9,606.8 1202.7,604.6 1203.5,602.4 1204.3,600.3 1205.1,598.1 1205.9,595.9 1206.7,593.8 1207.5,591.6 1208.3,589.5 1209.1,587.3 1209.9,585.1 1210.7,583.0 1211.6,580.8 1212.4,578.7 1213.2,576.5 1214.0,574.4 1214.8,572.2 1215.6,570.1 1216.4,567.9 1217.2,565.8 1218.0,563.6 1218.8,561.5 1219.6,559.4 1220.4,557.2 1221.2,555.1 1222.0,553.0 1222.8,550.8 1223.6,548.7 1224.4,546.6 1225.2,544.5 1226.0,542.4 1226.8,540.3 1227.6,538.1 1228.4,536.0 1229.2,533.9 1230.0,531.8 1230.8,529.7 1231.7,527.6 1232.5,525.5 1233.3,523.4 1234.1,521.4 1234.9,519.3 1235.7,517.2 1236.5,515.1 1237.3,513.0 1238.1,511.0 1238.9,508.9 1239.7,506.8 1240.5,504.8 1241.3,502.7 1242.1,500.7 1242.9,498.6 1243.7,496.6 1244.5,494.5 1245.3,492.5 1246.1,490.5 1246.9,488.4 1247.7,486.4 1248.5,484.4 1249.3,482.4 1250.1,480.3 1250.9,478.3 1251.8,476.3 1252.6,474.3 1253.4,472.3 1254.2,470.3 1255.0,468.4 1255.8,466.4 1256.6,464.4 1257.4,462.4 1258.2,460.4 1259.0,458.5 1259.8,456.5 1260.6,454.6 1261.4,452.6 1262.2,450.7 1263.0,448.7 1263.8,446.8 1264.6,444.9 1265.4,442.9 1266.2,441.0 1267.0,439.1 1267.8,437.2 1268.6,435.3 1269.4,433.4 1270.2,431.5 1271.0,429.6 1271.9,427.7 1272.7,425.9 1273.5,424.0 1274.3,422.1 1275.1,420.3 1275.9,418.4 1276.7,416.5 1277.5,414.7 1278.3,412.9 1279.1,411.0 1279.9,409.2 1280.7,407.4 1281.5,405.6 1282.3,403.8 1283.1,402.0 1283.9,400.2 1284.7,398.4 1285.5,396.6 1286.3,394.8 1287.1,393.1 1287.9,391.3 1288.7,389.5 1289.5,387.8 1290.3,386.0 1291.1,384.3 1292.0,382.6 1292.8,380.9 1293.6,379.1 1294.4,377.4 1295.2,375.7 1296.0,374.0 1296.8,372.3 1297.6,370.7 1298.4,369.0 1299.2,367.3 1300.0,365.6 1300.8,364.0 1301.6,362.3 1302.4,360.7 1303.2,359.1 1304.0,357.4 1304.8,355.8 1305.6,354.2 1306.4,352.6 1307.2,351.0 1308.0,349.4 1308.8,347.8 1309.6,346.3 1310.4,344.7 1311.2,343.1 1312.1,341.6 1312.9,340.0 1313.7,338.5 1314.5,337.0 1315.3,335.5 1316.1,333.9 1316.9,332.4 1317.7,330.9 1318.5,329.4 1319.3,328.0 1320.1,326.5 1320.9,325.0 1321.7,323.6 1322.5,322.1 1323.3,320.7 1324.1,319.2 1324.9,317.8 1325.7,316.4 1326.5,315.0 1327.3,313.6 1328.1,312.2 1328.9,310.8 1329.7,309.5 1330.5,308.1 1331.3,306.7 1332.2,305.4 1333.0,304.0 1333.8,302.7 1334.6,301.4 1335.4,300.1 1336.2,298.8 1337.0,297.5 1337.8,296.2 1338.6,294.9 1339.4,293.6 1340.2,292.4 1341.0,291.1 1341.8,289.9 1342.6,288.6 1343.4,287.4 1344.2,286.2 1345.0,285.0 1345.8,283.8 1346.6,282.6 1347.4,281.4 1348.2,280.3 1349.0,279.1 1349.8,277.9 1350.6,276.8 1351.4,275.7 1352.3,274.5 1353.1,273.4 1353.9,272.3 1354.7,271.2 1355.5,270.1 1356.3,269.1 1357.1,268.0 1357.9,266.9 1358.7,265.9 1359.5,264.9 1360.3,263.8 1361.1,262.8 1361.9,261.8 1362.7,260.8 1363.5,259.8 1364.3,258.8 1365.1,257.9 1365.9,256.9 1366.7,255.9 1367.5,255.0 1368.3,254.1 1369.1,253.1 1369.9,252.2 1370.7,251.3 1371.5,250.4 1372.4,249.6 1373.2,248.7 1374.0,247.8 1374.8,247.0 1375.6,246.1 1376.4,245.3 1377.2,244.5 1378.0,243.7 1378.8,242.9 1379.6,242.1 1380.4,241.3 1381.2,240.5 1382.0,239.7 1382.8,239.0 1383.6,238.3 1384.4,237.5 1385.2,236.8 1386.0,236.1 1386.8,235.4 1387.6,234.7 1388.4,234.0 1389.2,233.4 1390.0,232.7 1390.8,232.1 1391.6,231.4 1392.5,230.8 1393.3,230.2 1394.1,229.6 1394.9,229.0 1395.7,228.4 1396.5,227.8 1397.3,227.2 1398.1,226.7 1398.9,226.2 1399.7,225.6 1400.5,225.1 1401.3,224.6 1402.1,224.1 1402.9,223.6 1403.7,223.1 1404.5,222.6 1405.3,222.2 1406.1,221.7 1406.9,221.3 1407.7,220.9 1408.5,220.5 1409.3,220.1 1410.1,219.7 1410.9,219.3 1411.7,218.9 1412.6,218.6 1413.4,218.2 1414.2,217.9 1415.0,217.5 1415.8,217.2 1416.6,216.9 1417.4,216.6 1418.2,216.3 1419.0,216.0 1419.8,215.8 1420.6,215.5 1421.4,215.3 1422.2,215.1 1423.0,214.8 1423.8,214.6 1424.6,214.4 1425.4,214.2 1426.2,214.1 1427.0,213.9 1427.8,213.7 1428.6,213.6 1429.4,213.5 1430.2,213.3 1431.0,213.2 1431.8,213.1 1432.7,213.0 1433.5,213.0 1434.3,212.9 1435.1,212.8 1435.9,212.8 1436.7,212.7 1437.5,212.7 1438.3,212.7 1439.1,212.7 1439.9,212.7 1440.7,212.7 1441.5,212.8 1442.3,212.8 1443.1,212.8 1443.9,212.9 1444.7,213.0 1445.5,213.1 1446.3,213.2 1447.1,213.3 1447.9,213.4 1448.7,213.5 1449.5,213.7 1450.3,213.8 1451.1,214.0 1451.9,214.1 1452.8,214.3 1453.6,214.5 1454.4,214.7 1455.2,214.9 1456.0,215.1 1456.8,215.4 1457.6,215.6 1458.4,215.9 1459.2,216.2 1460.0,216.4 1460.8,216.7 1461.6,217.0 1462.4,217.3 1463.2,217.7 1464.0,218.0 1464.8,218.3 1465.6,218.7 1466.4,219.1 1467.2,219.4 1468.0,219.8 1468.8,220.2 1469.6,220.6 1470.4,221.1 1471.2,221.5 1472.0,221.9 1472.9,222.4 1473.7,222.8 1474.5,223.3 1475.3,223.8 1476.1,224.3 1476.9,224.8 1477.7,225.3 1478.5,225.8 1479.3,226.4 1480.1,226.9 1480.9,227.5 1481.7,228.0 1482.5,228.6 1483.3,229.2 1484.1,229.8 1484.9,230.4 1485.7,231.0 1486.5,231.7 1487.3,232.3 1488.1,233.0 1488.9,233.6 1489.7,234.3 1490.5,235.0 1491.3,235.7 1492.1,236.4 1493.0,237.1 1493.8,237.8 1494.6,238.6 1495.4,239.3 1496.2,240.1 1497.0,240.8 1497.8,241.6 1498.6,242.4 1499.4,243.2 1500.2,244.0 1501.0,244.8 1501.8,245.6 1502.6,246.5 1503.4,247.3 1504.2,248.2 1505.0,249.0 1505.8,249.9 1506.6,250.8 1507.4,251.7 1508.2,252.6 1509.0,253.5 1509.8,254.4 1510.6,255.4 1511.4,256.3 1512.2,257.3 1513.1,258.2 1513.9,259.2 1514.7,260.2 1515.5,261.2 1516.3,262.2 1517.1,263.2 1517.9,264.2 1518.7,265.3 1519.5,266.3 1520.3,267.4 1521.1,268.4 1521.9,269.5 1522.7,270.6 1523.5,271.7 1524.3,272.8 1525.1,273.9 1525.9,275.0 1526.7,276.1 1527.5,277.3 1528.3,278.4 1529.1,279.6 1529.9,280.7 1530.7,281.9 1531.5,283.1 1532.3,284.3 1533.2,285.5 1534.0,286.7 1534.8,287.9 1535.6,289.1 1536.4,290.4 1537.2,291.6 1538.0,292.9 1538.8,294.2 1539.6,295.4 1540.4,296.7 1541.2,298.0 1542.0,299.3 1542.8,300.6 1543.6,301.9 1544.4,303.3 1545.2,304.6 1546.0,305.9 1546.8,307.3 1547.6,308.6 1548.4,310.0 1549.2,311.4 1550.0,312.8 1550.8,314.2 1551.6,315.6 1552.4,317.0 1553.3,318.4 1554.1,319.8 1554.9,321.3 1555.7,322.7 1556.5,324.2 1557.3,325.6 1558.1,327.1 1558.9,328.6 1559.7,330.1 1560.5,331.5 1561.3,333.0 1562.1,334.6 1562.9,336.1 1563.7,337.6 1564.5,339.1 1565.3,340.7 1566.1,342.2 1566.9,343.8 1567.7,345.3 1568.5,346.9 1569.3,348.5 1570.1,350.1 1570.9,351.7 1571.7,353.3 1572.5,354.9 1573.4,356.5 1574.2,358.1 1575.0,359.7 1575.8,361.4 1576.6,363.0 1577.4,364.7 1578.2,366.3 1579.0,368.0 1579.8,369.7 1580.6,371.3 1581.4,373.0 1582.2,374.7 1583.0,376.4 1583.8,378.1 1584.6,379.8 1585.4,381.6 1586.2,383.3 1587.0,385.0 1587.8,386.8 1588.6,388.5 1589.4,390.3 1590.2,392.0 1591.0,393.8 1591.8,395.6 1592.6,397.3 1593.5,399.1 1594.3,400.9 1595.1,402.7 1595.9,404.5 1596.7,406.3 1597.5,408.1 1598.3,410.0 1599.1,411.8 1599.9,413.6 1600.7,415.5 1601.5,417.3 1602.3,419.2 1603.1,421.0 1603.9,422.9 1604.7,424.7 1605.5,426.6 1606.3,428.5 1607.1,430.4 1607.9,432.3 1608.7,434.2 1609.5,436.1 1610.3,438.0 1611.1,439.9 1611.9,441.8 1612.7,443.7 1613.6,445.7 1614.4,447.6 1615.2,449.5 1616.0,451.5 1616.8,453.4 1617.6,455.4 1618.4,457.3 1619.2,459.3 1620.0,461.3 1620.8,463.2 1621.6,465.2 1622.4,467.2 1623.2,469.2 1624.0,471.2 1624.8,473.1 1625.6,475.1 1626.4,477.1 1627.2,479.2 1628.0,481.2 1628.8,483.2 1629.6,485.2 1630.4,487.2 1631.2,489.3 1632.0,491.3 1632.8,493.3 1633.7,495.4 1634.5,497.4 1635.3,499.5 1636.1,501.5 1636.9,503.6 1637.7,505.6 1638.5,507.7 1639.3,509.7 1640.1,511.8 1640.9,513.9 1641.7,516.0 1642.5,518.0 1643.3,520.1 1644.1,522.2 1644.9,524.3 1645.7,526.4 1646.5,528.5 1647.3,530.6 1648.1,532.7 1648.9,534.8 1649.7,536.9 1650.5,539.0 1651.3,541.1 1652.1,543.2 1652.9,545.3 1653.8,547.5 1654.6,549.6 1655.4,551.7 1656.2,553.8 1657.0,556.0 1657.8,558.1 1658.6,560.2 1659.4,562.4 1660.2,564.5 1661.0,566.7 1661.8,568.8 1662.6,570.9 1663.4,573.1 1664.2,575.2 1665.0,577.4 1665.8,579.5 1666.6,581.7 1667.4,583.9 1668.2,586.0 1669.0,588.2 1669.8,590.3 1670.6,592.5 1671.4,594.7 1672.2,596.8 1673.0,599.0 1673.9,601.2 1674.7,603.3 1675.5,605.5 1676.3,607.7 1677.1,609.8 1677.9,612.0 1678.7,614.2 1679.5,616.4 1680.3,618.5 1681.1,620.7 1681.9,622.9 1682.7,625.1 1683.5,627.2 1684.3,629.4 1685.1,631.6 1685.9,633.8 1686.7,636.0 1687.5,638.1 1688.3,640.3 1689.1,642.5 1689.9,644.7 1690.7,646.9 1691.5,649.0 1692.3,651.2 1693.1,653.4 1694.0,655.6 1694.8,657.8 1695.6,660.0 1696.4,662.1 1697.2,664.3 1698.0,666.5 1698.8,668.7 1699.6,670.9 1700.4,673.0 1701.2,675.2 1702.0,677.4 1702.8,679.6 1703.6,681.7 1704.4,683.9 1705.2,686.1 1706.0,688.3 1706.8,690.4 1707.6,692.6 1708.4,694.8 1709.2,696.9 1710.0,699.1 1710.8,701.3 1711.6,703.4 1712.4,705.6 1713.2,707.8 1714.1,709.9 1714.9,712.1 1715.7,714.2 1716.5,716.4 1717.3,718.5 1718.1,720.7 1718.9,722.9 1719.7,725.0 1720.5,727.1 1721.3,729.3 1722.1,731.4 1722.9,733.6 1723.7,735.7 1724.5,737.9 1725.3,740.0 1726.1,742.1 1726.9,744.2 1727.7,746.4 1728.5,748.5 1729.3,750.6 1730.1,752.7 1730.9,754.9 1731.7,757.0 1732.5,759.1 1733.3,761.2 1734.2,763.3 1735.0,765.4 1735.8,767.5 1736.6,769.6 1737.4,771.7 1738.2,773.8 1739.0,775.9 1739.8,778.0 1740.6,780.0 1741.4,782.1 1742.2,784.2 1743.0,786.3 1743.8,788.3 1744.6,790.4 1745.4,792.5 1746.2,794.5 1747.0,796.6 1747.8,798.6 1748.6,800.7 1749.4,802.7 1750.2,804.8 1751.0,806.8 1751.8,808.8 1752.6,810.9 1753.4,812.9 1754.3,814.9 1755.1,816.9 1755.9,818.9 1756.7,820.9 1757.5,822.9 1758.3,824.9 1759.1,826.9 1759.9,828.9 1760.7,830.9 1761.5,832.9 1762.3,834.9 1763.1,836.8 1763.9,838.8 1764.7,840.8 1765.5,842.7 1766.3,844.7 1767.1,846.6 1767.9,848.6 1768.7,850.5 1769.5,852.4 1770.3,854.3 1771.1,856.3 1771.9,858.2 1772.7,860.1 1773.5,862.0 1774.4,863.9 1775.2,865.8 1776.0,867.7 1776.8,869.6 1777.6,871.5 1778.4,873.3 1779.2,875.2 1780.0,877.1 1780.8,878.9 1781.6,880.8 1782.4,882.6 1783.2,884.4 1784.0,886.3" stroke="#00ffff" stroke-dasharray="26.50 27.40" stroke-dashoffset="13.70"/>
<path d="M176.0,649.0 176.3,648.1 176.6,647.2 177.0,646.3 177.3,645.5 177.6,644.6 177.9,643.7 178.3,642.8 178.6,642.0 178.9,641.1 179.2,640.2 179.5,639.4 179.9,638.5 180.2,637.6 180.5,636.7 180.8,635.9 181.1,635.0 181.5,634.1 181.8,633.2 182.1,632.4 182.4,631.5 182.8,630.6 183.1,629.8 183.4,628.9 183.7,628.0 184.0,627.1 184.4,626.3 184.7,625.4 185.0,624.5 185.3,623.7 185.6,622.8 186.0,621.9 186.3,621.0 186.6,620.2 186.9,619.3 187.3,618.4 187.6,617.6 187.9,616.7 188.2,615.8 188.5,615.0 188.9,614.1 189.2,613.2 189.5,612.3 189.8,611.5 190.2,610.6 190.5,609.7 190.8,608.9 191.1,608.0 191.4,607.1 191.8,606.3 192.1,605.4 192.4,604.5 192.7,603.7 193.0,602.8 193.4,601.9 193.7,601.1 194.0,600.2 194.3,599.3 194.7,598.5 195.0,597.6 195.3,596.7 195.6,595.9 195.9,595.0 196.3,594.1 196.6,593.3 196.9,592.4 197.2,591.5 197.5,590.7 197.9,589.8 198.2,588.9 198.5,588.1 198.8,587.2 199.2,586.3 199.5,585.5 199.8,584.6 200.1,583.8 200.4,582.9 200.8,582.0 201.1,581.2 201.4,580.3 201.7,579.4 202.0,578.6 202.4,577.7 202.7,576.9 203.0,576.0 203.3,575.1 203.7,574.3 204.0,573.4 204.3,572.6 204.6,571.7 204.9,570.8 205.3,570.0 205.6,569.1 205.9,568.3 206.2,567.4 206.6,566.6 206.9,565.7 207.2,564.8 207.5,564.0 207.8,563.1 208.2,562.3 208.5,561.4 208.8,560.6 209.1,559.7 209.4,558.9 209.8,558.0 210.1,557.2 210.4,556.3 210.7,555.5 211.1,554.6 211.4,553.7 211.7,552.9 212.0,552.0 212.3,551.2 212.7,550.3 213.0,549.5 213.3,548.6 213.6,547.8 213.9,546.9 214.3,546.1 214.6,545.3 214.9,544.4 215.2,543.6 215.6,542.7 215.9,541.9 216.2,541.0 216.5,540.2 216.8,539.3 217.2,538.5 217.5,537.6 217.8,536.8 218.1,536.0 218.5,535.1 218.8,534.3 219.1,533.4 219.4,532.6 219.7,531.7 220.1,530.9 220.4,530.1 220.7,529.2 221.0,528.4 221.3,527.6 221.7,526.7 222.0,525.9 222.3,525.0 222.6,524.2 223.0,523.4 223.3,522.5 223.6,521.7 223.9,520.9 224.2,520.0 224.6,519.2 224.9,518.4 225.2,517.5 225.5,516.7 225.8,515.9 226.2,515.0 226.5,514.2 226.8,513.4 227.1,512.5 227.5,511.7 227.8,510.9 228.1,510.1 228.4,509.2 228.7,508.4 229.1,507.6 229.4,506.8 229.7,505.9 230.0,505.1 230.4,504.3 230.7,503.5 231.0,502.6 231.3,501.8 231.6,501.0 232.0,500.2 232.3,499.4 232.6,498.5 232.9,497.7 233.2,496.9 233.6,496.1 233.9,495.3 234.2,494.5 234.5,493.6 234.9,492.8 235.2,492.0 235.5,491.2 235.8,490.4 236.1,489.6 236.5,488.8 236.8,487.9 237.1,487.1 237.4,486.3 237.7,485.5 238.1,484.7 238.4,483.9 238.7,483.1 239.0,482.3 239.4,481.5 239.7,480.7 240.0,479.9 240.3,479.1 240.6,478.3 241.0,477.5 241.3,476.7 241.6,475.9 241.9,475.1 242.2,474.3 242.6,473.5 242.9,472.7 243.2,471.9 243.5,471.1 243.9,470.3 244.2,469.5 244.5,468.7 244.8,467.9 245.1,467.1 245.5,466.3 245.8,465.5 246.1,464.7 246.4,463.9 246.8,463.1 247.1,462.3 247.4,461.6 247.7,460.8 248.0,460.0 248.4,459.2 248.7,458.4 249.0,457.6 249.3,456.8 249.6,456.1 250.0,455.3 250.3,454.5 250.6,453.7 250.9,452.9 251.3,452.2 251.6,451.4 251.9,450.6 252.2,449.8 252.5,449.0 252.9,448.3 253.2,447.5 253.5,446.7 253.8,446.0 254.1,445.2 254.5,444.4 254.8,443.6 255.1,442.9 255.4,442.1 255.8,441.3 256.1,440.6 256.4,439.8 256.7,439.0 257.0,438.3 257.4,437.5 257.7,436.7 258.0,436.0 258.3,435.2 258.7,434.5 259.0,433.7 259.3,432.9 259.6,432.2 259.9,431.4 260.3,430.7 260.6,429.9 260.9,429.2 261.2,428.4 261.5,427.7 261.9,426.9 262.2,426.2 262.5,425.4 262.8,424.7 263.2,423.9 263.5,423.2 263.8,422.4 264.1,421.7 264.4,420.9 264.8,420.2 265.1,419.4 265.4,418.7 265.7,418.0 266.0,417.2 266.4,416.5 266.7,415.7 267.0,415.0 267.3,414.3 267.7,413.5 268.0,412.8 268.3,412.1 268.7,411.2 269.1,410.2 269.5,409.3 269.9,408.4 270.3,407.5 270.7,406.6 271.1,405.7 271.5,404.8 271.9,403.9 272.3,403.0 273.3,400.8 274.1,399.0 274.9,397.3 275.7,395.5 276.5,393.7 277.3,391.9 278.1,390.2 278.9,388.4 279.7,386.7 280.5,384.9 281.3,383.2 282.1,381.5 282.9,379.8 283.7,378.0 284.5,376.3 285.3,374.6 286.1,372.9 287.0,371.3 287.8,369.6 288.6,367.9 289.4,366.2 290.2,364.6 291.0,362.9 291.8,361.3 292.6,359.7 293.4,358.0 294.2,356.4 295.0,354.8 295.8,353.2 296.6,351.6 297.4,350.0 298.2,348.4 299.0,346.8 299.8,345.3 300.6,343.7 301.4,342.1 302.2,340.6 303.0,339.1 303.8,337.5 304.6,336.0 305.4,334.5 306.2,333.0 307.1,331.5 307.9,330.0 308.7,328.5 309.5,327.0 310.3,325.6 311.1,324.1 311.9,322.6 312.7,321.2 313.5,319.8 314.3,318.3 315.1,316.9 315.9,315.5 316.7,314.1 317.5,312.7 318.3,311.3 319.1,310.0 319.9,308.6 320.7,307.2 321.5,305.9 322.3,304.5 323.1,303.2 323.9,301.9 324.7,300.6 325.5,299.2 326.3,297.9 327.2,296.7 328.0,295.4 328.8,294.1 329.6,292.8 330.4,291.6 331.2,290.3 332.0,289.1 332.8,287.9 333.6,286.6 334.4,285.4 335.2,284.2 336.0,283.0 336.8,281.9 337.6,280.7 338.4,279.5 339.2,278.4 340.0,277.2 340.8,276.1 341.6,275.0 342.4,273.8 343.2,272.7 344.0,271.6 344.8,270.5 345.6,269.5 346.4,268.4 347.3,267.3 348.1,266.3 348.9,265.2 349.7,264.2 350.5,263.2 351.3,262.2 352.1,261.2 352.9,260.2 353.7,259.2 354.5,258.2 355.3,257.2 356.1,256.3 356.9,255.3 357.7,254.4 358.5,253.5 359.3,252.6 360.1,251.7 360.9,250.8 361.7,249.9 362.5,249.0 363.3,248.1 364.1,247.3 364.9,246.4 365.7,245.6 366.5,244.8 367.4,243.9 368.2,243.1 369.0,242.3 369.8,241.6 370.6,240.8 371.4,240.0 372.2,239.3 373.0,238.5 373.8,237.8 374.6,237.1 375.4,236.4 376.2,235.6 377.0,235.0 377.8,234.3 378.6,233.6 379.4,232.9 380.2,232.3 381.0,231.6 381.8,231.0 382.6,230.4 383.4,229.8 384.2,229.2 385.0,228.6 385.8,228.0 386.6,227.5 387.5,226.9 388.3,226.3 389.1,225.8 389.9,225.3 390.7,224.8 391.5,224.3 392.3,223.8 393.1,223.3 393.9,222.8 394.7,222.4 395.5,221.9 396.3,221.5 397.1,221.0 397.9,220.6 398.7,220.2 399.5,219.8 400.3,219.4 401.1,219.0 401.9,218.7 402.7,218.3 403.5,218.0 404.3,217.7 405.1,217.3 405.9,217.0 406.7,216.7 407.6,216.4 408.4,216.1 409.2,215.9 410.0,215.6 410.8,215.4 411.6,215.1 412.4,214.9 413.2,214.7 414.0,214.5 414.8,214.3 415.6,214.1 416.4,214.0 417.2,213.8 418.0,213.6 418.8,213.5 419.6,213.4 420.4,213.3 421.2,213.2 422.0,213.1 422.8,213.0 423.6,212.9 424.4,212.8 425.2,212.8 426.0,212.8 426.8,212.7 427.7,212.7 428.5,212.7 429.3,212.7 430.1,212.7 430.9,212.7 431.7,212.8 432.5,212.8 433.3,212.9 434.1,213.0 434.9,213.0 435.7,213.1 436.5,213.2 437.3,213.3 438.1,213.5 438.9,213.6 439.7,213.7 440.5,213.9 441.3,214.1 442.1,214.2 442.9,214.4 443.7,214.6 444.5,214.8 445.3,215.1 446.1,215.3 446.9,215.5 447.8,215.8 448.6,216.1 449.4,216.3 450.2,216.6 451.0,216.9 451.8,217.2 452.6,217.5 453.4,217.9 454.2,218.2 455.0,218.6 455.8,218.9 456.6,219.3 457.4,219.7 458.2,220.1 459.0,220.5 459.8,220.9 460.6,221.3 461.4,221.8 462.2,222.2 463.0,222.7 463.8,223.1 464.6,223.6 465.4,224.1 466.2,224.6 467.0,225.1 467.9,225.6 468.7,226.2 469.5,226.7 470.3,227.3 471.1,227.8 471.9,228.4 472.7,229.0 473.5,229.6 474.3,230.2 475.1,230.8 475.9,231.4 476.7,232.1 477.5,232.7 478.3,233.4 479.1,234.1 479.9,234.7 480.7,235.4 481.5,236.1 482.3,236.8 483.1,237.6 483.9,238.3 484.7,239.0 485.5,239.8 486.3,240.5 487.1,241.3 488.0,242.1 488.8,242.9 489.6,243.7 490.4,244.5 491.2,245.3 492.0,246.2 492.8,247.0 493.6,247.9 494.4,248.7 495.2,249.6 496.0,250.5 496.8,251.4 497.6,252.3 498.4,253.2 499.2,254.1 500.0,255.0 500.8,256.0 501.6,256.9 502.4,257.9 503.2,258.9 504.0,259.8 504.8,260.8 505.6,261.8 506.4,262.8 507.2,263.9 508.1,264.9 508.9,265.9 509.7,267.0 510.5,268.0 511.3,269.1 512.1,270.2 512.9,271.3 513.7,272.4 514.5,273.5 515.3,274.6 516.1,275.7 516.9,276.9 517.7,278.0 518.5,279.2 519.3,280.3 520.1,281.5 520.9,282.7 521.7,283.9 522.5,285.1 523.3,286.3 524.1,287.5 524.9,288.7 525.7,289.9 526.5,291.2 527.3,292.4 528.2,293.7 529.0,295.0 529.8,296.2 530.6,297.5 531.4,298.8 532.2,300.1 533.0,301.4 533.8,302.8 534.6,304.1 535.4,305.4 536.2,306.8 537.0,308.1 537.8,309.5 538.6,310.9 539.4,312.3 540.2,313.7 541.0,315.1 541.8,316.5 542.6,317.9 543.4,319.3 544.2,320.7 545.0,322.2 545.8,323.6 546.6,325.1 547.4,326.6 548.3,328.0 549.1,329.5 549.9,331.0 550.7,332.5 551.5,334.0 552.3,335.5 553.1,337.0 553.9,338.6 554.7,340.1 555.5,341.7 556.3,343.2 557.1,344.8 557.9,346.3 558.7,347.9 559.5,349.5 560.3,351.1 561.1,352.7 561.9,354.3 562.7,355.9 563.5,357.5 564.3,359.1 565.1,360.8 565.9,362.4 566.7,364.1 567.5,365.7 568.4,367.4 569.2,369.0 570.0,370.7 570.8,372.4 571.6,374.1 572.4,375.8 573.2,377.5 574.0,379.2 574.8,380.9 575.6,382.7 576.4,384.4 577.2,386.1 578.0,387.9 578.8,389.6 579.6,391.4 580.4,393.1 581.2,394.9 582.0,396.7 582.8,398.5 583.6,400.3 584.4,402.1 585.2,403.9 586.0,405.7 586.8,407.5 587.6,409.3 588.5,411.1 589.3,413.0 590.1,414.8 590.9,416.6 591.7,418.5 592.5,420.3 593.3,422.2 594.1,424.1 594.9,425.9 595.7,427.8 596.5,429.7 597.3,431.6 598.1,433.5 598.9,435.4 599.7,437.3 600.5,439.2 601.3,441.1 602.1,443.0 602.9,445.0 603.7,446.9 604.5,448.8 605.3,450.8 606.1,452.7 606.9,454.7 607.7,456.6 608.6,458.6 609.4,460.5 610.2,462.5 611.0,464.5 611.8,466.5 612.6,468.4 613.4,470.4 614.2,472.4 615.0,474.4 615.8,476.4 616.6,478.4 617.4,480.4 618.2,482.5 619.0,484.5 619.8,486.5 620.6,488.5 621.4,490.5 622.2,492.6 623.0,494.6 623.8,496.7 624.6,498.7 625.4,500.8 626.2,502.8 627.0,504.9 627.8,506.9 628.7,509.0 629.5,511.1 630.3,513.1 631.1,515.2 631.9,517.3 632.7,519.4 633.5,521.5 634.3,523.5 635.1,525.6 635.9,527.7 636.7,529.8 637.5,531.9 638.3,534.0 639.1,536.1 639.9,538.2 640.7,540.3 641.5,542.5 642.3,544.6 643.1,546.7 643.9,548.8 644.7,550.9 645.5,553.1 646.3,555.2 647.1,557.3 647.9,559.5 648.8,561.6 649.6,563.7 650.4,565.9 651.2,568.0 652.0,570.2 652.8,572.3 653.6,574.5 654.4,576.6 655.2,578.8 656.0,580.9 656.8,583.1 657.6,585.2 658.4,587.4 659.2,589.5 660.0,591.7 660.8,593.9 661.6,596.0 662.4,598.2 663.2,600.4 664.0,602.5 664.8,604.7 665.6,606.9 666.4,609.0 667.2,611.2 668.0,613.4 668.9,615.6 669.7,617.7 670.5,619.9 671.3,622.1 672.1,624.3 672.9,626.5 673.7,628.6 674.5,630.8 675.3,633.0 676.1,635.2 676.9,637.4 677.7,639.5 678.5,641.7 679.3,643.9 680.1,646.1 680.9,648.3 681.7,650.4 682.5,652.6 683.3,654.8 684.1,657.0 684.9,659.2 685.7,661.3 686.5,663.5 687.3,665.7 688.1,667.9 689.0,670.1 689.8,672.2 690.6,674.4 691.4,676.6 692.2,678.8 693.0,680.9 693.8,683.1 694.6,685.3 695.4,687.5 696.2,689.6 697.0,691.8 697.8,694.0 698.6,696.2 699.4,698.3 700.2,700.5 701.0,702.6 701.8,704.8 702.6,707.0 703.4,709.1 704.2,711.3 705.0,713.5 705.8,715.6 706.6,717.8 707.4,719.9 708.2,722.1 709.1,724.2 709.9,726.4 710.7,728.5 711.5,730.7 712.3,732.8 713.1,734.9 713.9,737.1 714.7,739.2 715.5,741.3 716.3,743.5 717.1,745.6 717.9,747.7 718.7,749.9 719.5,752.0 720.3,754.1 721.1,756.2 721.9,758.3 722.7,760.4 723.5,762.5 724.3,764.6 725.1,766.7 725.9,768.8 726.7,770.9 727.5,773.0 728.3,775.1 729.2,777.2 730.0,779.3 730.8,781.4 731.6,783.4 732.4,785.5 733.2,787.6 734.0,789.7 734.8,791.7 735.6,793.8 736.4,795.8 737.2,797.9 738.0,799.9 738.8,802.0 739.6,804.0 740.4,806.1 741.2,808.1 742.0,810.1 742.8,812.1 743.6,814.2 744.4,816.2 745.2,818.2 746.0,820.2 746.8,822.2 747.6,824.2 748.4,826.2 749.3,828.2 750.1,830.2 750.9,832.2 751.7,834.1 752.5,836.1 753.3,838.1 754.1,840.0 754.9,842.0 755.7,844.0 756.5,845.9 757.3,847.8 758.1,849.8 758.9,851.7 759.7,853.6 760.5,855.6 761.3,857.5 762.1,859.4 762.9,861.3 763.7,863.2 764.5,865.1 765.3,867.0 766.1,868.9 766.9,870.8 767.7,872.6 768.5,874.5 769.4,876.4 770.2,878.2 771.0,880.1 771.8,881.9 772.6,883.8 773.4,885.6 774.2,887.4 775.0,889.3 775.8,891.1 776.6,892.9 777.4,894.7 778.2,896.5 779.0,898.3 779.8,900.1 780.6,901.9 781.4,903.6 782.2,905.4 783.0,907.2 783.8,908.9 784.6,910.7 785.4,912.4 786.2,914.1 787.0,915.9 787.8,917.6 788.6,919.3 789.5,921.0 790.3,922.7 791.1,924.4 791.9,926.1 792.7,927.8 793.5,929.5 794.3,931.1 795.1,932.8 795.9,934.4 796.7,936.1 797.5,937.7 798.3,939.4 799.1,941.0 799.9,942.6 800.7,944.2 801.5,945.8 802.3,947.4 803.1,949.0 803.9,950.6 804.7,952.1 805.5,953.7 806.3,955.3 807.1,956.8 807.9,958.4 808.7,959.9 809.6,961.4 810.4,962.9 811.2,964.4 812.0,965.9 812.8,967.4 813.6,968.9 814.4,970.4 815.2,971.9 816.0,973.3 816.8,974.8 817.6,976.2 818.4,977.7 819.2,979.1 820.0,980.5 820.8,981.9 821.6,983.3 822.4,984.7 823.2,986.1 824.0,987.5 824.8,988.9 825.6,990.2 826.4,991.6 827.2,992.9 828.0,994.3 828.8,995.6 829.7,996.9 830.5,998.2 831.3,999.5 832.1,1000.8 832.9,1002.1 833.7,1003.4 834.5,1004.7 835.3,1005.9 836.1,1007.2 836.9,1008.4 837.7,1009.6 838.5,1010.9 839.3,1012.1 840.1,1013.3 840.9,1014.5 841.7,1015.7 842.5,1016.8 843.3,1018.0 844.1,1019.2 844.9,1020.3 845.7,1021.5 846.5,1022.6 847.3,1023.7 848.1,1024.8 848.9,1025.9 849.8,1027.0 850.6,1028.1 851.4,1029.2 852.2,1030.2 853.0,1031.3 853.8,1032.3 854.6,1033.4 855.4,1034.4 856.2,1035.4 857.0,1036.4 857.8,1037.4 858.6,1038.4 859.4,1039.4 860.2,1040.4 861.0,1041.3 861.8,1042.3 862.6,1043.2 863.4,1044.1 864.2,1045.1 865.0,1046.0 865.8,1046.9 866.6,1047.7 867.4,1048.6 868.2,1049.5 869.0,1050.4 869.9,1051.2 870.7,1052.0 871.5,1052.9 872.3,1053.7 873.1,1054.5 873.9,1055.3 874.7,1056.1 875.5,1056.9 876.3,1057.6 877.1,1058.4 877.9,1059.1 878.7,1059.9 879.5,1060.6 880.3,1061.3 881.1,1062.0 881.9,1062.7 882.7,1063.4 883.5,1064.1 884.3,1064.8 885.1,1065.4 885.9,1066.1 886.7,1066.7 887.5,1067.3 888.3,1067.9 889.1,1068.5 890.0,1069.1 890.8,1069.7 891.6,1070.3 892.4,1070.8 893.2,1071.4 894.0,1071.9 894.8,1072.4 895.6,1073.0 896.4,1073.5 897.2,1074.0 898.0,1074.5 898.8,1074.9 899.6,1075.4 900.4,1075.9 901.2,1076.3 902.0,1076.7 902.8,1077.2 903.6,1077.6 904.4,1078.0 905.2,1078.4 906.0,1078.7 906.8,1079.1 907.6,1079.5 908.4,1079.8 909.2,1080.1 910.1,1080.5 910.9,1080.8 911.7,1081.1 912.5,1081.4 913.3,1081.7 914.1,1081.9 914.9,1082.2 915.7,1082.4 916.5,1082.7 917.3,1082.9 918.1,1083.1 918.9,1083.3 919.7,1083.5 920.5,1083.7 921.3,1083.9 922.1,1084.1 922.9,1084.2 923.7,1084.4 924.5,1084.5 925.3,1084.6 926.1,1084.7 926.9,1084.8 927.7,1084.9 928.5,1085.0 929.3,1085.0 930.2,1085.1 931.0,1085.1 931.8,1085.2 932.6,1085.2 933.4,1085.2 934.2,1085.2 935.0,1085.2 935.8,1085.2 936.6,1085.1 937.4,1085.1 938.2,1085.0 939.0,1085.0 939.8,1084.9 940.6,1084.8 941.4,1084.7 942.2,1084.6 943.0,1084.5 943.8,1084.3 944.6,1084.2 945.4,1084.1 946.2,1083.9 947.0,1083.7 947.8,1083.5 948.6,1083.3 949.4,1083.1 950.3,1082.9 951.1,1082.7 951.9,1082.4 952.7,1082.2 953.5,1081.9 954.3,1081.7 955.1,1081.4 955.9,1081.1 956.7,1080.8 957.5,1080.5 958.3,1080.1 959.1,1079.8 959.9,1079.4 960.7,1079.1 961.5,1078.7 962.3,1078.3 963.1,1077.9 963.9,1077.5 964.7,1077.1 965.5,1076.7 966.3,1076.3 967.1,1075.8 967.9,1075.4 968.7,1074.9 969.5,1074.4 970.4,1073.9 971.2,1073.5 972.0,1072.9 972.8,1072.4 973.6,1071.9 974.4,1071.4 975.2,1070.8 976.0,1070.2 976.8,1069.7 977.6,1069.1 978.4,1068.5 979.2,1067.9 980.0,1067.3 980.8,1066.7 981.6,1066.0 982.4,1065.4 983.2,1064.7 984.0,1064.1 984.8,1063.4 985.6,1062.7 986.4,1062.0 987.2,1061.3 988.0,1060.6 988.8,1059.8 989.6,1059.1 990.5,1058.4 991.3,1057.6 992.1,1056.8 992.9,1056.1 993.7,1055.3 994.5,1054.5 995.3,1053.7 996.1,1052.8 996.9,1052.0 997.7,1051.2 998.5,1050.3 999.3,1049.5 1000.1,1048.6 1000.9,1047.7 1001.7,1046.8 1002.5,1045.9 1003.3,1045.0 1004.1,1044.1 1004.9,1043.2 1005.7,1042.2 1006.5,1041.3 1007.3,1040.3 1008.1,1039.3 1008.9,1038.4 1009.7,1037.4 1010.6,1036.4 1011.4,1035.4 1012.2,1034.4 1013.0,1033.3 1013.8,1032.3 1014.6,1031.2 1015.4,1030.2 1016.2,1029.1 1017.0,1028.1 1017.8,1027.0 1018.6,1025.9 1019.4,1024.8 1020.2,1023.7 1021.0,1022.5 1021.8,1021.4 1022.6,1020.3 1023.4,1019.1 1024.2,1018.0 1025.0,1016.8 1025.8,1015.6 1026.6,1014.4 1027.4,1013.2 1028.2,1012.0 1029.0,1010.8 1029.8,1009.6 1030.7,1008.4 1031.5,1007.1 1032.3,1005.9 1033.1,1004.6 1033.9,1003.3 1034.7,1002.1 1035.5,1000.8 1036.3,999.5 1037.1,998.2 1037.9,996.9 1038.7,995.6 1039.5,994.2 1040.3,992.9 1041.1,991.5 1041.9,990.2 1042.7,988.8 1043.5,987.4 1044.3,986.1 1045.1,984.7 1045.9,983.3 1046.7,981.9 1047.5,980.5 1048.3,979.0 1049.1,977.6 1049.9,976.2 1050.8,974.7 1051.6,973.3 1052.4,971.8 1053.2,970.3 1054.0,968.9 1054.8,967.4 1055.6,965.9 1056.4,964.4 1057.2,962.9 1058.0,961.3 1058.8,959.8 1059.6,958.3 1060.4,956.7 1061.2,955.2 1062.0,953.6 1062.8,952.1 1063.6,950.5 1064.4,948.9 1065.2,947.3 1066.0,945.7 1066.8,944.1 1067.6,942.5 1068.4,940.9 1069.2,939.3 1070.0,937.6 1070.9,936.0 1071.7,934.4 1072.5,932.7 1073.3,931.1 1074.1,929.4 1074.9,927.7 1075.7,926.0 1076.5,924.3 1077.3,922.6 1078.1,920.9 1078.9,919.2 1079.7,917.5 1080.5,915.8 1081.3,914.1 1082.1,912.3 1082.9,910.6 1083.7,908.8 1084.5,907.1 1085.3,905.3 1086.1,903.6 1086.9,901.8 1087.7,900.0 1088.5,898.2 1089.3,896.4 1090.1,894.6 1091.0,892.8 1091.8,891.0 1092.6,889.2 1093.4,887.4 1094.2,885.5 1095.0,883.7 1095.8,881.9 1096.6,880.0 1097.4,878.2 1098.2,876.3 1099.0,874.4 1099.8,872.6 1100.6,870.7 1101.4,868.8 1102.2,866.9 1103.0,865.0 1103.8,863.1 1104.6,861.2 1105.4,859.3 1106.2,857.4 1107.0,855.5 1107.8,853.6 1108.6,851.6 1109.4,849.7 1110.2,847.8 1111.1,845.8 1111.9,843.9 1112.7,841.9 1113.5,840.0 1114.3,838.0 1115.1,836.0 1115.9,834.0 1116.7,832.1 1117.5,830.1 1118.3,828.1 1119.1,826.1 1119.9,824.1 1120.7,822.1 1121.5,820.1 1122.3,818.1 1123.1,816.1 1123.9,814.1 1124.7,812.1 1125.5,810.0 1126.3,808.0 1127.1,806.0 1127.9,803.9 1128.7,801.9 1129.5,799.8 1130.3,797.8 1131.2,795.7 1132.0,793.7 1132.8,791.6 1133.6,789.6 1134.4,787.5 1135.2,785.4 1136.0,783.4 1136.8,781.3 1137.6,779.2 1138.4,777.1 1139.2,775.0 1140.0,772.9 1140.8,770.8 1141.6,768.7 1142.4,766.7 1143.2,764.5 1144.0,762.4 1144.8,760.3 1145.6,758.2 1146.4,756.1 1147.2,754.0 1148.0,751.9 1148.8,749.8 1149.6,747.6 1150.4,745.5 1151.3,743.4 1152.1,741.2 1152.9,739.1 1153.7,737.0 1154.5,734.8 1155.3,732.7 1156.1,730.6 1156.9,728.4 1157.7,726.3 1158.5,724.1 1159.3,722.0 1160.1,719.8 1160.9,717.7 1161.7,715.5 1162.5,713.4 1163.3,711.2 1164.1,709.0 1164.9,706.9 1165.7,704.7 1166.5,702.6 1167.3,700.4 1168.1,698.2 1168.9,696.1 1169.7,693.9 1170.5,691.7 1171.4,689.5 1172.2,687.4 1173.0,685.2 1173.8,683.0 1174.6,680.8 1175.4,678.7 1176.2,676.5 1177.0,674.3 1177.8,672.1 1178.6,670.0 1179.4,667.8 1180.2,665.6 1181.0,663.4 1181.8,661.2 1182.6,659.1 1183.4,656.9 1184.2,654.7 1185.0,652.5 1185.8,650.3 1186.6,648.2 1187.4,646.0 1188.2,643.8 1189.0,641.6 1189.8,639.4 1190.6,637.3 1191.5,635.1 1192.3,632.9 1193.1,630.7 1193.9,628.5 1194.7,626.4 1195.5,624.2 1196.3,622.0 1197.1,619.8 1197.9,617.6 1198.7,615.5 1199.5,613.3 1200.3,611.1 1201.1,609.0 1201.9,606.8 1202.7,604.6 1203.5,602.4 1204.3,600.3 1205.1,598.1 1205.9,595.9 1206.7,593.8 1207.5,591.6 1208.3,589.5 1209.1,587.3 1209.9,585.1 1210.7,583.0 1211.6,580.8 1212.4,578.7 1213.2,576.5 1214.0,574.4 1214.8,572.2 1215.6,570.1 1216.4,567.9 1217.2,565.8 1218.0,563.6 1218.8,561.5 1219.6,559.4 1220.4,557.2 1221.2,555.1 1222.0,553.0 1222.8,550.8 1223.6,548.7 1224.4,546.6 1225.2,544.5 1226.0,542.4 1226.8,540.3 1227.6,538.1 1228.4,536.0 1229.2,533.9 1230.0,531.8 1230.8,529.7 1231.7,527.6 1232.5,525.5 1233.3,523.4 1234.1,521.4 1234.9,519.3 1235.7,517.2 1236.5,515.1 1237.3,513.0 1238.1,511.0 1238.9,508.9 1239.7,506.8 1240.5,504.8 1241.3,502.7 1242.1,500.7 1242.9,498.6 1243.7,496.6 1244.5,494.5 1245.3,492.5 1246.1,490.5 1246.9,488.4 1247.7,486.4 1248.5,484.4 1249.3,482.4 1250.1,480.3 1250.9,478.3 1251.8,476.3 1252.6,474.3 1253.4,472.3 1254.2,470.3 1255.0,468.4 1255.8,466.4 1256.6,464.4 1257.4,462.4 1258.2,460.4 1259.0,458.5 1259.8,456.5 1260.6,454.6 1261.4,452.6 1262.2,450.7 1263.0,448.7 1263.8,446.8 1264.6,444.9 1265.4,442.9 1266.2,441.0 1267.0,439.1 1267.8,437.2 1268.6,435.3 1269.4,433.4 1270.2,431.5 1271.0,429.6 1271.9,427.7 1272.7,425.9 1273.5,424.0 1274.3,422.1 1275.1,420.3 1275.9,418.4 1276.7,416.5 1277.5,414.7 1278.3,412.9 1279.1,411.0 1279.9,409.2 1280.7,407.4 1281.5,405.6 1282.3,403.8 1283.1,402.0 1283.9,400.2 1284.7,398.4 1285.5,396.6 1286.3,394.8 1287.1,393.1 1287.9,391.3 1288.7,389.5 1289.5,387.8 1290.3,386.0 1291.1,384.3 1292.0,382.6 1292.8,380.9 1293.6,379.1 1294.4,377.4 1295.2,375.7 1296.0,374.0 1296.8,372.3 1297.6,370.7 1298.4,369.0 1299.2,367.3 1300.0,365.6 1300.8,364.0 1301.6,362.3 1302.4,360.7 1303.2,359.1 1304.0,357.4 1304.8,355.8 1305.6,354.2 1306.4,352.6 1307.2,351.0 1308.0,349.4 1308.8,347.8 1309.6,346.3 1310.4,344.7 1311.2,343.1 1312.1,341.6 1312.9,340.0 1313.7,338.5 1314.5,337.0 1315.3,335.5 1316.1,333.9 1316.9,332.4 1317.7,330.9 1318.5,329.4 1319.3,328.0 1320.1,326.5 1320.9,325.0 1321.7,323.6 1322.5,322.1 1323.3,320.7 1324.1,319.2 1324.9,317.8 1325.7,316.4 1326.5,315.0 1327.3,313.6 1328.1,312.2 1328.9,310.8 1329.7,309.5 1330.5,308.1 1331.3,306.7 1332.2,305.4 1333.0,304.0 1333.8,302.7 1334.6,301.4 1335.4,300.1 1336.2,298.8 1337.0,297.5 1337.8,296.2 1338.6,294.9 1339.4,293.6 1340.2,292.4 1341.0,291.1 1341.8,289.9 1342.6,288.6 1343.4,287.4 1344.2,286.2 1345.0,285.0 1345.8,283.8 1346.6,282.6 1347.4,281.4 1348.2,280.3 1349.0,279.1 1349.8,277.9 1350.6,276.8 1351.4,275.7 1352.3,274.5 1353.1,273.4 1353.9,272.3 1354.7,271.2 1355.5,270.1 1356.3,269.1 1357.1,268.0 1357.9,266.9 1358.7,265.9 1359.5,264.9 1360.3,263.8 1361.1,262.8 1361.9,261.8 1362.7,260.8 1363.5,259.8 1364.3,258.8 1365.1,257.9 1365.9,256.9 1366.7,255.9 1367.5,255.0 1368.3,254.1 1369.1,253.1 1369.9,252.2 1370.7,251.3 1371.5,250.4 1372.4,249.6 1373.2,248.7 1374.0,247.8 1374.8,247.0 1375.6,246.1 1376.4,245.3 1377.2,244.5 1378.0,243.7 1378.8,242.9 1379.6,242.1 1380.4,241.3 1381.2,240.5 1382.0,239.7 1382.8,239.0 1383.6,238.3 1384.4,237.5 1385.2,236.8 1386.0,236.1 1386.8,235.4 1387.6,234.7 1388.4,234.0 1389.2,233.4 1390.0,232.7 1390.8,232.1 1391.6,231.4 1392.5,230.8 1393.3,230.2 1394.1,229.6 1394.9,229.0 1395.7,228.4 1396.5,227.8 1397.3,227.2 1398.1,226.7 1398.9,226.2 1399.7,225.6 1400.5,225.1 1401.3,224.6 1402.1,224.1 1402.9,223.6 1403.7,223.1 1404.5,222.6 1405.3,222.2 1406.1,221.7 1406.9,221.3 1407.7,220.9 1408.5,220.5 1409.3,220.1 1410.1,219.7 1410.9,219.3 1411.7,218.9 1412.6,218.6 1413.4,218.2 1414.2,217.9 1415.0,217.5 1415.8,217.2 1416.6,216.9 1417.4,216.6 1418.2,216.3 1419.0,216.0 1419.8,215.8 1420.6,215.5 1421.4,215.3 1422.2,215.1 1423.0,214.8 1423.8,214.6 1424.6,214.4 1425.4,214.2 1426.2,214.1 1427.0,213.9 1427.8,213.7 1428.6,213.6 1429.4,213.5 1430.2,213.3 1431.0,213.2 1431.8,213.1 1432.7,213.0 1433.5,213.0 1434.3,212.9 1435.1,212.8 1435.9,212.8 1436.7,212.7 1437.5,212.7 1438.3,212.7 1439.1,212.7 1439.9,212.7 1440.7,212.7 1441.5,212.8 1442.3,212.8 1443.1,212.8 1443.9,212.9 1444.7,213.0 1445.5,213.1 1446.3,213.2 1447.1,213.3 1447.9,213.4 1448.7,213.5 1449.5,213.7 1450.3,213.8 1451.1,214.0 1451.9,214.1 1452.8,214.3 1453.6,214.5 1454.4,214.7 1455.2,214.9 1456.0,215.1 1456.8,215.4 1457.6,215.6 1458.4,215.9 1459.2,216.2 1460.0,216.4 1460.8,216.7 1461.6,217.0 1462.4,217.3 1463.2,217.7 1464.0,218.0 1464.8,218.3 1465.6,218.7 1466.4,219.1 1467.2,219.4 1468.0,219.8 1468.8,220.2 1469.6,220.6 1470.4,221.1 1471.2,221.5 1472.0,221.9 1472.9,222.4 1473.7,222.8 1474.5,223.3 1475.3,223.8 1476.1,224.3 1476.9,224.8 1477.7,225.3 1478.5,225.8 1479.3,226.4 1480.1,226.9 1480.9,227.5 1481.7,228.0 1482.5,228.6 1483.3,229.2 1484.1,229.8 1484.9,230.4 1485.7,231.0 1486.5,231.7 1487.3,232.3 1488.1,233.0 1488.9,233.6 1489.7,234.3 1490.5,235.0 1491.3,235.7 1492.1,236.4 1493.0,237.1 1493.8,237.8 1494.6,238.6 1495.4,239.3 1496.2,240.1 1497.0,240.8 1497.8,241.6 1498.6,242.4 1499.4,243.2 1500.2,244.0 1501.0,244.8 1501.8,245.6 1502.6,246.5 1503.4,247.3 1504.2,248.2 1505.0,249.0 1505.8,249.9 1506.6,250.8 1507.4,251.7 1508.2,252.6 1509.0,253.5 1509.8,254.4 1510.6,255.4 1511.4,256.3 1512.2,257.3 1513.1,258.2 1513.9,259.2 1514.7,260.2 1515.5,261.2 1516.3,262.2 1517.1,263.2 1517.9,264.2 1518.7,265.3 1519.5,266.3 1520.3,267.4 1521.1,268.4 1521.9,269.5 1522.7,270.6 1523.5,271.7 1524.3,272.8 1525.1,273.9 1525.9,275.0 1526.7,276.1 1527.5,277.3 1528.3,278.4 1529.1,279.6 1529.9,280.7 1530.7,281.9 1531.5,283.1 1532.3,284.3 1533.2,285.5 1534.0,286.7 1534.8,287.9 1535.6,289.1 1536.4,290.4 1537.2,291.6 1538.0,292.9 1538.8,294.2 1539.6,295.4 1540.4,296.7 1541.2,298.0 1542.0,299.3 1542.8,300.6 1543.6,301.9 1544.4,303.3 1545.2,304.6 1546.0,305.9 1546.8,307.3 1547.6,308.6 1548.4,310.0 1549.2,311.4 1550.0,312.8 1550.8,314.2 1551.6,315.6 1552.4,317.0 1553.3,318.4 1554.1,319.8 1554.9,321.3 1555.7,322.7 1556.5,324.2 1557.3,325.6 1558.1,327.1 1558.9,328.6 1559.7,330.1 1560.5,331.5 1561.3,333.0 1562.1,334.6 1562.9,336.1 1563.7,337.6 1564.5,339.1 1565.3,340.7 1566.1,342.2 1566.9,343.8 1567.7,345.3 1568.5,346.9 1569.3,348.5 1570.1,350.1 1570.9,351.7 1571.7,353.3 1572.5,354.9 1573.4,356.5 1574.2,358.1 1575.0,359.7 1575.8,361.4 1576.6,363.0 1577.4,364.7 1578.2,366.3 1579.0,368.0 1579.8,369.7 1580.6,371.3 1581.4,373.0 1582.2,374.7 1583.0,376.4 1583.8,378.1 1584.6,379.8 1585.4,381.6 1586.2,383.3 1587.0,385.0 1587.8,386.8 1588.6,388.5 1589.4,390.3 1590.2,392.0 1591.0,393.8 1591.8,395.6 1592.6,397.3 1593.5,399.1 1594.3,400.9 1595.1,402.7 1595.9,404.5 1596.7,406.3 1597.5,408.1 1598.3,410.0 1599.1,411.8 1599.9,413.6 1600.7,415.5 1601.5,417.3 1602.3,419.2 1603.1,421.0 1603.9,422.9 1604.7,424.7 1605.5,426.6 1606.3,428.5 1607.1,430.4 1607.9,432.3 1608.7,434.2 1609.5,436.1 1610.3,438.0 1611.1,439.9 1611.9,441.8 1612.7,443.7 1613.6,445.7 1614.4,447.6 1615.2,449.5 1616.0,451.5 1616.8,453.4 1617.6,455.4 1618.4,457.3 1619.2,459.3 1620.0,461.3 1620.8,463.2 1621.6,465.2 1622.4,467.2 1623.2,469.2 1624.0,471.2 1624.8,473.1 1625.6,475.1 1626.4,477.1 1627.2,479.2 1628.0,481.2 1628.8,483.2 1629.6,485.2 1630.4,487.2 1631.2,489.3 1632.0,491.3 1632.8,493.3 1633.7,495.4 1634.5,497.4 1635.3,499.5 1636.1,501.5 1636.9,503.6 1637.7,505.6 1638.5,507.7 1639.3,509.7 1640.1,511.8 1640.9,513.9 1641.7,516.0 1642.5,518.0 1643.3,520.1 1644.1,522.2 1644.9,524.3 1645.7,526.4 1646.5,528.5 1647.3,530.6 1648.1,532.7 1648.9,534.8 1649.7,536.9 1650.5,539.0 1651.3,541.1 1652.1,543.2 1652.9,545.3 1653.8,547.5 1654.6,549.6 1655.4,551.7 1656.2,553.8 1657.0,556.0 1657.8,558.1 1658.6,560.2 1659.4,562.4 1660.2,564.5 1661.0,566.7 1661.8,568.8 1662.6,570.9 1663.4,573.1 1664.2,575.2 1665.0,577.4 1665.8,579.5 1666.6,581.7 1667.4,583.9 1668.2,586.0 1669.0,588.2 1669.8,590.3 1670.6,592.5 1671.4,594.7 1672.2,596.8 1673.0,599.0 1673.9,601.2 1674.7,603.3 1675.5,605.5 1676.3,607.7 1677.1,609.8 1677.9,612.0 1678.7,614.2 1679.5,616.4 1680.3,618.5 1681.1,620.7 1681.9,622.9 1682.7,625.1 1683.5,627.2 1684.3,629.4 1685.1,631.6 1685.9,633.8 1686.7,636.0 1687.5,638.1 1688.3,640.3 1689.1,642.5 1689.9,644.7 1690.7,646.9 1691.5,649.0 1692.3,651.2 1693.1,653.4 1694.0,655.6 1694.8,657.8 1695.6,660.0 1696.4,662.1 1697.2,664.3 1698.0,666.5 1698.8,668.7 1699.6,670.9 1700.4,673.0 1701.2,675.2 1702.0,677.4 1702.8,679.6 1703.6,681.7 1704.4,683.9 1705.2,686.1 1706.0,688.3 1706.8,690.4 1707.6,692.6 1708.4,694.8 1709.2,696.9 1710.0,699.1 1710.8,701.3 1711.6,703.4 1712.4,705.6 1713.2,707.8 1714.1,709.9 1714.9,712.1 1715.7,714.2 1716.5,716.4 1717.3,718.5 1718.1,720.7 1718.9,722.9 1719.7,725.0 1720.5,727.1 1721.3,729.3 1722.1,731.4 1722.9,733.6 1723.7,735.7 1724.5,737.9 1725.3,740.0 1726.1,742.1 1726.9,744.2 1727.7,746.4 1728.5,748.5 1729.3,750.6 1730.1,752.7 1730.9,754.9 1731.7,757.0 1732.5,759.1 1733.3,761.2 1734.2,763.3 1735.0,765.4 1735.8,767.5 1736.6,769.6 1737.4,771.7 1738.2,773.8 1739.0,775.9 1739.8,778.0 1740.6,780.0 1741.4,782.1 1742.2,784.2 1743.0,786.3 1743.8,788.3 1744.6,790.4 1745.4,792.5 1746.2,794.5 1747.0,796.6 1747.8,798.6 1748.6,800.7 1749.4,802.7 1750.2,804.8 1751.0,806.8 1751.8,808.8 1752.6,810.9 1753.4,812.9 1754.3,814.9 1755.1,816.9 1755.9,818.9 1756.7,820.9 1757.5,822.9 1758.3,824.9 1759.1,826.9 1759.9,828.9 1760.7,830.9 1761.5,832.9 1762.3,834.9 1763.1,836.8 1763.9,838.8 1764.7,840.8 1765.5,842.7 1766.3,844.7 1767.1,846.6 1767.9,848.6 1768.7,850.5 1769.5,852.4 1770.3,854.3 1771.1,856.3 1771.9,858.2 1772.7,860.1 1773.5,862.0 1774.4,863.9 1775.2,865.8 1776.0,867.7 1776.8,869.6 1777.6,871.5 1778.4,873.3 1779.2,875.2 1780.0,877.1 1780.8,878.9 1781.6,880.8 1782.4,882.6 1783.2,884.4 1784.0,886.3" stroke="#ff0000" stroke-dasharray="26.50 27.40" stroke-dashoffset="52.52" transform="translate(-1,1.2)"/>
</g>
<g fill="none" stroke-width="6.5" stroke-linecap="butt">
<path d="M1211.3,786.0 1348.7,786.0" stroke="#0000ff"/>
<path d="M1211.3,846.0 1348.7,846.0" stroke="#ff00ff" stroke-dasharray="9.00 4.30" stroke-dashoffset="0.00"/>
<path d="M1211.3,906.0 1348.7,906.0" stroke="#00ff00" stroke-dasharray="29.70 4.00 16.00 4.00" stroke-dashoffset="0.00"/>
<path d="M1211.3,966.0 1348.7,966.0" stroke="#00ffff" stroke-dasharray="29.50 24.20" stroke-dashoffset="0.00"/>
<path d="M1211.3,1026.0 1348.7,1026.0" stroke="#ff0000" stroke-dasharray="29.50 24.20" stroke-dashoffset="0.00"/>
</g>
<g font-size="50.5">
<text x="1358.2" y="803.3" textLength="346.4" lengthAdjust="spacingAndGlyphs">Initial AOA 0deg</text>
<text x="1358.2" y="863.3" textLength="346.4" lengthAdjust="spacingAndGlyphs">Initial AOA 3deg</text>
<text x="1358.2" y="923.3" textLength="346.4" lengthAdjust="spacingAndGlyphs">Initial AOA 8deg</text>
<text x="1358.2" y="983.3" textLength="370.8" lengthAdjust="spacingAndGlyphs">Initial AOA 10deg</text>
<text x="1358.2" y="1043.3" textLength="318.8" lengthAdjust="spacingAndGlyphs">Reference AOA</text>
</g>
<rect x="672.8" y="93.2" width="546.4" height="333.0" fill="#fff" stroke="none"/>
<g stroke="#1f1f1f" stroke-width="2" fill="none">
<rect x="672.8" y="93.2" width="546.4" height="333.0"/>
<path d="M882.0,426.2V420.2M882.0,93.2V99.2M1093.4,426.2V420.2M1093.4,93.2V99.2M672.8,396.7H678.8M1219.2,396.7H1213.2M672.8,331.7H678.8M1219.2,331.7H1213.2M672.8,264.3H678.8M1219.2,264.3H1213.2M672.8,196.4H678.8M1219.2,196.4H1213.2M672.8,131.2H678.8M1219.2,131.2H1213.2"/>
</g>
<g font-size="54" stroke="#fff" stroke-width="0.8">
<text x="651.5" y="411.2" text-anchor="end">2</text>
<text x="651.5" y="344.4" text-anchor="end">4</text>
<text x="651.5" y="277.6" text-anchor="end">6</text>
<text x="651.5" y="210.8" text-anchor="end">8</text>
<text x="651.5" y="144.0" text-anchor="end">10</text>
<text x="670.6" y="493" text-anchor="middle">0</text>
<text x="882.0" y="493" text-anchor="middle">0.2</text>
<text x="1093.4" y="493" text-anchor="middle">0.4</text>
</g>
<g fill="none" stroke-width="6.5" stroke-linejoin="round" stroke-linecap="butt">
<path d="M690.7,426.2 691.2,425.3 691.6,424.4 692.0,423.6 692.5,422.7 692.9,421.8 693.3,420.9 693.7,420.1 694.2,419.2 694.6,418.3 695.0,417.4 695.4,416.5 695.8,415.6 696.3,414.7 696.7,413.8 697.1,412.9 697.5,412.0 698.0,411.0 698.4,410.1 698.8,409.2 699.2,408.3 699.6,407.3 700.1,406.4 700.5,405.4 700.9,404.5 701.3,403.5 701.8,402.6 702.2,401.6 702.6,400.7 703.0,399.7 703.5,398.8 703.9,397.8 704.3,396.8 704.7,395.8 705.1,394.9 705.6,393.9 706.0,392.9 706.4,391.9 706.8,390.9 707.3,389.9 707.7,388.9 708.1,387.9 708.5,386.9 708.9,385.9 709.4,384.9 709.8,383.9 710.2,382.9 710.6,381.9 711.1,380.9 711.5,379.9 711.9,378.9 712.3,377.8 712.8,376.8 713.2,375.8 713.6,374.7 714.0,373.7 714.4,372.7 714.9,371.6 715.3,370.6 715.7,369.6 716.1,368.5 716.6,367.5 717.0,366.4 717.4,365.4 717.8,364.3 718.3,363.3 718.7,362.2 719.1,361.2 719.5,360.1 719.9,359.1 720.4,358.0 720.8,356.9 721.2,355.9 721.6,354.8 722.1,353.7 722.5,352.7 722.9,351.6 723.3,350.5 723.7,349.5 724.2,348.4 724.6,347.3 725.0,346.2 725.4,345.2 725.9,344.1 726.3,343.0 726.7,341.9 727.1,340.8 727.6,339.8 728.0,338.7 728.4,337.6 728.8,336.5 729.2,335.4 729.7,334.3 730.1,333.3 730.5,332.2 730.9,331.1 731.4,330.0 731.8,328.9 732.2,327.8 732.6,326.7 733.0,325.6 733.5,324.5 733.9,323.4 734.3,322.4 734.7,321.3 735.2,320.2 735.6,319.1 736.0,318.0 736.4,316.9 736.9,315.8 737.3,314.7 737.7,313.6 738.1,312.5 738.5,311.4 739.0,310.4 739.4,309.3 739.8,308.2 740.2,307.1 740.7,306.0 741.1,305.0 741.5,303.9 741.9,302.8 742.4,301.7 742.8,300.7 743.2,299.6 743.6,298.6 744.0,297.5 744.5,296.5 744.9,295.5 745.3,294.4 745.7,293.4 746.2,292.4 746.6,291.4 747.0,290.4 747.4,289.4 747.8,288.4 748.3,287.4 748.7,286.4 749.1,285.4 749.5,284.5 750.0,283.5 750.4,282.6 750.8,281.6 751.2,280.7 751.7,279.8 752.1,278.9 752.5,278.0 752.9,277.1 753.3,276.2 753.8,275.4 754.2,274.5 754.6,273.7 755.0,272.9 755.5,272.0 755.9,271.2 756.3,270.5 756.7,269.7 757.1,268.9 757.6,268.2 758.0,267.4 758.4,266.7 758.8,266.0 759.3,265.3 759.7,264.6 760.1,263.9 760.5,263.3 761.0,262.6 761.4,262.0 761.8,261.4 762.2,260.8 762.6,260.3 763.1,259.7 763.5,259.2 763.9,258.6 764.3,258.1 764.8,257.6 765.2,257.2 765.6,256.7 766.0,256.3 766.7,255.6 767.3,255.1 767.9,254.5 768.6,254.0 769.2,253.6 769.8,253.2 770.5,252.8 771.1,252.5 771.7,252.2 772.4,251.9 773.0,251.7 773.6,251.5 774.3,251.3 774.9,251.0 775.5,250.8 776.2,250.6 776.8,250.4 777.4,250.2 778.1,250.0 778.7,249.9 779.3,249.7 780.0,249.5 780.6,249.3 781.2,249.2 781.9,249.0 782.5,248.9 783.2,248.8 783.8,248.7 784.4,248.6 785.1,248.5 785.7,248.5 786.3,248.4 787.0,248.4 787.6,248.4 788.2,248.4 788.9,248.5 789.5,248.5 790.1,248.6 790.8,248.7 791.4,248.9 792.0,249.0 792.7,249.2 793.3,249.4 793.9,249.6 794.6,249.8 795.2,250.0 795.8,250.2 796.5,250.5 797.1,250.8 797.7,251.0 798.4,251.3 799.0,251.6 799.6,251.9 800.3,252.3 800.9,252.6 801.5,252.9 802.2,253.3 802.8,253.6 803.4,254.0 804.1,254.3 804.7,254.7 805.3,255.1 806.0,255.5 806.6,255.9 807.3,256.3 807.9,256.7 808.5,257.1 809.2,257.5 809.8,258.0 810.4,258.4 811.1,258.9 811.7,259.4 812.3,259.9 813.0,260.4 813.6,261.0 814.2,261.5 814.9,262.1 815.5,262.7 816.1,263.3 816.8,263.9 817.4,264.6 817.8,265.0 818.2,265.4 818.7,265.9 819.1,266.3 819.5,266.8 819.9,267.2 820.4,267.7 820.8,268.1 821.2,268.5 821.6,269.0 822.0,269.4 822.5,269.8 823.1,270.5 823.7,271.1 824.4,271.7 825.0,272.3 825.6,272.8 826.3,273.4 826.9,273.8 827.5,274.3 828.2,274.7 828.8,275.1 829.4,275.5 830.1,275.8 830.7,276.1 831.4,276.4 832.0,276.7 832.6,276.9 833.3,277.1 833.9,277.3 834.5,277.5 835.2,277.6 835.8,277.8 836.4,277.9 837.1,278.0 837.7,278.0 838.3,278.1 839.0,278.1 839.6,278.1 840.2,278.1 840.9,278.1 841.5,278.1 842.1,278.1 842.8,278.0 843.4,278.0 844.0,277.9 844.7,277.8 845.3,277.7 845.9,277.6 846.6,277.5 847.2,277.4 847.8,277.2 848.5,277.1 849.1,276.9 849.7,276.7 850.4,276.6 851.0,276.4 851.6,276.1 852.3,275.9 852.9,275.7 853.5,275.5 854.2,275.2 854.8,275.0 855.4,274.7 856.1,274.4 856.7,274.2 857.4,273.9 858.0,273.6 858.6,273.3 859.3,273.0 859.9,272.7 860.5,272.4 861.2,272.1 861.8,271.8 862.4,271.4 863.1,271.1 863.7,270.8 864.3,270.5 865.0,270.2 865.6,269.9 866.2,269.6 866.9,269.3 867.5,269.0 868.1,268.8 868.8,268.5 869.4,268.2 870.0,268.0 870.7,267.8 871.3,267.5 871.9,267.3 872.6,267.1 873.2,266.9 873.8,266.7 874.5,266.5 875.1,266.3 875.7,266.1 876.4,266.0 877.0,265.8 877.6,265.6 878.3,265.5 878.9,265.3 879.5,265.2 880.2,265.0 880.8,264.9 881.5,264.7 882.1,264.6 882.7,264.5 883.4,264.3 884.0,264.2 884.6,264.1 885.3,263.9 885.9,263.8 886.5,263.7 887.2,263.5 887.8,263.4 888.4,263.3 889.1,263.1 889.7,263.0 890.3,262.9 891.0,262.7 891.6,262.6 892.2,262.5 892.9,262.4 893.5,262.2 894.1,262.1 894.8,262.0 895.4,261.9 896.0,261.7 896.7,261.6 897.3,261.5 897.9,261.4 898.6,261.3 899.2,261.1 899.8,261.0 900.5,260.9 901.1,260.8 901.7,260.7 902.4,260.5 903.0,260.4 903.6,260.3 904.3,260.2 904.9,260.1 905.6,260.0 906.2,259.9 906.8,259.7 907.5,259.6 908.1,259.5 908.7,259.4 909.4,259.3 910.0,259.2 910.6,259.1 911.3,259.0 911.9,258.9 912.5,258.8 913.2,258.6 913.8,258.5 914.4,258.4 915.1,258.3 915.7,258.2 916.3,258.1 917.0,258.0 917.6,257.9 918.2,257.8 918.9,257.7 919.5,257.6 920.1,257.5 920.8,257.4 921.4,257.3 922.0,257.2 922.7,257.1 923.3,257.0 923.9,256.9 924.6,256.8 925.2,256.7 925.8,256.6 926.5,256.5 927.1,256.4 927.7,256.3 928.4,256.2 929.0,256.1 929.7,256.0 930.3,255.9 930.9,255.8 931.6,255.7 932.2,255.6 932.8,255.5 933.5,255.4 934.1,255.3 934.7,255.2 935.4,255.1 936.0,255.0 936.6,254.9 937.3,254.8 937.9,254.7 938.5,254.6 939.2,254.5 939.8,254.4 940.4,254.3 941.1,254.2 941.7,254.1 942.3,254.0 943.0,253.9 943.6,253.8 944.2,253.7 944.9,253.6 945.5,253.5 946.1,253.4 946.8,253.3 947.4,253.2 948.0,253.1 948.7,253.0 949.3,252.9 949.9,252.8 950.6,252.7 951.2,252.6 951.8,252.5 952.5,252.5 953.1,252.4 953.8,252.3 954.4,252.2 955.0,252.1 955.7,252.0 956.3,251.9 956.9,251.8 957.6,251.7 958.2,251.6 958.8,251.5 959.5,251.4 960.1,251.3 960.7,251.2 961.4,251.1 962.0,251.0 962.6,250.9 963.3,250.8 963.9,250.7 964.5,250.7 965.2,250.6 965.8,250.5 966.4,250.4 967.1,250.3 967.7,250.2 968.3,250.1 969.0,250.0 969.6,249.9 970.2,249.8 970.9,249.7 971.5,249.6 972.1,249.5 972.8,249.4 973.4,249.3 974.0,249.2 974.7,249.1 975.3,249.0 975.9,248.9 976.6,248.8 977.2,248.7 977.9,248.7 978.5,248.6 979.1,248.5 979.8,248.4 980.4,248.3 981.0,248.2 981.7,248.1 982.3,248.0 982.9,247.9 983.6,247.8 984.2,247.7 984.8,247.6 985.5,247.5 986.1,247.4 986.7,247.3 987.4,247.2 988.0,247.1 988.6,247.0 989.3,246.9 989.9,246.8 990.5,246.7 991.2,246.6 991.8,246.5 992.4,246.4 993.1,246.4 993.7,246.3 994.3,246.2 995.0,246.1 995.6,246.0 996.2,245.9 996.9,245.8 997.5,245.7 998.1,245.6 998.8,245.5 999.4,245.4 1000.0,245.3 1000.7,245.2 1001.3,245.1 1001.9,245.0 1002.6,244.9 1003.2,244.8 1003.9,244.7 1004.5,244.6 1005.1,244.5 1005.8,244.4 1006.4,244.3 1007.0,244.2 1007.7,244.1 1008.3,244.1 1008.9,244.0 1009.6,243.9 1010.2,243.8 1010.8,243.7 1011.5,243.6 1012.1,243.5 1012.7,243.4 1013.4,243.3 1014.0,243.2 1014.6,243.1 1015.3,243.0 1015.9,242.9 1016.5,242.8 1017.2,242.7 1017.8,242.6 1018.4,242.5 1019.1,242.4 1019.7,242.3 1020.3,242.2 1021.0,242.1 1021.6,242.0 1022.2,242.0 1022.9,241.9 1023.5,241.8 1024.1,241.7 1024.8,241.6 1025.4,241.5 1026.0,241.4 1026.7,241.3 1027.3,241.2 1028.0,241.1 1028.6,241.0 1029.2,240.9 1029.9,240.8 1030.5,240.7 1031.1,240.6 1031.8,240.5 1032.4,240.4 1033.0,240.3 1033.7,240.2 1034.3,240.1 1034.9,240.1 1035.6,240.0 1036.2,239.9 1036.8,239.8 1037.5,239.7 1038.1,239.6 1038.7,239.5 1039.4,239.4 1040.0,239.3 1040.6,239.2 1041.3,239.1 1041.9,239.0 1042.5,238.9 1043.2,238.8 1043.8,238.7 1044.4,238.6 1045.1,238.5 1045.7,238.4 1046.3,238.4 1047.0,238.3 1047.6,238.2 1048.2,238.1 1048.9,238.0 1049.5,237.9 1050.1,237.8 1050.8,237.7 1051.4,237.6 1052.1,237.5 1052.7,237.4 1053.3,237.3 1054.0,237.2 1054.6,237.1 1055.2,237.0 1055.9,236.9 1056.5,236.8 1057.1,236.8 1057.8,236.7 1058.4,236.6 1059.0,236.5 1059.7,236.4 1060.3,236.3 1060.9,236.2 1061.6,236.1 1062.2,236.0 1062.8,235.9 1063.5,235.8 1064.1,235.7 1064.7,235.6 1065.4,235.5 1066.0,235.4 1066.6,235.3 1067.3,235.3 1067.9,235.2 1068.5,235.1 1069.2,235.0 1069.8,234.9 1070.4,234.8 1071.1,234.7 1071.7,234.6 1072.3,234.5 1073.0,234.4 1073.6,234.3 1074.2,234.2 1074.9,234.1 1075.5,234.0 1076.2,233.9 1076.8,233.9 1077.4,233.8 1078.1,233.7 1078.7,233.6 1079.3,233.5 1080.0,233.4 1080.6,233.3 1081.2,233.2 1081.9,233.1 1082.5,233.0 1083.1,232.9 1083.8,232.8 1084.4,232.7 1085.0,232.6 1085.7,232.6 1086.3,232.5 1086.9,232.4 1087.6,232.3 1088.2,232.2 1088.8,232.1 1089.5,232.0 1090.1,231.9 1090.7,231.8 1091.4,231.7 1092.0,231.6 1092.6,231.5 1093.3,231.4 1093.9,231.4 1094.5,231.3 1095.2,231.2 1095.8,231.1 1096.4,231.0 1097.1,230.9 1097.7,230.8 1098.3,230.7 1099.0,230.6 1099.6,230.5 1100.3,230.4 1100.9,230.3 1101.5,230.2 1102.2,230.2 1102.8,230.1 1103.4,230.0 1104.1,229.9 1104.7,229.8 1105.3,229.7 1106.0,229.6 1106.6,229.5 1107.2,229.4 1107.9,229.3 1108.5,229.2 1109.1,229.1 1109.8,229.0 1110.4,229.0 1111.0,228.9 1111.7,228.8 1112.3,228.7 1112.9,228.6 1113.6,228.5 1114.2,228.4 1114.8,228.3 1115.5,228.2 1116.1,228.1 1116.7,228.0 1117.4,227.9 1118.0,227.9 1118.6,227.8 1119.3,227.7 1119.9,227.6 1120.5,227.5 1121.2,227.4 1121.8,227.3 1122.4,227.2 1123.1,227.1 1123.7,227.0 1124.4,226.9 1125.0,226.9 1125.6,226.8 1126.3,226.7 1126.9,226.6 1127.5,226.5 1128.2,226.4 1128.8,226.3 1129.4,226.2 1130.1,226.1 1130.7,226.0 1131.3,225.9 1132.0,225.9 1132.6,225.8 1133.2,225.7 1133.9,225.6 1134.5,225.5 1135.1,225.4 1135.8,225.3 1136.4,225.2 1137.0,225.1 1137.7,225.0 1138.3,224.9 1138.9,224.9 1139.6,224.8 1140.2,224.7 1140.8,224.6 1141.5,224.5 1142.1,224.4 1142.7,224.3 1143.4,224.2 1144.0,224.1 1144.6,224.0 1145.3,224.0 1145.9,223.9 1146.5,223.8 1147.2,223.7 1147.8,223.6 1148.5,223.5 1149.1,223.4 1149.7,223.3 1150.4,223.2 1151.0,223.1 1151.6,223.1 1152.3,223.0 1152.9,222.9 1153.5,222.8 1154.2,222.7 1154.8,222.6 1155.4,222.5 1156.1,222.4 1156.7,222.3 1157.3,222.2 1158.0,222.2 1158.6,222.1 1159.2,222.0 1159.9,221.9 1160.5,221.8 1161.1,221.7 1161.8,221.6 1162.4,221.5 1163.0,221.4 1163.7,221.4 1164.3,221.3 1164.9,221.2 1165.6,221.1 1166.2,221.0 1166.8,220.9 1167.5,220.8 1168.1,220.7 1168.7,220.6 1169.4,220.5 1170.0,220.5 1170.6,220.4 1171.3,220.3 1171.9,220.2 1172.5,220.1 1173.2,220.0 1173.8,219.9 1174.5,219.8 1175.1,219.7 1175.7,219.7 1176.4,219.6 1177.0,219.5 1177.6,219.4 1178.3,219.3 1178.9,219.2 1179.5,219.1 1180.2,219.0 1180.8,218.9 1181.4,218.9 1182.1,218.8 1182.7,218.7 1183.3,218.6 1184.0,218.5 1184.6,218.4 1185.2,218.3 1185.9,218.2 1186.5,218.2 1187.1,218.1 1187.8,218.0 1188.4,217.9 1189.0,217.8 1189.7,217.7 1190.3,217.6 1190.9,217.5 1191.6,217.4 1192.2,217.4 1192.8,217.3 1193.5,217.2 1194.1,217.1 1194.7,217.0 1195.4,216.9 1196.0,216.8 1196.6,216.7 1197.3,216.7 1197.9,216.6 1198.6,216.5 1199.2,216.4 1199.8,216.3 1200.5,216.2 1201.1,216.1 1201.7,216.0 1202.4,216.0 1203.0,215.9 1203.6,215.8 1204.3,215.7 1204.9,215.6 1205.5,215.5 1206.2,215.4 1206.8,215.3 1207.4,215.3 1208.1,215.2 1208.7,215.1 1209.3,215.0 1210.0,214.9 1210.6,214.8 1211.2,214.7 1211.9,214.6 1212.5,214.6 1213.1,214.5 1213.8,214.4 1214.4,214.3 1215.0,214.2 1215.7,214.1 1216.3,214.0 1216.9,213.9 1217.6,213.9 1218.2,213.8 1218.8,213.7 1219.2,213.6" stroke="#0000ff"/>
<path d="M672.8,360.4 673.2,359.8 673.6,359.3 674.1,358.7 674.5,358.2 674.9,357.6 675.3,357.1 675.8,356.5 676.2,356.0 676.6,355.4 677.0,354.9 677.5,354.4 677.9,353.9 678.3,353.4 678.7,352.8 679.1,352.3 679.6,351.9 680.0,351.4 680.4,350.9 680.8,350.4 681.3,349.9 681.7,349.5 682.1,349.0 682.5,348.6 682.9,348.2 683.6,347.5 684.2,346.9 684.8,346.3 685.5,345.7 686.1,345.2 686.8,344.6 687.4,344.1 688.0,343.6 688.7,343.1 689.3,342.6 689.9,342.1 690.6,341.7 691.2,341.3 691.8,340.9 692.5,340.5 693.1,340.1 693.7,339.7 694.4,339.3 695.0,339.0 695.6,338.6 696.3,338.3 696.9,337.9 697.5,337.5 698.2,337.2 698.8,336.8 699.4,336.4 700.1,336.0 700.7,335.6 701.3,335.1 702.0,334.7 702.6,334.2 703.2,333.7 703.9,333.1 704.5,332.6 705.1,332.0 705.8,331.4 706.4,330.8 706.8,330.3 707.3,329.9 707.7,329.5 708.1,329.0 708.5,328.6 708.9,328.1 709.4,327.6 709.8,327.1 710.2,326.7 710.6,326.2 711.1,325.7 711.5,325.2 711.9,324.7 712.3,324.2 712.8,323.7 713.2,323.2 713.6,322.7 714.0,322.2 714.4,321.6 714.9,321.1 715.3,320.6 715.7,320.0 716.1,319.5 716.6,319.0 717.0,318.4 717.4,317.8 717.8,317.3 718.3,316.7 718.7,316.1 719.1,315.5 719.5,314.9 719.9,314.3 720.4,313.7 720.8,313.1 721.2,312.5 721.6,311.9 722.1,311.3 722.5,310.6 722.9,310.0 723.3,309.4 723.7,308.7 724.2,308.1 724.6,307.5 725.0,306.8 725.4,306.2 725.9,305.6 726.3,304.9 726.7,304.3 727.1,303.7 727.6,303.1 728.0,302.5 728.4,302.0 728.8,301.4 729.2,300.8 729.7,300.3 730.1,299.7 730.5,299.2 730.9,298.7 731.4,298.2 731.8,297.6 732.2,297.1 732.6,296.6 733.0,296.2 733.5,295.7 733.9,295.2 734.3,294.7 734.7,294.2 735.2,293.8 735.6,293.3 736.0,292.9 736.4,292.4 736.9,291.9 737.3,291.5 737.7,291.1 738.1,290.6 738.5,290.2 739.0,289.7 739.4,289.3 740.0,288.7 740.7,288.0 741.3,287.4 741.9,286.8 742.6,286.2 743.2,285.7 743.8,285.1 744.5,284.5 745.1,284.0 745.7,283.5 746.4,283.0 747.0,282.5 747.6,282.0 748.3,281.6 748.9,281.1 749.5,280.7 750.2,280.3 750.8,279.9 751.4,279.6 752.1,279.2 752.7,278.9 753.3,278.6 754.0,278.4 754.6,278.1 755.2,277.9 755.9,277.7 756.5,277.5 757.1,277.4 757.8,277.3 758.4,277.2 759.1,277.1 759.7,277.1 760.3,277.0 761.0,277.0 761.6,277.0 762.2,277.1 762.9,277.1 763.5,277.2 764.1,277.2 764.8,277.3 765.4,277.4 766.0,277.5 766.7,277.6 767.3,277.7 767.9,277.8 768.6,277.9 769.2,278.1 769.8,278.2 770.5,278.3 771.1,278.4 771.7,278.5 772.4,278.6 773.0,278.8 773.6,278.9 774.3,279.0 774.9,279.1 775.5,279.1 776.2,279.2 776.8,279.3 777.4,279.4 778.1,279.5 778.7,279.6 779.3,279.6 780.0,279.7 780.6,279.7 781.2,279.8 781.9,279.9 782.5,279.9 783.2,279.9 783.8,280.0 784.4,280.0 785.1,280.0 785.7,280.1 786.3,280.1 787.0,280.1 787.6,280.1 788.2,280.1 788.9,280.1 789.5,280.1 790.1,280.1 790.8,280.1 791.4,280.1 792.0,280.1 792.7,280.1 793.3,280.1 793.9,280.0 794.6,280.0 795.2,279.9 795.8,279.9 796.5,279.8 797.1,279.8 797.7,279.7 798.4,279.7 799.0,279.6 799.6,279.5 800.3,279.5 800.9,279.4 801.5,279.3 802.2,279.2 802.8,279.1 803.4,279.0 804.1,278.9 804.7,278.8 805.3,278.6 806.0,278.5 806.6,278.4 807.3,278.3 807.9,278.1 808.5,278.0 809.2,277.8 809.8,277.7 810.4,277.5 811.1,277.4 811.7,277.2 812.3,277.0 813.0,276.8 813.6,276.7 814.2,276.5 814.9,276.3 815.5,276.1 816.1,275.9 816.8,275.7 817.4,275.5 818.0,275.3 818.7,275.1 819.3,274.9 819.9,274.7 820.6,274.6 821.2,274.4 821.8,274.2 822.5,274.0 823.1,273.8 823.7,273.6 824.4,273.5 825.0,273.3 825.6,273.1 826.3,273.0 826.9,272.8 827.5,272.7 828.2,272.5 828.8,272.4 829.4,272.2 830.1,272.1 830.7,272.0 831.4,271.8 832.0,271.7 832.6,271.6 833.3,271.5 833.9,271.3 834.5,271.2 835.2,271.1 835.8,271.0 836.4,270.9 837.1,270.8 837.7,270.7 838.3,270.6 839.0,270.5 839.6,270.4 840.2,270.4 840.9,270.3 841.5,270.2 842.1,270.1 842.8,270.0 843.4,270.0 844.0,269.9 844.7,269.8 845.3,269.8 845.9,269.7 846.6,269.6 847.2,269.6 847.8,269.5 848.5,269.4 849.1,269.4 849.7,269.3 850.4,269.3 851.0,269.2 851.6,269.2 852.3,269.1 852.9,269.1 853.5,269.0 854.2,269.0 854.8,268.9 855.4,268.9 856.1,268.8 856.7,268.8 857.4,268.7 858.0,268.7 858.6,268.6 859.3,268.6 859.9,268.5 860.5,268.5 861.2,268.5 861.8,268.4 862.4,268.4 863.1,268.3 863.7,268.3 864.3,268.2 865.0,268.2 865.6,268.1 866.2,268.1 866.9,268.0 867.5,268.0 868.1,267.9 868.8,267.9 869.4,267.8 870.0,267.8 870.7,267.7 871.3,267.7 871.9,267.6 872.6,267.5 873.2,267.5 873.8,267.4 874.5,267.3 875.1,267.3 875.7,267.2 876.4,267.1 877.0,267.0 877.6,267.0 878.3,266.9 878.9,266.8 879.5,266.7 880.2,266.6 880.8,266.5 881.5,266.4 882.1,266.3 882.7,266.2 883.4,266.1 884.0,266.0 884.6,265.8 885.3,265.7 885.9,265.6 886.5,265.5 887.2,265.4 887.8,265.2 888.4,265.1 889.1,265.0 889.7,264.8 890.3,264.7 891.0,264.6 891.6,264.4 892.2,264.3 892.9,264.1 893.5,264.0 894.1,263.8 894.8,263.7 895.4,263.5 896.0,263.4 896.7,263.2 897.3,263.1 897.9,262.9 898.6,262.8 899.2,262.6 899.8,262.5 900.5,262.3 901.1,262.1 901.7,262.0 902.4,261.8 903.0,261.7 903.6,261.5 904.3,261.3 904.9,261.2 905.6,261.0 906.2,260.9 906.8,260.7 907.5,260.5 908.1,260.4 908.7,260.2 909.4,260.1 910.0,259.9 910.6,259.8 911.3,259.6 911.9,259.4 912.5,259.3 913.2,259.1 913.8,259.0 914.4,258.8 915.1,258.7 915.7,258.5 916.3,258.4 917.0,258.2 917.6,258.1 918.2,257.9 918.9,257.8 919.5,257.6 920.1,257.5 920.8,257.4 921.4,257.2 922.0,257.1 922.7,257.0 923.3,256.8 923.9,256.7 924.6,256.6 925.2,256.5 925.8,256.3 926.5,256.2 927.1,256.1 927.7,256.0 928.4,255.9 929.0,255.7 929.7,255.6 930.3,255.5 930.9,255.4 931.6,255.3 932.2,255.2 932.8,255.1 933.5,255.0 934.1,254.9 934.7,254.8 935.4,254.7 936.0,254.6 936.6,254.5 937.3,254.4 937.9,254.3 938.5,254.2 939.2,254.1 939.8,254.0 940.4,253.9 941.1,253.8 941.7,253.7 942.3,253.6 943.0,253.5 943.6,253.5 944.2,253.4 944.9,253.3 945.5,253.2 946.1,253.1 946.8,253.0 947.4,252.9 948.0,252.8 948.7,252.8 949.3,252.7 949.9,252.6 950.6,252.5 951.2,252.4 951.8,252.3 952.5,252.3 953.1,252.2 953.8,252.1 954.4,252.0 955.0,251.9 955.7,251.8 956.3,251.8 956.9,251.7 957.6,251.6 958.2,251.5 958.8,251.4 959.5,251.4 960.1,251.3 960.7,251.2 961.4,251.1 962.0,251.0 962.6,250.9 963.3,250.8 963.9,250.8 964.5,250.7 965.2,250.6 965.8,250.5 966.4,250.4 967.1,250.3 967.7,250.2 968.3,250.1 969.0,250.1 969.6,250.0 970.2,249.9 970.9,249.8 971.5,249.7 972.1,249.6 972.8,249.5 973.4,249.4 974.0,249.3 974.7,249.2 975.3,249.1 975.9,249.0 976.6,249.0 977.2,248.9 977.9,248.8 978.5,248.7 979.1,248.6 979.8,248.5 980.4,248.4 981.0,248.3 981.7,248.2 982.3,248.1 982.9,248.0 983.6,247.9 984.2,247.8 984.8,247.7 985.5,247.6 986.1,247.5 986.7,247.4 987.4,247.3 987.7,247.3" stroke="#ff00ff" stroke-dasharray="7.00 6.47" stroke-dashoffset="0.00"/>
<path d="M987.7,247.3 988.3,247.2 989.0,247.1 989.6,247.0 990.2,246.9 990.9,246.8 991.5,246.7 992.1,246.6 992.8,246.5 993.4,246.4 994.0,246.3 994.7,246.2 995.3,246.1 995.9,246.0 996.6,245.9 997.2,245.8 997.8,245.7 998.5,245.6 999.1,245.5 999.7,245.4 1000.4,245.3 1001.0,245.2 1001.7,245.1 1002.3,245.0 1002.9,244.9 1003.6,244.8 1004.2,244.7 1004.8,244.6 1005.5,244.5 1006.1,244.4 1006.7,244.3 1007.4,244.2 1008.0,244.1 1008.6,244.0 1009.3,243.9 1009.9,243.8 1010.5,243.7 1011.2,243.6 1011.8,243.5 1012.4,243.4 1013.1,243.3 1013.7,243.2 1014.3,243.1 1015.0,243.0 1015.6,242.9 1016.2,242.8 1016.9,242.7 1017.5,242.6 1018.1,242.5 1018.8,242.4 1019.4,242.3 1020.0,242.2 1020.7,242.1 1021.3,242.0 1021.9,241.9 1022.6,241.8 1023.2,241.7 1023.8,241.6 1024.5,241.5 1025.1,241.4 1025.8,241.3 1026.4,241.2 1027.0,241.1 1027.7,241.0 1028.3,240.9 1028.9,240.8 1029.6,240.7 1030.2,240.6 1030.8,240.5 1031.5,240.4 1032.1,240.3 1032.7,240.2 1033.4,240.1 1034.0,240.0 1034.6,239.9 1035.3,239.8 1035.9,239.7 1036.5,239.6 1037.2,239.5 1037.8,239.4 1038.4,239.3 1039.1,239.2 1039.7,239.2 1040.3,239.1 1041.0,239.0 1041.6,238.9 1042.2,238.8 1042.9,238.7 1043.5,238.6 1044.1,238.5 1044.8,238.4 1045.4,238.3 1046.0,238.2 1046.7,238.1 1047.3,238.0 1047.9,237.9 1048.6,237.8 1049.2,237.7 1049.9,237.6 1050.5,237.5 1051.1,237.4 1051.8,237.3 1052.4,237.2 1053.0,237.1 1053.7,237.0 1054.3,236.9 1054.9,236.8 1055.6,236.7 1056.2,236.6 1056.8,236.5 1057.5,236.4 1058.1,236.4 1058.7,236.3 1059.4,236.2 1060.0,236.1 1060.6,236.0 1061.3,235.9 1061.9,235.8 1062.5,235.7 1063.2,235.6 1063.8,235.5 1064.4,235.4 1065.1,235.3 1065.7,235.2 1066.3,235.1 1067.0,235.0 1067.6,234.9 1068.2,234.8 1068.9,234.7 1069.5,234.6 1070.1,234.5 1070.8,234.4 1071.4,234.3 1072.0,234.3 1072.7,234.2 1073.3,234.1 1074.0,234.0 1074.6,233.9 1075.2,233.8 1075.9,233.7 1076.5,233.6 1077.1,233.5 1077.8,233.4 1078.4,233.3 1079.0,233.2 1079.7,233.1 1080.3,233.0 1080.9,232.9 1081.6,232.8 1082.2,232.7 1082.8,232.7 1083.5,232.6 1084.1,232.5 1084.7,232.4 1085.4,232.3 1086.0,232.2 1086.6,232.1 1087.3,232.0 1087.9,231.9 1088.5,231.8 1089.2,231.7 1089.8,231.6 1090.4,231.5 1091.1,231.4 1091.7,231.3 1092.3,231.2 1093.0,231.2 1093.6,231.1 1094.2,231.0 1094.9,230.9 1095.5,230.8 1096.1,230.7 1096.8,230.6 1097.4,230.5 1098.1,230.4 1098.7,230.3 1099.3,230.2 1100.0,230.1 1100.6,230.0 1101.2,229.9 1101.9,229.9 1102.5,229.8 1103.1,229.7 1103.8,229.6 1104.4,229.5 1105.0,229.4 1105.7,229.3 1106.3,229.2 1106.9,229.1 1107.6,229.0 1108.2,228.9 1108.8,228.8 1109.5,228.7 1110.1,228.7 1110.7,228.6 1111.4,228.5 1112.0,228.4 1112.6,228.3 1113.3,228.2 1113.9,228.1 1114.5,228.0 1115.2,227.9 1115.8,227.8 1116.4,227.7 1117.1,227.6 1117.7,227.5 1118.3,227.5 1119.0,227.4 1119.6,227.3 1120.2,227.2 1120.9,227.1 1121.5,227.0 1122.2,226.9 1122.8,226.8 1123.4,226.7 1124.1,226.6 1124.7,226.5 1125.3,226.5 1126.0,226.4 1126.6,226.3 1127.2,226.2 1127.9,226.1 1128.5,226.0 1129.1,225.9 1129.8,225.8 1130.4,225.7 1131.0,225.6 1131.7,225.5 1132.3,225.5 1132.9,225.4 1133.6,225.3 1134.2,225.2 1134.8,225.1 1135.5,225.0 1136.1,224.9 1136.7,224.8 1137.4,224.7 1138.0,224.6 1138.6,224.6 1139.3,224.5 1139.9,224.4 1140.5,224.3 1141.2,224.2 1141.8,224.1 1142.4,224.0 1143.1,223.9 1143.7,223.8 1144.3,223.7 1145.0,223.7 1145.6,223.6 1146.2,223.5 1146.9,223.4 1147.5,223.3 1148.2,223.2 1148.8,223.1 1149.4,223.0 1150.1,222.9 1150.7,222.8 1151.3,222.8 1152.0,222.7 1152.6,222.6 1153.2,222.5 1153.9,222.4 1154.5,222.3 1155.1,222.2 1155.8,222.1 1156.4,222.0 1157.0,222.0 1157.7,221.9 1158.3,221.8 1158.9,221.7 1159.6,221.6 1160.2,221.5 1160.8,221.4 1161.5,221.3 1162.1,221.2 1162.7,221.2 1163.4,221.1 1164.0,221.0 1164.6,220.9 1165.3,220.8 1165.9,220.7 1166.5,220.6 1167.2,220.5 1167.8,220.5 1168.4,220.4 1169.1,220.3 1169.7,220.2 1170.3,220.1 1171.0,220.0 1171.6,219.9 1172.3,219.8 1172.9,219.7 1173.5,219.7 1174.2,219.6 1174.8,219.5 1175.4,219.4 1176.1,219.3 1176.7,219.2 1177.3,219.1 1178.0,219.0 1178.6,219.0 1179.2,218.9 1179.9,218.8 1180.5,218.7 1181.1,218.6 1181.8,218.5 1182.4,218.4 1183.0,218.3 1183.7,218.3 1184.3,218.2 1184.9,218.1 1185.6,218.0 1186.2,217.9 1186.8,217.8 1187.5,217.7 1188.1,217.6 1188.7,217.6 1189.4,217.5 1190.0,217.4 1190.6,217.3 1191.3,217.2 1191.9,217.1 1192.5,217.0 1193.2,217.0 1193.8,216.9 1194.4,216.8 1195.1,216.7 1195.7,216.6 1196.4,216.5 1197.0,216.4 1197.6,216.3 1198.3,216.3 1198.9,216.2 1199.5,216.1 1200.2,216.0 1200.8,215.9 1201.4,215.8 1202.1,215.7 1202.7,215.7 1203.3,215.6 1204.0,215.5 1204.6,215.4 1205.2,215.3 1205.9,215.2 1206.5,215.1 1207.1,215.1 1207.8,215.0 1208.4,214.9 1209.0,214.8 1209.7,214.7 1210.3,214.6 1210.9,214.5 1211.6,214.5 1212.2,214.4 1212.8,214.3 1213.5,214.2 1214.1,214.1 1214.7,214.0 1215.4,213.9 1216.0,213.9 1216.6,213.8 1217.3,213.7 1217.9,213.6 1218.5,213.5 1219.2,213.4 1219.2,213.4" stroke="#ff00ff" stroke-dasharray="7.00 6.47" stroke-dashoffset="9.12"/>
<path d="M672.8,193.7 673.2,193.2 673.6,192.7 674.1,192.2 674.5,191.7 674.9,191.2 675.3,190.7 675.8,190.2 676.2,189.8 676.6,189.3 677.0,188.8 677.5,188.3 677.9,187.9 678.3,187.4 678.7,187.0 679.1,186.5 679.6,186.1 680.0,185.6 680.4,185.2 680.8,184.8 681.5,184.1 682.1,183.5 682.7,182.9 683.4,182.4 684.0,181.8 684.6,181.3 685.3,180.7 685.9,180.3 686.5,179.8 687.2,179.3 687.8,178.9 688.4,178.5 689.1,178.1 689.7,177.8 690.3,177.4 691.0,177.2 691.6,176.9 692.2,176.6 692.9,176.4 693.5,176.2 694.2,176.1 694.8,175.9 695.4,175.8 696.1,175.7 696.7,175.6 697.3,175.6 698.0,175.6 698.6,175.5 699.2,175.5 699.9,175.6 700.5,175.6 701.1,175.7 701.8,175.7 702.4,175.8 703.0,175.9 703.7,176.0 704.3,176.2 704.9,176.3 705.6,176.5 706.2,176.6 706.8,176.8 707.5,177.0 708.1,177.2 708.7,177.4 709.4,177.6 710.0,177.9 710.6,178.1 711.3,178.3 711.9,178.6 712.5,178.9 713.2,179.2 713.8,179.5 714.4,179.7 715.1,180.1 715.7,180.4 716.3,180.7 717.0,181.0 717.6,181.3 718.3,181.7 718.9,182.0 719.5,182.4 720.2,182.8 720.8,183.2 721.4,183.6 722.1,184.0 722.7,184.4 723.3,184.8 724.0,185.3 724.6,185.7 725.2,186.2 725.9,186.7 726.5,187.2 727.1,187.7 727.8,188.2 728.4,188.8 729.0,189.3 729.7,189.9 730.3,190.5 730.9,191.1 731.6,191.8 732.0,192.2 732.4,192.6 732.8,193.1 733.3,193.5 733.7,194.0 734.1,194.5 734.5,195.0 735.0,195.5 735.4,196.0 735.8,196.5 736.2,197.0 736.6,197.5 737.1,198.1 737.5,198.6 737.9,199.2 738.3,199.8 738.8,200.4 739.2,200.9 739.6,201.5 740.0,202.1 740.4,202.7 740.9,203.4 741.3,204.0 741.7,204.6 742.1,205.2 742.6,205.9 743.0,206.5 743.4,207.1 743.8,207.8 744.3,208.4 744.7,209.1 745.1,209.8 745.5,210.4 745.9,211.1 746.4,211.8 746.8,212.4 747.2,213.1 747.6,213.8 748.1,214.4 748.5,215.1 748.9,215.8 749.3,216.5 749.7,217.1 750.2,217.8 750.6,218.5 751.0,219.2 751.4,219.8 751.9,220.5 752.3,221.2 752.7,221.9 753.1,222.6 753.6,223.2 754.0,223.9 754.4,224.6 754.8,225.3 755.2,225.9 755.7,226.6 756.1,227.3 756.5,227.9 756.9,228.6 757.4,229.2 757.8,229.9 758.2,230.5 758.6,231.2 759.1,231.8 759.5,232.5 759.9,233.1 760.3,233.7 760.7,234.4 761.2,235.0 761.6,235.6 762.0,236.2 762.4,236.9 762.9,237.5 763.3,238.1 763.7,238.7 764.1,239.3 764.5,240.0 765.0,240.6 765.4,241.2 765.8,241.8 766.2,242.5 766.7,243.1 767.1,243.7 767.5,244.3 767.9,245.0 768.4,245.6 768.8,246.2 769.2,246.9 769.6,247.5 770.0,248.2 770.5,248.8 770.9,249.5 771.3,250.1 771.7,250.8 772.2,251.5 772.6,252.1 773.0,252.8 773.4,253.5 773.8,254.2 774.3,254.9 774.7,255.6 775.1,256.3 775.5,257.1 776.0,257.8 776.4,258.5 776.8,259.3 777.2,260.0 777.7,260.8 778.1,261.5 778.5,262.3 778.9,263.1 779.3,263.8 779.8,264.6 780.2,265.4 780.6,266.2 781.0,267.0 781.5,267.8 781.9,268.7 782.3,269.5 782.7,270.3 783.2,271.2 783.6,272.0 784.0,272.9 784.4,273.7 784.8,274.6 785.3,275.4 785.7,276.3 786.1,277.1 786.5,277.9 787.0,278.8 787.4,279.6 787.8,280.4 788.2,281.2 788.6,282.0 789.1,282.8 789.5,283.6 789.9,284.3 790.3,285.1 790.8,285.8 791.2,286.5 791.6,287.1 792.0,287.8 792.5,288.4 792.9,289.0 793.3,289.6 793.7,290.2 794.1,290.7 794.6,291.3 795.0,291.8 795.4,292.3 795.8,292.8 796.3,293.3 796.7,293.7 797.1,294.2 797.5,294.6 798.2,295.2 798.8,295.8 799.4,296.3 800.1,296.9 800.7,297.4 801.3,297.9 802.0,298.3 802.6,298.8 803.2,299.2 803.9,299.6 804.5,299.9 805.1,300.3 805.8,300.6 806.4,300.9 807.0,301.2 807.7,301.4 808.3,301.7 808.9,301.9 809.6,302.2 810.2,302.4 810.8,302.6 811.5,302.7 812.1,302.9 812.7,302.9 813.4,302.9 814.0,302.7 814.6,302.4 815.3,302.1 815.9,301.7 816.6,301.2 817.2,300.9 817.8,300.5 818.5,300.2 819.1,300.0 819.7,299.8 820.4,299.7 821.0,299.6 821.6,299.5 822.3,299.4 822.9,299.4 823.5,299.4 824.2,299.4 824.8,299.4 825.4,299.4 826.1,299.5 826.7,299.5 827.3,299.5 828.0,299.5 828.6,299.5 829.2,299.5 829.9,299.4 830.5,299.4 831.1,299.3 831.8,299.1 832.4,298.9 833.0,298.7 833.7,298.4 834.3,298.1 834.9,297.7 835.6,297.3 836.2,296.7 836.8,296.1 837.3,295.7 837.7,295.2 838.1,294.7 838.5,294.2 839.0,293.6 839.4,293.0 839.8,292.4 840.2,291.7 840.7,290.9 841.1,290.1 841.5,289.3 841.9,288.4 842.3,287.6 842.8,286.7 843.2,285.8 843.6,285.0 844.0,284.2 844.5,283.4 844.9,282.7 845.3,282.0 845.7,281.4 846.1,280.9 846.6,280.4 847.0,279.9 847.6,279.3 848.3,278.8 848.9,278.3 849.5,277.9 850.2,277.5 850.8,277.1 851.4,276.7 852.1,276.3 852.7,275.8 853.3,275.4 854.0,274.8 854.6,274.2 855.0,273.7 855.4,273.2 855.9,272.7 856.3,272.2 856.7,271.7 857.1,271.1 857.6,270.6 858.0,270.0 858.4,269.5 858.8,268.9 859.3,268.4 859.7,267.8 860.1,267.3 860.5,266.8 860.9,266.3 861.4,265.9 861.8,265.4 862.4,264.8 863.1,264.3 863.7,263.7 864.3,263.3 865.0,262.9 865.6,262.5 866.2,262.1 866.9,261.8 867.5,261.5 868.1,261.3 868.8,261.1 869.4,260.9 870.0,260.7 870.7,260.6 871.3,260.5 871.9,260.4 872.6,260.4 873.2,260.4 873.8,260.3 874.5,260.3 875.1,260.4 875.7,260.4 876.4,260.4 877.0,260.5 877.6,260.5 878.3,260.6 878.9,260.7 879.5,260.7 880.2,260.8 880.8,260.9 881.5,261.0 882.1,261.0 882.7,261.1 883.4,261.1 884.0,261.2 884.6,261.2 885.3,261.3 885.9,261.3 886.5,261.3 887.2,261.3 887.8,261.3 888.4,261.3 889.1,261.3 889.7,261.3 890.3,261.3 891.0,261.2 891.6,261.2 892.2,261.2 892.9,261.1 893.5,261.1 894.1,261.0 894.8,261.0 895.4,260.9 896.0,260.9 896.7,260.8 897.3,260.7 897.9,260.6 898.6,260.6 899.2,260.5 899.8,260.4 900.5,260.3 901.1,260.2 901.7,260.1 902.4,260.0 903.0,259.9 903.6,259.8 904.3,259.7 904.9,259.6 905.6,259.5 906.2,259.4 906.8,259.3 907.5,259.2 908.1,259.1 908.7,259.0 909.4,258.9 910.0,258.7 910.6,258.6 911.3,258.5 911.9,258.4 912.5,258.3 913.2,258.2 913.8,258.1 914.4,258.0 915.1,257.9 915.7,257.8 916.3,257.6 917.0,257.5 917.6,257.4 918.2,257.3 918.9,257.2 919.5,257.1 920.1,257.0 920.8,256.9 921.4,256.8 922.0,256.7 922.7,256.6 923.3,256.5 923.9,256.4 924.6,256.3 925.2,256.2 925.8,256.2 926.5,256.1 927.1,256.0 927.7,255.9 928.4,255.8 929.0,255.7 929.7,255.6 930.3,255.5 930.9,255.4 931.6,255.3 932.2,255.2 932.8,255.1 933.5,255.1 934.1,255.0 934.7,254.9 935.4,254.8 936.0,254.7 936.6,254.6 937.3,254.5 937.9,254.4 938.5,254.3 939.2,254.3 939.8,254.2 940.4,254.1 941.1,254.0 941.7,253.9 942.3,253.8 943.0,253.7 943.6,253.7 944.2,253.6 944.9,253.5 945.5,253.4 946.1,253.3 946.8,253.2 947.4,253.1 948.0,253.1 948.7,253.0 949.3,252.9 949.9,252.8 950.6,252.7 951.2,252.6 951.8,252.5 952.5,252.4 953.1,252.4 953.8,252.3 954.4,252.2 955.0,252.1 955.7,252.0 956.3,251.9 956.9,251.8 957.6,251.7 958.2,251.6 958.8,251.6 959.5,251.5 960.1,251.4 960.7,251.3 961.4,251.2 962.0,251.1 962.6,251.0 963.3,250.9 963.9,250.8 964.5,250.7 965.2,250.6 965.8,250.5 966.4,250.4 967.1,250.3 967.7,250.3 968.3,250.2 969.0,250.1 969.6,250.0 970.2,249.9 970.9,249.8 971.5,249.7 972.1,249.6 972.8,249.5 973.4,249.4 974.0,249.3 974.7,249.2 975.3,249.1 975.9,249.0 976.6,248.9 977.2,248.8 977.9,248.7 978.5,248.6 979.1,248.5 979.8,248.4 980.4,248.3 981.0,248.2 981.7,248.1 982.3,248.0 982.9,247.9 983.6,247.8 984.2,247.7 984.8,247.6 985.5,247.5 986.1,247.4 986.7,247.3 987.4,247.2 987.7,247.2" stroke="#00ff00" stroke-dasharray="26.00 7.30 13.30 7.30" stroke-dashoffset="0.00"/>
<path d="M987.7,247.2 988.3,247.1 989.0,247.0 989.6,246.9 990.2,246.8 990.9,246.7 991.5,246.6 992.1,246.5 992.8,246.4 993.4,246.3 994.0,246.2 994.7,246.1 995.3,246.0 995.9,245.9 996.6,245.8 997.2,245.7 997.8,245.6 998.5,245.5 999.1,245.4 999.7,245.3 1000.4,245.2 1001.0,245.1 1001.7,245.0 1002.3,244.9 1002.9,244.8 1003.6,244.7 1004.2,244.7 1004.8,244.6 1005.5,244.5 1006.1,244.4 1006.7,244.3 1007.4,244.2 1008.0,244.1 1008.6,244.0 1009.3,243.9 1009.9,243.8 1010.5,243.7 1011.2,243.6 1011.8,243.5 1012.4,243.4 1013.1,243.3 1013.7,243.2 1014.3,243.1 1015.0,243.0 1015.6,242.9 1016.2,242.8 1016.9,242.7 1017.5,242.6 1018.1,242.5 1018.8,242.5 1019.4,242.4 1020.0,242.3 1020.7,242.2 1021.3,242.1 1021.9,242.0 1022.6,241.9 1023.2,241.8 1023.8,241.7 1024.5,241.6 1025.1,241.5 1025.8,241.4 1026.4,241.3 1027.0,241.2 1027.7,241.1 1028.3,241.0 1028.9,240.9 1029.6,240.9 1030.2,240.8 1030.8,240.7 1031.5,240.6 1032.1,240.5 1032.7,240.4 1033.4,240.3 1034.0,240.2 1034.6,240.1 1035.3,240.0 1035.9,239.9 1036.5,239.8 1037.2,239.7 1037.8,239.6 1038.4,239.5 1039.1,239.5 1039.7,239.4 1040.3,239.3 1041.0,239.2 1041.6,239.1 1042.2,239.0 1042.9,238.9 1043.5,238.8 1044.1,238.7 1044.8,238.6 1045.4,238.5 1046.0,238.4 1046.7,238.3 1047.3,238.2 1047.9,238.1 1048.6,238.1 1049.2,238.0 1049.9,237.9 1050.5,237.8 1051.1,237.7 1051.8,237.6 1052.4,237.5 1053.0,237.4 1053.7,237.3 1054.3,237.2 1054.9,237.1 1055.6,237.0 1056.2,236.9 1056.8,236.8 1057.5,236.8 1058.1,236.7 1058.7,236.6 1059.4,236.5 1060.0,236.4 1060.6,236.3 1061.3,236.2 1061.9,236.1 1062.5,236.0 1063.2,235.9 1063.8,235.8 1064.4,235.7 1065.1,235.6 1065.7,235.5 1066.3,235.5 1067.0,235.4 1067.6,235.3 1068.2,235.2 1068.9,235.1 1069.5,235.0 1070.1,234.9 1070.8,234.8 1071.4,234.7 1072.0,234.6 1072.7,234.5 1073.3,234.4 1074.0,234.3 1074.6,234.3 1075.2,234.2 1075.9,234.1 1076.5,234.0 1077.1,233.9 1077.8,233.8 1078.4,233.7 1079.0,233.6 1079.7,233.5 1080.3,233.4 1080.9,233.3 1081.6,233.2 1082.2,233.1 1082.8,233.1 1083.5,233.0 1084.1,232.9 1084.7,232.8 1085.4,232.7 1086.0,232.6 1086.6,232.5 1087.3,232.4 1087.9,232.3 1088.5,232.2 1089.2,232.1 1089.8,232.0 1090.4,231.9 1091.1,231.9 1091.7,231.8 1092.3,231.7 1093.0,231.6 1093.6,231.5 1094.2,231.4 1094.9,231.3 1095.5,231.2 1096.1,231.1 1096.8,231.0 1097.4,230.9 1098.1,230.8 1098.7,230.8 1099.3,230.7 1100.0,230.6 1100.6,230.5 1101.2,230.4 1101.9,230.3 1102.5,230.2 1103.1,230.1 1103.8,230.0 1104.4,229.9 1105.0,229.8 1105.7,229.7 1106.3,229.7 1106.9,229.6 1107.6,229.5 1108.2,229.4 1108.8,229.3 1109.5,229.2 1110.1,229.1 1110.7,229.0 1111.4,228.9 1112.0,228.8 1112.6,228.7 1113.3,228.6 1113.9,228.6 1114.5,228.5 1115.2,228.4 1115.8,228.3 1116.4,228.2 1117.1,228.1 1117.7,228.0 1118.3,227.9 1119.0,227.8 1119.6,227.7 1120.2,227.6 1120.9,227.6 1121.5,227.5 1122.2,227.4 1122.8,227.3 1123.4,227.2 1124.1,227.1 1124.7,227.0 1125.3,226.9 1126.0,226.8 1126.6,226.7 1127.2,226.6 1127.9,226.6 1128.5,226.5 1129.1,226.4 1129.8,226.3 1130.4,226.2 1131.0,226.1 1131.7,226.0 1132.3,225.9 1132.9,225.8 1133.6,225.7 1134.2,225.6 1134.8,225.6 1135.5,225.5 1136.1,225.4 1136.7,225.3 1137.4,225.2 1138.0,225.1 1138.6,225.0 1139.3,224.9 1139.9,224.8 1140.5,224.7 1141.2,224.6 1141.8,224.6 1142.4,224.5 1143.1,224.4 1143.7,224.3 1144.3,224.2 1145.0,224.1 1145.6,224.0 1146.2,223.9 1146.9,223.8 1147.5,223.7 1148.2,223.7 1148.8,223.6 1149.4,223.5 1150.1,223.4 1150.7,223.3 1151.3,223.2 1152.0,223.1 1152.6,223.0 1153.2,222.9 1153.9,222.8 1154.5,222.8 1155.1,222.7 1155.8,222.6 1156.4,222.5 1157.0,222.4 1157.7,222.3 1158.3,222.2 1158.9,222.1 1159.6,222.0 1160.2,221.9 1160.8,221.9 1161.5,221.8 1162.1,221.7 1162.7,221.6 1163.4,221.5 1164.0,221.4 1164.6,221.3 1165.3,221.2 1165.9,221.1 1166.5,221.1 1167.2,221.0 1167.8,220.9 1168.4,220.8 1169.1,220.7 1169.7,220.6 1170.3,220.5 1171.0,220.4 1171.6,220.3 1172.3,220.2 1172.9,220.2 1173.5,220.1 1174.2,220.0 1174.8,219.9 1175.4,219.8 1176.1,219.7 1176.7,219.6 1177.3,219.5 1178.0,219.4 1178.6,219.4 1179.2,219.3 1179.9,219.2 1180.5,219.1 1181.1,219.0 1181.8,218.9 1182.4,218.8 1183.0,218.7 1183.7,218.6 1184.3,218.6 1184.9,218.5 1185.6,218.4 1186.2,218.3 1186.8,218.2 1187.5,218.1 1188.1,218.0 1188.7,217.9 1189.4,217.8 1190.0,217.8 1190.6,217.7 1191.3,217.6 1191.9,217.5 1192.5,217.4 1193.2,217.3 1193.8,217.2 1194.4,217.1 1195.1,217.0 1195.7,217.0 1196.4,216.9 1197.0,216.8 1197.6,216.7 1198.3,216.6 1198.9,216.5 1199.5,216.4 1200.2,216.3 1200.8,216.3 1201.4,216.2 1202.1,216.1 1202.7,216.0 1203.3,215.9 1204.0,215.8 1204.6,215.7 1205.2,215.6 1205.9,215.6 1206.5,215.5 1207.1,215.4 1207.8,215.3 1208.4,215.2 1209.0,215.1 1209.7,215.0 1210.3,214.9 1210.9,214.8 1211.6,214.8 1212.2,214.7 1212.8,214.6 1213.5,214.5 1214.1,214.4 1214.7,214.3 1215.4,214.2 1216.0,214.1 1216.6,214.1 1217.3,214.0 1217.9,213.9 1218.5,213.8 1219.2,213.7 1219.2,213.7" stroke="#00ff00" stroke-dasharray="26.00 7.30 13.30 7.30" stroke-dashoffset="5.08"/>
<path d="M672.8,127.2 673.2,126.7 673.6,126.3 674.1,125.9 674.5,125.4 674.9,125.0 675.3,124.6 675.8,124.1 676.2,123.7 676.6,123.3 677.2,122.6 677.9,122.0 678.5,121.4 679.1,120.8 679.8,120.2 680.4,119.6 681.0,119.0 681.7,118.4 682.3,117.8 682.9,117.3 683.6,116.8 684.2,116.2 684.8,115.7 685.5,115.2 686.1,114.7 686.8,114.3 687.4,113.8 688.0,113.4 688.7,113.0 689.3,112.6 689.9,112.2 690.6,111.8 691.2,111.5 691.8,111.2 692.5,110.9 693.1,110.6 693.7,110.4 694.4,110.1 695.0,109.9 695.6,109.7 696.3,109.6 696.9,109.5 697.5,109.3 698.2,109.3 698.8,109.2 699.4,109.2 700.1,109.1 700.7,109.2 701.3,109.2 702.0,109.3 702.6,109.4 703.2,109.5 703.9,109.7 704.5,109.8 705.1,110.0 705.8,110.3 706.4,110.5 707.0,110.8 707.7,111.1 708.3,111.4 708.9,111.8 709.6,112.1 710.2,112.5 710.9,112.9 711.5,113.3 712.1,113.7 712.8,114.1 713.4,114.5 714.0,115.0 714.7,115.4 715.3,115.9 715.9,116.3 716.6,116.8 717.2,117.2 717.8,117.7 718.5,118.2 719.1,118.6 719.7,119.1 720.4,119.6 721.0,120.1 721.6,120.6 722.3,121.1 722.9,121.6 723.5,122.2 724.2,122.7 724.8,123.3 725.4,123.8 726.1,124.4 726.7,125.0 727.3,125.6 728.0,126.2 728.4,126.7 728.8,127.1 729.2,127.5 729.7,128.0 730.1,128.4 730.5,128.9 730.9,129.4 731.4,129.9 731.8,130.4 732.2,130.9 732.6,131.4 733.0,131.9 733.5,132.4 733.9,133.0 734.3,133.5 734.7,134.1 735.2,134.7 735.6,135.3 736.0,135.9 736.4,136.5 736.9,137.1 737.3,137.7 737.7,138.3 738.1,138.9 738.5,139.6 739.0,140.2 739.4,140.9 739.8,141.5 740.2,142.2 740.7,142.9 741.1,143.5 741.5,144.2 741.9,144.9 742.4,145.5 742.8,146.2 743.2,146.9 743.6,147.6 744.0,148.3 744.5,148.9 744.9,149.6 745.3,150.3 745.7,150.9 746.2,151.6 746.6,152.3 747.0,152.9 747.4,153.6 747.8,154.2 748.3,154.9 748.7,155.5 749.1,156.2 749.5,156.8 750.0,157.4 750.4,158.0 750.8,158.6 751.2,159.2 751.7,159.8 752.1,160.4 752.5,161.0 752.9,161.5 753.3,162.1 753.8,162.7 754.2,163.2 754.6,163.8 755.0,164.4 755.5,165.0 755.9,165.5 756.3,166.1 756.7,166.7 757.1,167.3 757.6,167.9 758.0,168.5 758.4,169.1 758.8,169.7 759.3,170.3 759.7,171.0 760.1,171.6 760.5,172.3 761.0,172.9 761.4,173.6 761.8,174.3 762.2,175.1 762.6,175.8 763.1,176.6 763.5,177.3 763.9,178.1 764.3,178.9 764.8,179.8 765.2,180.6 765.6,181.5 766.0,182.4 766.5,183.3 766.9,184.2 767.3,185.2 767.7,186.1 768.1,187.1 768.6,188.1 769.0,189.0 769.4,190.0 769.8,191.0 770.3,192.0 770.7,192.9 771.1,193.9 771.5,194.9 771.9,195.9 772.4,196.8 772.8,197.8 773.2,198.7 773.6,199.6 774.1,200.5 774.5,201.4 774.9,202.2 775.3,203.1 775.8,203.9 776.2,204.7 776.6,205.5 777.0,206.2 777.4,206.9 777.9,207.6 778.3,208.3 778.7,208.9 779.1,209.6 779.6,210.2 780.0,210.8 780.4,211.4 780.8,211.9 781.2,212.5 781.7,213.1 782.1,213.6 782.5,214.2 782.9,214.7 783.4,215.3 783.8,215.8 784.2,216.4 784.6,217.0 785.1,217.6 785.5,218.1 785.9,218.7 786.3,219.4 786.7,220.0 787.2,220.6 787.6,221.3 788.0,222.0 788.4,222.7 788.9,223.5 789.3,224.2 789.7,225.0 790.1,225.9 790.5,226.7 791.0,227.7 791.4,228.6 791.8,229.6 792.2,230.6 792.7,231.6 793.1,232.7 793.5,233.8 793.9,234.9 794.4,236.0 794.6,236.6 794.8,237.1 795.0,237.7 795.2,238.3 795.4,238.9 795.6,239.5 795.8,240.0 796.0,240.6 796.3,241.2 796.5,241.8 796.7,242.4 796.9,243.0 797.1,243.6 797.3,244.2 797.5,244.8 797.7,245.3 797.9,245.9 798.2,246.5 798.4,247.1 798.6,247.7 798.8,248.2 799.0,248.8 799.2,249.4 799.4,250.0 799.9,251.1 800.3,252.2 800.7,253.2 801.1,254.3 801.5,255.3 802.0,256.3 802.4,257.2 802.8,258.2 803.2,259.1 803.7,259.9 804.1,260.8 804.5,261.6 804.9,262.4 805.3,263.2 805.8,264.0 806.2,264.7 806.6,265.5 807.0,266.2 807.5,266.9 807.9,267.6 808.3,268.3 808.7,269.0 809.2,269.6 809.6,270.3 810.0,271.0 810.4,271.6 810.8,272.3 811.3,272.9 811.7,273.6 812.1,274.3 812.5,274.9 813.0,275.6 813.4,276.3 813.8,276.9 814.2,277.6 814.6,278.3 815.1,279.0 815.5,279.7 815.9,280.4 816.3,281.1 816.8,281.8 817.2,282.6 817.6,283.3 818.0,284.0 818.5,284.7 818.9,285.4 819.3,286.1 819.7,286.8 820.1,287.5 820.6,288.2 821.0,288.8 821.4,289.5 821.8,290.2 822.3,290.8 822.7,291.5 823.1,292.1 823.5,292.7 824.0,293.3 824.4,293.9 824.8,294.5 825.2,295.0 825.6,295.6 826.1,296.1 826.5,296.6 826.9,297.1 827.3,297.6 827.8,298.1 828.2,298.5 828.8,299.1 829.4,299.7 830.1,300.2 830.7,300.6 831.4,301.0 832.0,301.3 832.6,301.6 833.3,301.9 833.9,302.1 834.5,302.3 835.2,302.5 835.8,302.6 836.4,302.7 837.1,302.7 837.7,302.8 838.3,302.8 839.0,302.8 839.6,302.8 840.2,302.7 840.9,302.7 841.5,302.6 842.1,302.6 842.8,302.5 843.4,302.5 844.0,302.4 844.7,302.4 845.3,302.3 845.9,302.3 846.6,302.2 847.2,302.2 847.8,302.1 848.5,302.0 849.1,301.9 849.7,301.8 850.4,301.7 851.0,301.6 851.6,301.4 852.3,301.2 852.9,301.1 853.5,300.9 854.2,300.6 854.8,300.4 855.4,300.1 856.1,299.8 856.7,299.5 857.4,299.1 858.0,298.7 858.6,298.3 859.3,297.9 859.9,297.4 860.5,297.0 861.2,296.5 861.8,296.0 862.4,295.4 863.1,294.9 863.7,294.3 864.3,293.7 865.0,293.1 865.6,292.5 866.2,291.9 866.9,291.3 867.3,290.8 867.7,290.4 868.1,290.0 868.6,289.5 869.0,289.1 869.4,288.6 869.8,288.2 870.2,287.7 870.7,287.3 871.1,286.8 871.5,286.4 871.9,285.9 872.4,285.5 872.8,285.0 873.2,284.6 873.6,284.1 874.1,283.6 874.5,283.2 874.9,282.7 875.3,282.3 875.7,281.8 876.2,281.4 876.6,280.9 877.0,280.5 877.4,280.0 877.9,279.6 878.3,279.2 878.7,278.7 879.1,278.3 879.5,277.9 880.0,277.4 880.6,276.8 881.2,276.2 881.9,275.6 882.5,274.9 883.1,274.3 883.8,273.7 884.4,273.1 885.0,272.5 885.7,272.0 886.3,271.4 886.9,270.8 887.6,270.3 888.2,269.7 888.9,269.2 889.5,268.7 890.1,268.1 890.8,267.6 891.4,267.1 892.0,266.6 892.7,266.1 893.3,265.7 893.9,265.2 894.6,264.8 895.2,264.3 895.8,263.9 896.5,263.4 897.1,263.0 897.7,262.6 898.4,262.2 899.0,261.8 899.6,261.4 900.3,261.1 900.9,260.7 901.5,260.3 902.2,260.0 902.8,259.6 903.4,259.3 904.1,259.0 904.7,258.7 905.3,258.3 906.0,258.0 906.6,257.7 907.2,257.5 907.9,257.2 908.5,256.9 909.1,256.6 909.8,256.4 910.4,256.1 911.0,255.9 911.7,255.7 912.3,255.4 913.0,255.2 913.6,255.0 914.2,254.8 914.9,254.6 915.5,254.4 916.1,254.2 916.8,254.1 917.4,253.9 918.0,253.7 918.7,253.6 919.3,253.4 919.9,253.3 920.6,253.1 921.2,253.0 921.8,252.9 922.5,252.7 923.1,252.6 923.7,252.5 924.4,252.4 925.0,252.3 925.6,252.2 926.3,252.2 926.9,252.1 927.5,252.0 928.2,251.9 928.8,251.9 929.4,251.8 930.1,251.8 930.7,251.7 931.3,251.7 932.0,251.6 932.6,251.6 933.2,251.5 933.9,251.5 934.5,251.5 935.1,251.4 935.8,251.4 936.4,251.4 937.1,251.4 937.7,251.4 938.3,251.3 939.0,251.3 939.6,251.3 940.2,251.3 940.9,251.3 941.5,251.3 942.1,251.3 942.8,251.3 943.4,251.3 944.0,251.3 944.7,251.3 945.3,251.3 945.9,251.3 946.6,251.3 947.2,251.2 947.8,251.2 948.5,251.2 949.1,251.2 949.7,251.2 950.4,251.2 951.0,251.2 951.6,251.2 952.3,251.2 952.9,251.2 953.5,251.2 954.2,251.1 954.8,251.1 955.4,251.1 956.1,251.1 956.7,251.0 957.3,251.0 958.0,251.0 958.6,250.9 959.2,250.9 959.9,250.9 960.5,250.8 961.1,250.8 961.8,250.7 962.4,250.7 963.1,250.6 963.7,250.6 964.3,250.5 965.0,250.5 965.6,250.4 966.2,250.3 966.9,250.3 967.5,250.2 968.1,250.1 968.8,250.1 969.4,250.0 970.0,249.9 970.7,249.8 971.3,249.8 971.9,249.7 972.6,249.6 973.2,249.5 973.8,249.4 974.5,249.3 975.1,249.2 975.7,249.2 976.4,249.1 977.0,249.0 977.6,248.9 978.3,248.8 978.9,248.7 979.5,248.6 980.2,248.5 980.8,248.4 981.4,248.3 982.1,248.2 982.7,248.1 983.3,248.0 984.0,247.9 984.6,247.8 985.2,247.7 985.9,247.6 986.5,247.5 987.2,247.4 987.7,247.3" stroke="#00ffff" stroke-dasharray="26.50 27.40" stroke-dashoffset="0.00"/>
<path d="M987.7,247.3 988.3,247.2 989.0,247.1 989.6,247.0 990.2,246.9 990.9,246.8 991.5,246.7 992.1,246.6 992.8,246.5 993.4,246.4 994.0,246.3 994.7,246.1 995.3,246.0 995.9,245.9 996.6,245.8 997.2,245.7 997.8,245.6 998.5,245.5 999.1,245.4 999.7,245.3 1000.4,245.2 1001.0,245.1 1001.7,245.0 1002.3,244.9 1002.9,244.8 1003.6,244.7 1004.2,244.6 1004.8,244.5 1005.5,244.4 1006.1,244.3 1006.7,244.2 1007.4,244.1 1008.0,244.0 1008.6,243.9 1009.3,243.8 1009.9,243.7 1010.5,243.6 1011.2,243.5 1011.8,243.4 1012.4,243.3 1013.1,243.2 1013.7,243.1 1014.3,243.0 1015.0,243.0 1015.6,242.9 1016.2,242.8 1016.9,242.7 1017.5,242.6 1018.1,242.5 1018.8,242.4 1019.4,242.3 1020.0,242.2 1020.7,242.1 1021.3,242.0 1021.9,241.9 1022.6,241.8 1023.2,241.7 1023.8,241.6 1024.5,241.6 1025.1,241.5 1025.8,241.4 1026.4,241.3 1027.0,241.2 1027.7,241.1 1028.3,241.0 1028.9,240.9 1029.6,240.8 1030.2,240.7 1030.8,240.6 1031.5,240.5 1032.1,240.5 1032.7,240.4 1033.4,240.3 1034.0,240.2 1034.6,240.1 1035.3,240.0 1035.9,239.9 1036.5,239.8 1037.2,239.7 1037.8,239.6 1038.4,239.5 1039.1,239.5 1039.7,239.4 1040.3,239.3 1041.0,239.2 1041.6,239.1 1042.2,239.0 1042.9,238.9 1043.5,238.8 1044.1,238.7 1044.8,238.6 1045.4,238.5 1046.0,238.4 1046.7,238.3 1047.3,238.3 1047.9,238.2 1048.6,238.1 1049.2,238.0 1049.9,237.9 1050.5,237.8 1051.1,237.7 1051.8,237.6 1052.4,237.5 1053.0,237.4 1053.7,237.3 1054.3,237.2 1054.9,237.1 1055.6,237.0 1056.2,236.9 1056.8,236.9 1057.5,236.8 1058.1,236.7 1058.7,236.6 1059.4,236.5 1060.0,236.4 1060.6,236.3 1061.3,236.2 1061.9,236.1 1062.5,236.0 1063.2,235.9 1063.8,235.8 1064.4,235.7 1065.1,235.6 1065.7,235.5 1066.3,235.4 1067.0,235.4 1067.6,235.3 1068.2,235.2 1068.9,235.1 1069.5,235.0 1070.1,234.9 1070.8,234.8 1071.4,234.7 1072.0,234.6 1072.7,234.5 1073.3,234.4 1074.0,234.3 1074.6,234.2 1075.2,234.1 1075.9,234.0 1076.5,233.9 1077.1,233.9 1077.8,233.8 1078.4,233.7 1079.0,233.6 1079.7,233.5 1080.3,233.4 1080.9,233.3 1081.6,233.2 1082.2,233.1 1082.8,233.0 1083.5,232.9 1084.1,232.8 1084.7,232.7 1085.4,232.6 1086.0,232.5 1086.6,232.4 1087.3,232.4 1087.9,232.3 1088.5,232.2 1089.2,232.1 1089.8,232.0 1090.4,231.9 1091.1,231.8 1091.7,231.7 1092.3,231.6 1093.0,231.5 1093.6,231.4 1094.2,231.3 1094.9,231.2 1095.5,231.1 1096.1,231.0 1096.8,231.0 1097.4,230.9 1098.1,230.8 1098.7,230.7 1099.3,230.6 1100.0,230.5 1100.6,230.4 1101.2,230.3 1101.9,230.2 1102.5,230.1 1103.1,230.0 1103.8,229.9 1104.4,229.8 1105.0,229.7 1105.7,229.7 1106.3,229.6 1106.9,229.5 1107.6,229.4 1108.2,229.3 1108.8,229.2 1109.5,229.1 1110.1,229.0 1110.7,228.9 1111.4,228.8 1112.0,228.7 1112.6,228.6 1113.3,228.5 1113.9,228.5 1114.5,228.4 1115.2,228.3 1115.8,228.2 1116.4,228.1 1117.1,228.0 1117.7,227.9 1118.3,227.8 1119.0,227.7 1119.6,227.6 1120.2,227.5 1120.9,227.4 1121.5,227.4 1122.2,227.3 1122.8,227.2 1123.4,227.1 1124.1,227.0 1124.7,226.9 1125.3,226.8 1126.0,226.7 1126.6,226.6 1127.2,226.5 1127.9,226.4 1128.5,226.3 1129.1,226.3 1129.8,226.2 1130.4,226.1 1131.0,226.0 1131.7,225.9 1132.3,225.8 1132.9,225.7 1133.6,225.6 1134.2,225.5 1134.8,225.4 1135.5,225.3 1136.1,225.3 1136.7,225.2 1137.4,225.1 1138.0,225.0 1138.6,224.9 1139.3,224.8 1139.9,224.7 1140.5,224.6 1141.2,224.5 1141.8,224.4 1142.4,224.3 1143.1,224.3 1143.7,224.2 1144.3,224.1 1145.0,224.0 1145.6,223.9 1146.2,223.8 1146.9,223.7 1147.5,223.6 1148.2,223.5 1148.8,223.4 1149.4,223.4 1150.1,223.3 1150.7,223.2 1151.3,223.1 1152.0,223.0 1152.6,222.9 1153.2,222.8 1153.9,222.7 1154.5,222.6 1155.1,222.5 1155.8,222.4 1156.4,222.4 1157.0,222.3 1157.7,222.2 1158.3,222.1 1158.9,222.0 1159.6,221.9 1160.2,221.8 1160.8,221.7 1161.5,221.6 1162.1,221.6 1162.7,221.5 1163.4,221.4 1164.0,221.3 1164.6,221.2 1165.3,221.1 1165.9,221.0 1166.5,220.9 1167.2,220.8 1167.8,220.7 1168.4,220.7 1169.1,220.6 1169.7,220.5 1170.3,220.4 1171.0,220.3 1171.6,220.2 1172.3,220.1 1172.9,220.0 1173.5,219.9 1174.2,219.9 1174.8,219.8 1175.4,219.7 1176.1,219.6 1176.7,219.5 1177.3,219.4 1178.0,219.3 1178.6,219.2 1179.2,219.1 1179.9,219.1 1180.5,219.0 1181.1,218.9 1181.8,218.8 1182.4,218.7 1183.0,218.6 1183.7,218.5 1184.3,218.4 1184.9,218.3 1185.6,218.3 1186.2,218.2 1186.8,218.1 1187.5,218.0 1188.1,217.9 1188.7,217.8 1189.4,217.7 1190.0,217.6 1190.6,217.6 1191.3,217.5 1191.9,217.4 1192.5,217.3 1193.2,217.2 1193.8,217.1 1194.4,217.0 1195.1,216.9 1195.7,216.8 1196.4,216.8 1197.0,216.7 1197.6,216.6 1198.3,216.5 1198.9,216.4 1199.5,216.3 1200.2,216.2 1200.8,216.1 1201.4,216.1 1202.1,216.0 1202.7,215.9 1203.3,215.8 1204.0,215.7 1204.6,215.6 1205.2,215.5 1205.9,215.4 1206.5,215.4 1207.1,215.3 1207.8,215.2 1208.4,215.1 1209.0,215.0 1209.7,214.9 1210.3,214.8 1210.9,214.7 1211.6,214.7 1212.2,214.6 1212.8,214.5 1213.5,214.4 1214.1,214.3 1214.7,214.2 1215.4,214.1 1216.0,214.0 1216.6,214.0 1217.3,213.9 1217.9,213.8 1218.5,213.7 1219.2,213.6 1219.2,213.6" stroke="#00ffff" stroke-dasharray="26.50 27.40" stroke-dashoffset="13.82"/>
<path d="M672.8,296.2 673.4,296.1 674.1,296.0 674.7,295.9 675.3,295.8 676.0,295.7 676.6,295.6 677.2,295.5 677.9,295.4 678.5,295.3 679.1,295.2 679.8,295.1 680.4,295.0 681.0,294.8 681.7,294.7 682.3,294.6 682.9,294.5 683.6,294.4 684.2,294.3 684.8,294.2 685.5,294.1 686.1,294.0 686.8,293.9 687.4,293.8 688.0,293.7 688.7,293.6 689.3,293.5 689.9,293.4 690.6,293.3 691.2,293.2 691.8,293.1 692.5,293.0 693.1,292.9 693.7,292.8 694.4,292.7 695.0,292.6 695.6,292.5 696.3,292.4 696.9,292.3 697.5,292.2 698.2,292.1 698.8,292.0 699.4,291.9 700.1,291.8 700.7,291.7 701.3,291.6 702.0,291.5 702.6,291.4 703.2,291.3 703.9,291.2 704.5,291.1 705.1,291.0 705.8,290.9 706.4,290.8 707.0,290.7 707.7,290.6 708.3,290.5 708.9,290.4 709.6,290.3 710.2,290.2 710.9,290.1 711.5,290.0 712.1,289.9 712.8,289.8 713.4,289.7 714.0,289.6 714.7,289.5 715.3,289.4 715.9,289.3 716.6,289.2 717.2,289.1 717.8,289.0 718.5,288.9 719.1,288.8 719.7,288.7 720.4,288.6 721.0,288.5 721.6,288.4 722.3,288.3 722.9,288.2 723.5,288.1 724.2,288.0 724.8,287.9 725.4,287.8 726.1,287.7 726.7,287.6 727.3,287.5 728.0,287.4 728.6,287.3 729.2,287.2 729.9,287.1 730.5,287.0 731.1,286.9 731.8,286.8 732.4,286.7 733.0,286.6 733.7,286.5 734.3,286.4 735.0,286.3 735.6,286.2 736.2,286.1 736.9,286.0 737.5,285.9 738.1,285.8 738.8,285.7 739.4,285.6 740.0,285.5 740.7,285.4 741.3,285.3 741.9,285.2 742.6,285.1 743.2,285.0 743.8,284.9 744.5,284.8 745.1,284.7 745.7,284.6 746.4,284.5 747.0,284.4 747.6,284.3 748.3,284.2 748.9,284.1 749.5,284.0 750.2,283.9 750.8,283.8 751.4,283.7 752.1,283.6 752.7,283.5 753.3,283.4 754.0,283.3 754.6,283.2 755.2,283.1 755.9,283.0 756.5,282.9 757.1,282.8 757.8,282.7 758.4,282.6 759.1,282.5 759.7,282.4 760.3,282.3 761.0,282.2 761.6,282.1 762.2,282.0 762.9,281.9 763.5,281.8 764.1,281.7 764.8,281.6 765.4,281.5 766.0,281.4 766.7,281.3 767.3,281.2 767.9,281.1 768.6,281.0 769.2,280.9 769.8,280.8 770.5,280.7 771.1,280.6 771.7,280.5 772.4,280.4 773.0,280.3 773.6,280.2 774.3,280.1 774.9,280.0 775.5,279.9 776.2,279.8 776.8,279.7 777.4,279.6 778.1,279.5 778.7,279.4 779.3,279.3 780.0,279.2 780.6,279.1 781.2,279.1 781.9,279.0 782.5,278.9 783.2,278.8 783.8,278.7 784.4,278.6 785.1,278.5 785.7,278.4 786.3,278.3 787.0,278.2 787.6,278.1 788.2,278.0 788.9,277.9 789.5,277.8 790.1,277.7 790.8,277.6 791.4,277.5 792.0,277.4 792.7,277.3 793.3,277.2 793.9,277.1 794.6,277.0 795.2,276.9 795.8,276.8 796.5,276.7 797.1,276.6 797.7,276.5 798.4,276.4 799.0,276.3 799.6,276.2 800.3,276.1 800.9,276.0 801.5,275.9 802.2,275.8 802.8,275.7 803.4,275.6 804.1,275.5 804.7,275.4 805.3,275.3 806.0,275.2 806.6,275.1 807.3,275.0 807.9,274.9 808.5,274.8 809.2,274.7 809.8,274.6 810.4,274.5 811.1,274.4 811.7,274.3 812.3,274.2 813.0,274.1 813.6,274.0 814.2,273.9 814.9,273.8 815.5,273.7 816.1,273.6 816.8,273.5 817.4,273.4 818.0,273.3 818.7,273.2 819.3,273.1 819.9,273.0 820.6,272.9 821.2,272.8 821.8,272.7 822.5,272.6 823.1,272.5 823.7,272.4 824.4,272.3 825.0,272.2 825.6,272.1 826.3,272.0 826.9,271.9 827.5,271.8 828.2,271.7 828.8,271.6 829.4,271.5 830.1,271.4 830.7,271.3 831.4,271.2 832.0,271.1 832.6,271.0 833.3,270.9 833.9,270.8 834.5,270.7 835.2,270.6 835.8,270.5 836.4,270.4 837.1,270.3 837.7,270.2 838.3,270.1 839.0,270.0 839.6,269.9 840.2,269.8 840.9,269.7 841.5,269.6 842.1,269.5 842.8,269.4 843.4,269.3 844.0,269.2 844.7,269.1 845.3,269.0 845.9,268.9 846.6,268.8 847.2,268.7 847.8,268.6 848.5,268.5 849.1,268.4 849.7,268.3 850.4,268.2 851.0,268.1 851.6,268.0 852.3,267.9 852.9,267.8 853.5,267.7 854.2,267.6 854.8,267.5 855.4,267.4 856.1,267.3 856.7,267.2 857.4,267.1 858.0,267.0 858.6,267.0 859.3,266.9 859.9,266.8 860.5,266.7 861.2,266.6 861.8,266.5 862.4,266.4 863.1,266.3 863.7,266.2 864.3,266.1 865.0,266.0 865.6,265.9 866.2,265.8 866.9,265.7 867.5,265.6 868.1,265.5 868.8,265.4 869.4,265.3 870.0,265.2 870.7,265.1 871.3,265.0 871.9,264.9 872.6,264.8 873.2,264.7 873.8,264.6 874.5,264.5 875.1,264.4 875.7,264.3 876.4,264.2 877.0,264.1 877.6,264.0 878.3,263.9 878.9,263.8 879.5,263.7 880.2,263.6 880.8,263.5 881.5,263.4 882.1,263.3 882.7,263.2 883.4,263.1 884.0,263.0 884.6,262.9 885.3,262.8 885.9,262.7 886.5,262.6 887.2,262.5 887.8,262.4 888.4,262.3 889.1,262.2 889.7,262.1 890.3,262.0 891.0,261.9 891.6,261.8 892.2,261.7 892.9,261.6 893.5,261.5 894.1,261.4 894.8,261.3 895.4,261.2 896.0,261.2 896.7,261.1 897.3,261.0 897.9,260.9 898.6,260.8 899.2,260.7 899.8,260.6 900.5,260.5 901.1,260.4 901.7,260.3 902.4,260.2 903.0,260.1 903.6,260.0 904.3,259.9 904.9,259.8 905.6,259.7 906.2,259.6 906.8,259.5 907.5,259.4 908.1,259.3 908.7,259.2 909.4,259.1 910.0,259.0 910.6,258.9 911.3,258.8 911.9,258.7 912.5,258.6 913.2,258.5 913.8,258.4 914.4,258.3 915.1,258.2 915.7,258.1 916.3,258.0 917.0,257.9 917.6,257.8 918.2,257.7 918.9,257.6 919.5,257.5 920.1,257.4 920.8,257.3 921.4,257.2 922.0,257.1 922.7,257.1 923.3,257.0 923.9,256.9 924.6,256.8 925.2,256.7 925.8,256.6 926.5,256.5 927.1,256.4 927.7,256.3 928.4,256.2 929.0,256.1 929.7,256.0 930.3,255.9 930.9,255.8 931.6,255.7 932.2,255.6 932.8,255.5 933.5,255.4 934.1,255.3 934.7,255.2 935.4,255.1 936.0,255.0 936.6,254.9 937.3,254.8 937.9,254.7 938.5,254.6 939.2,254.5 939.8,254.4 940.4,254.3 941.1,254.2 941.7,254.1 942.3,254.0 943.0,253.9 943.6,253.8 944.2,253.7 944.9,253.7 945.5,253.6 946.1,253.5 946.8,253.4 947.4,253.3 948.0,253.2 948.7,253.1 949.3,253.0 949.9,252.9 950.6,252.8 951.2,252.7 951.8,252.6 952.5,252.5 953.1,252.4 953.8,252.3 954.4,252.2 955.0,252.1 955.7,252.0 956.3,251.9 956.9,251.8 957.6,251.7 958.2,251.6 958.8,251.5 959.5,251.4 960.1,251.3 960.7,251.2 961.4,251.1 962.0,251.0 962.6,250.9 963.3,250.8 963.9,250.8 964.5,250.7 965.2,250.6 965.8,250.5 966.4,250.4 967.1,250.3 967.7,250.2 968.3,250.1 969.0,250.0 969.6,249.9 970.2,249.8 970.9,249.7 971.5,249.6 972.1,249.5 972.8,249.4 973.4,249.3 974.0,249.2 974.7,249.1 975.3,249.0 975.9,248.9 976.6,248.8 977.2,248.7 977.9,248.6 978.5,248.5 979.1,248.4 979.8,248.3 980.4,248.3 981.0,248.2 981.7,248.1 982.3,248.0 982.9,247.9 983.6,247.8 984.2,247.7 984.8,247.6 985.5,247.5 986.1,247.4 986.7,247.3 987.4,247.2 987.7,247.1" stroke="#ff0000" stroke-dasharray="26.50 27.40" stroke-dashoffset="0.00"/>
<path d="M987.7,247.1 988.3,247.1 989.0,247.0 989.6,246.9 990.2,246.8 990.9,246.7 991.5,246.6 992.1,246.5 992.8,246.4 993.4,246.3 994.0,246.2 994.7,246.1 995.3,246.0 995.9,245.9 996.6,245.8 997.2,245.7 997.8,245.6 998.5,245.5 999.1,245.4 999.7,245.3 1000.4,245.2 1001.0,245.1 1001.7,245.0 1002.3,245.0 1002.9,244.9 1003.6,244.8 1004.2,244.7 1004.8,244.6 1005.5,244.5 1006.1,244.4 1006.7,244.3 1007.4,244.2 1008.0,244.1 1008.6,244.0 1009.3,243.9 1009.9,243.8 1010.5,243.7 1011.2,243.6 1011.8,243.5 1012.4,243.4 1013.1,243.3 1013.7,243.2 1014.3,243.1 1015.0,243.0 1015.6,243.0 1016.2,242.9 1016.9,242.8 1017.5,242.7 1018.1,242.6 1018.8,242.5 1019.4,242.4 1020.0,242.3 1020.7,242.2 1021.3,242.1 1021.9,242.0 1022.6,241.9 1023.2,241.8 1023.8,241.7 1024.5,241.6 1025.1,241.5 1025.8,241.4 1026.4,241.3 1027.0,241.2 1027.7,241.2 1028.3,241.1 1028.9,241.0 1029.6,240.9 1030.2,240.8 1030.8,240.7 1031.5,240.6 1032.1,240.5 1032.7,240.4 1033.4,240.3 1034.0,240.2 1034.6,240.1 1035.3,240.0 1035.9,239.9 1036.5,239.8 1037.2,239.7 1037.8,239.6 1038.4,239.5 1039.1,239.5 1039.7,239.4 1040.3,239.3 1041.0,239.2 1041.6,239.1 1042.2,239.0 1042.9,238.9 1043.5,238.8 1044.1,238.7 1044.8,238.6 1045.4,238.5 1046.0,238.4 1046.7,238.3 1047.3,238.2 1047.9,238.1 1048.6,238.0 1049.2,238.0 1049.9,237.9 1050.5,237.8 1051.1,237.7 1051.8,237.6 1052.4,237.5 1053.0,237.4 1053.7,237.3 1054.3,237.2 1054.9,237.1 1055.6,237.0 1056.2,236.9 1056.8,236.8 1057.5,236.7 1058.1,236.6 1058.7,236.5 1059.4,236.5 1060.0,236.4 1060.6,236.3 1061.3,236.2 1061.9,236.1 1062.5,236.0 1063.2,235.9 1063.8,235.8 1064.4,235.7 1065.1,235.6 1065.7,235.5 1066.3,235.4 1067.0,235.3 1067.6,235.2 1068.2,235.1 1068.9,235.1 1069.5,235.0 1070.1,234.9 1070.8,234.8 1071.4,234.7 1072.0,234.6 1072.7,234.5 1073.3,234.4 1074.0,234.3 1074.6,234.2 1075.2,234.1 1075.9,234.0 1076.5,233.9 1077.1,233.8 1077.8,233.8 1078.4,233.7 1079.0,233.6 1079.7,233.5 1080.3,233.4 1080.9,233.3 1081.6,233.2 1082.2,233.1 1082.8,233.0 1083.5,232.9 1084.1,232.8 1084.7,232.7 1085.4,232.6 1086.0,232.5 1086.6,232.5 1087.3,232.4 1087.9,232.3 1088.5,232.2 1089.2,232.1 1089.8,232.0 1090.4,231.9 1091.1,231.8 1091.7,231.7 1092.3,231.6 1093.0,231.5 1093.6,231.4 1094.2,231.3 1094.9,231.3 1095.5,231.2 1096.1,231.1 1096.8,231.0 1097.4,230.9 1098.1,230.8 1098.7,230.7 1099.3,230.6 1100.0,230.5 1100.6,230.4 1101.2,230.3 1101.9,230.2 1102.5,230.1 1103.1,230.1 1103.8,230.0 1104.4,229.9 1105.0,229.8 1105.7,229.7 1106.3,229.6 1106.9,229.5 1107.6,229.4 1108.2,229.3 1108.8,229.2 1109.5,229.1 1110.1,229.0 1110.7,229.0 1111.4,228.9 1112.0,228.8 1112.6,228.7 1113.3,228.6 1113.9,228.5 1114.5,228.4 1115.2,228.3 1115.8,228.2 1116.4,228.1 1117.1,228.0 1117.7,227.9 1118.3,227.9 1119.0,227.8 1119.6,227.7 1120.2,227.6 1120.9,227.5 1121.5,227.4 1122.2,227.3 1122.8,227.2 1123.4,227.1 1124.1,227.0 1124.7,226.9 1125.3,226.9 1126.0,226.8 1126.6,226.7 1127.2,226.6 1127.9,226.5 1128.5,226.4 1129.1,226.3 1129.8,226.2 1130.4,226.1 1131.0,226.0 1131.7,225.9 1132.3,225.9 1132.9,225.8 1133.6,225.7 1134.2,225.6 1134.8,225.5 1135.5,225.4 1136.1,225.3 1136.7,225.2 1137.4,225.1 1138.0,225.0 1138.6,224.9 1139.3,224.9 1139.9,224.8 1140.5,224.7 1141.2,224.6 1141.8,224.5 1142.4,224.4 1143.1,224.3 1143.7,224.2 1144.3,224.1 1145.0,224.0 1145.6,224.0 1146.2,223.9 1146.9,223.8 1147.5,223.7 1148.2,223.6 1148.8,223.5 1149.4,223.4 1150.1,223.3 1150.7,223.2 1151.3,223.1 1152.0,223.0 1152.6,223.0 1153.2,222.9 1153.9,222.8 1154.5,222.7 1155.1,222.6 1155.8,222.5 1156.4,222.4 1157.0,222.3 1157.7,222.2 1158.3,222.2 1158.9,222.1 1159.6,222.0 1160.2,221.9 1160.8,221.8 1161.5,221.7 1162.1,221.6 1162.7,221.5 1163.4,221.4 1164.0,221.3 1164.6,221.3 1165.3,221.2 1165.9,221.1 1166.5,221.0 1167.2,220.9 1167.8,220.8 1168.4,220.7 1169.1,220.6 1169.7,220.5 1170.3,220.5 1171.0,220.4 1171.6,220.3 1172.3,220.2 1172.9,220.1 1173.5,220.0 1174.2,219.9 1174.8,219.8 1175.4,219.7 1176.1,219.6 1176.7,219.6 1177.3,219.5 1178.0,219.4 1178.6,219.3 1179.2,219.2 1179.9,219.1 1180.5,219.0 1181.1,218.9 1181.8,218.9 1182.4,218.8 1183.0,218.7 1183.7,218.6 1184.3,218.5 1184.9,218.4 1185.6,218.3 1186.2,218.2 1186.8,218.1 1187.5,218.1 1188.1,218.0 1188.7,217.9 1189.4,217.8 1190.0,217.7 1190.6,217.6 1191.3,217.5 1191.9,217.4 1192.5,217.3 1193.2,217.3 1193.8,217.2 1194.4,217.1 1195.1,217.0 1195.7,216.9 1196.4,216.8 1197.0,216.7 1197.6,216.6 1198.3,216.6 1198.9,216.5 1199.5,216.4 1200.2,216.3 1200.8,216.2 1201.4,216.1 1202.1,216.0 1202.7,215.9 1203.3,215.9 1204.0,215.8 1204.6,215.7 1205.2,215.6 1205.9,215.5 1206.5,215.4 1207.1,215.3 1207.8,215.2 1208.4,215.1 1209.0,215.1 1209.7,215.0 1210.3,214.9 1210.9,214.8 1211.6,214.7 1212.2,214.6 1212.8,214.5 1213.5,214.5 1214.1,214.4 1214.7,214.3 1215.4,214.2 1216.0,214.1 1216.6,214.0 1217.3,213.9 1217.9,213.8 1218.5,213.8 1219.2,213.7 1219.2,213.7" stroke="#ff0000" stroke-dasharray="26.50 27.40" stroke-dashoffset="49.55"/>
</g>
</svg></body></html>
